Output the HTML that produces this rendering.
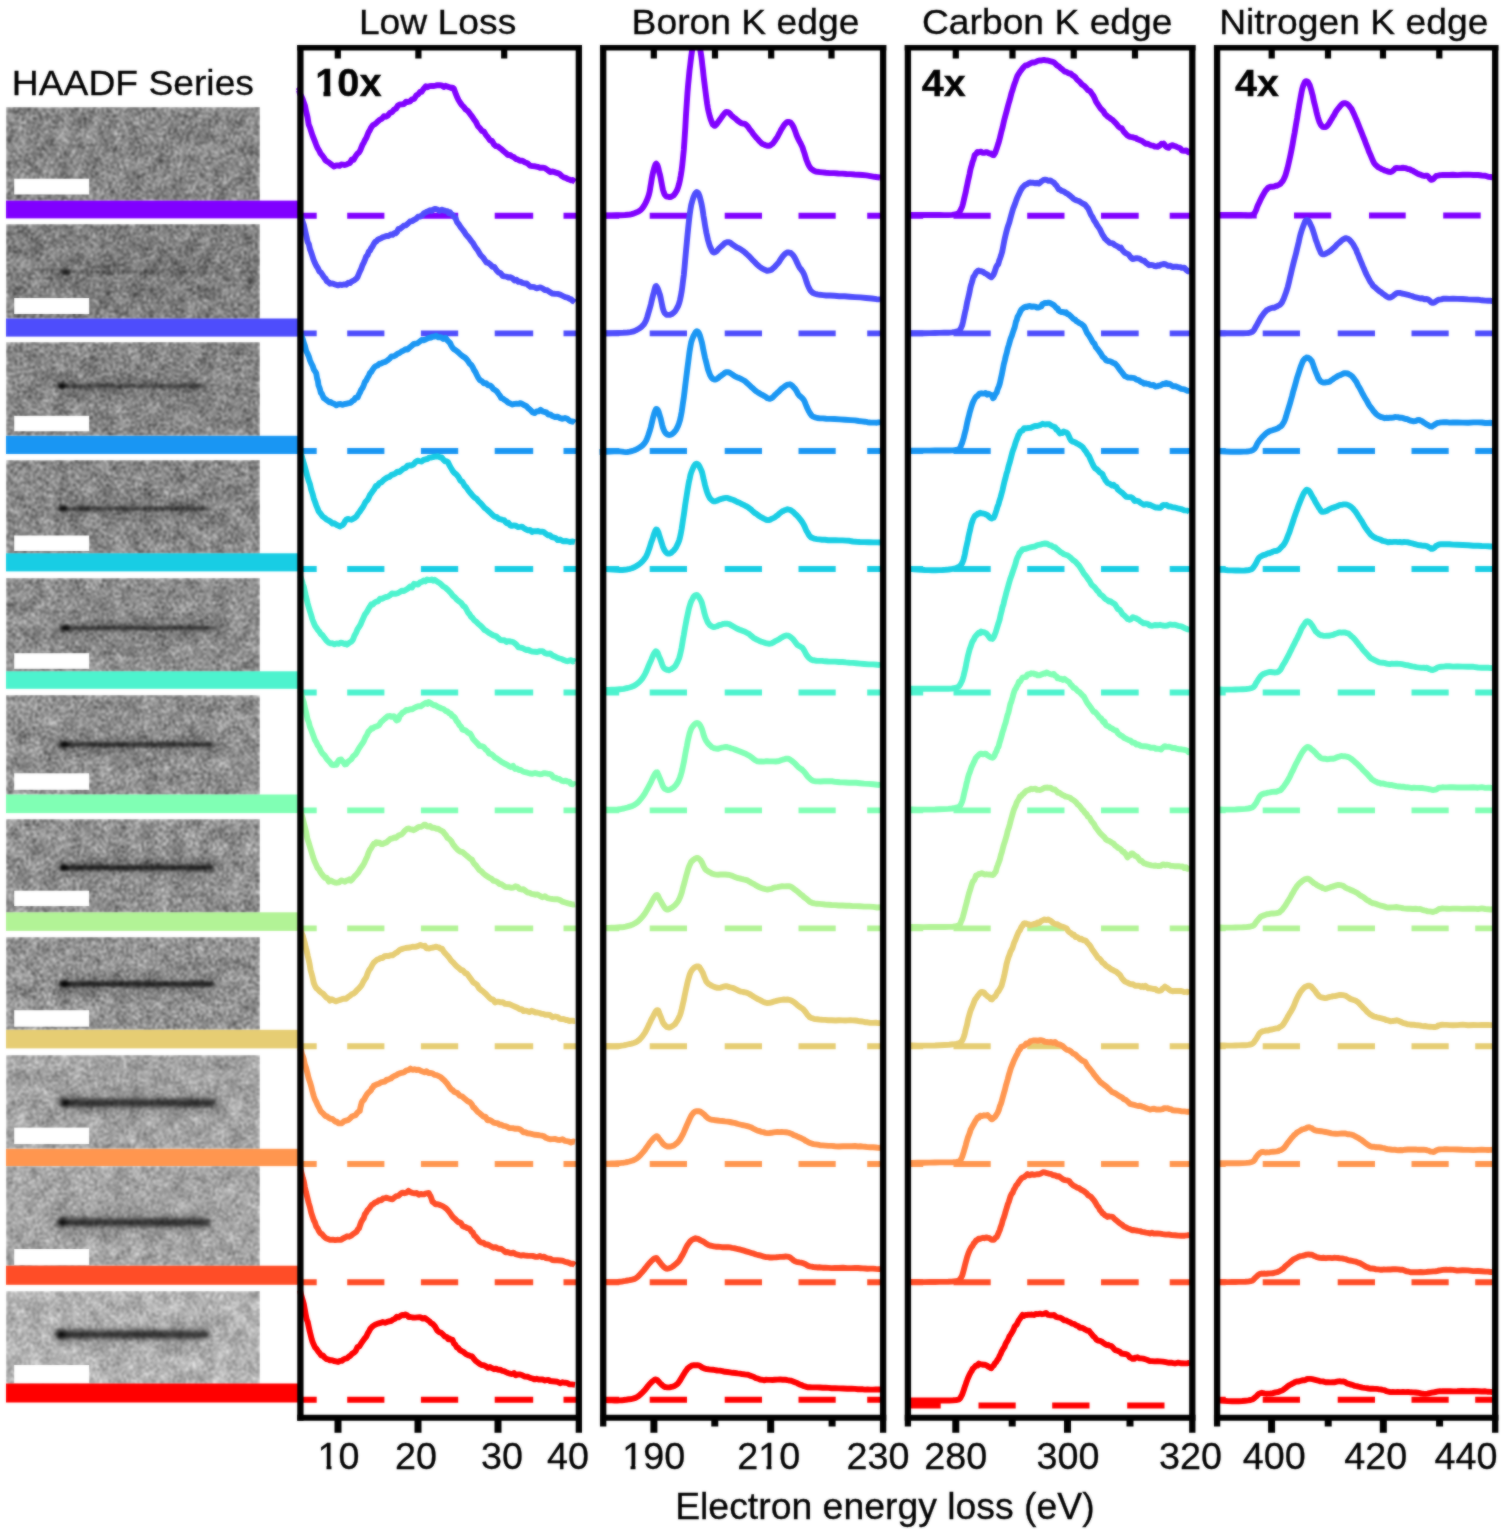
<!DOCTYPE html>
<html lang="en">
<head>
<meta charset="utf-8">
<title>HAADF Series and EELS spectra</title>
<style>
html,body{margin:0;padding:0;background:#fff;}
body{width:1504px;height:1533px;overflow:hidden;}
svg{display:block;}
</style>
</head>
<body>
<svg width="1504" height="1533" viewBox="0 0 1504 1533" role="img" aria-label="HAADF series and EELS spectra: Low Loss, Boron K edge, Carbon K edge, Nitrogen K edge">
<defs>
<filter id="nz0" x="0" y="0" width="100%" height="100%" color-interpolation-filters="sRGB"><feTurbulence type="fractalNoise" baseFrequency="0.45" numOctaves="1" seed="3"/><feColorMatrix type="matrix" values="1 0 0 0 0 1 0 0 0 0 1 0 0 0 0 0 0 0 0 1" result="a"/><feTurbulence type="fractalNoise" baseFrequency="0.07" numOctaves="2" seed="20"/><feColorMatrix type="matrix" values="1 0 0 0 0 1 0 0 0 0 1 0 0 0 0 0 0 0 0 1" result="c"/><feComposite in="a" in2="c" operator="arithmetic" k1="0" k2="1.35" k3="0.3" k4="-0.300"/><feColorMatrix type="matrix" values="1 0 0 0 0 1 0 0 0 0 1 0 0 0 0 0 0 0 0 1"/><feGaussianBlur stdDeviation="1"/></filter>
<filter id="nz1" x="0" y="0" width="100%" height="100%" color-interpolation-filters="sRGB"><feTurbulence type="fractalNoise" baseFrequency="0.45" numOctaves="1" seed="4"/><feColorMatrix type="matrix" values="1 0 0 0 0 1 0 0 0 0 1 0 0 0 0 0 0 0 0 1" result="a"/><feTurbulence type="fractalNoise" baseFrequency="0.07" numOctaves="2" seed="21"/><feColorMatrix type="matrix" values="1 0 0 0 0 1 0 0 0 0 1 0 0 0 0 0 0 0 0 1" result="c"/><feComposite in="a" in2="c" operator="arithmetic" k1="0" k2="1.35" k3="0.3" k4="-0.327"/><feColorMatrix type="matrix" values="1 0 0 0 0 1 0 0 0 0 1 0 0 0 0 0 0 0 0 1"/><feGaussianBlur stdDeviation="1"/></filter>
<filter id="nz2" x="0" y="0" width="100%" height="100%" color-interpolation-filters="sRGB"><feTurbulence type="fractalNoise" baseFrequency="0.45" numOctaves="1" seed="5"/><feColorMatrix type="matrix" values="1 0 0 0 0 1 0 0 0 0 1 0 0 0 0 0 0 0 0 1" result="a"/><feTurbulence type="fractalNoise" baseFrequency="0.07" numOctaves="2" seed="22"/><feColorMatrix type="matrix" values="1 0 0 0 0 1 0 0 0 0 1 0 0 0 0 0 0 0 0 1" result="c"/><feComposite in="a" in2="c" operator="arithmetic" k1="0" k2="1.35" k3="0.3" k4="-0.300"/><feColorMatrix type="matrix" values="1 0 0 0 0 1 0 0 0 0 1 0 0 0 0 0 0 0 0 1"/><feGaussianBlur stdDeviation="1"/></filter>
<filter id="nz3" x="0" y="0" width="100%" height="100%" color-interpolation-filters="sRGB"><feTurbulence type="fractalNoise" baseFrequency="0.45" numOctaves="1" seed="6"/><feColorMatrix type="matrix" values="1 0 0 0 0 1 0 0 0 0 1 0 0 0 0 0 0 0 0 1" result="a"/><feTurbulence type="fractalNoise" baseFrequency="0.07" numOctaves="2" seed="23"/><feColorMatrix type="matrix" values="1 0 0 0 0 1 0 0 0 0 1 0 0 0 0 0 0 0 0 1" result="c"/><feComposite in="a" in2="c" operator="arithmetic" k1="0" k2="1.35" k3="0.3" k4="-0.292"/><feColorMatrix type="matrix" values="1 0 0 0 0 1 0 0 0 0 1 0 0 0 0 0 0 0 0 1"/><feGaussianBlur stdDeviation="1"/></filter>
<filter id="nz4" x="0" y="0" width="100%" height="100%" color-interpolation-filters="sRGB"><feTurbulence type="fractalNoise" baseFrequency="0.45" numOctaves="1" seed="7"/><feColorMatrix type="matrix" values="1 0 0 0 0 1 0 0 0 0 1 0 0 0 0 0 0 0 0 1" result="a"/><feTurbulence type="fractalNoise" baseFrequency="0.07" numOctaves="2" seed="24"/><feColorMatrix type="matrix" values="1 0 0 0 0 1 0 0 0 0 1 0 0 0 0 0 0 0 0 1" result="c"/><feComposite in="a" in2="c" operator="arithmetic" k1="0" k2="1.35" k3="0.3" k4="-0.276"/><feColorMatrix type="matrix" values="1 0 0 0 0 1 0 0 0 0 1 0 0 0 0 0 0 0 0 1"/><feGaussianBlur stdDeviation="1"/></filter>
<filter id="nz5" x="0" y="0" width="100%" height="100%" color-interpolation-filters="sRGB"><feTurbulence type="fractalNoise" baseFrequency="0.45" numOctaves="1" seed="8"/><feColorMatrix type="matrix" values="1 0 0 0 0 1 0 0 0 0 1 0 0 0 0 0 0 0 0 1" result="a"/><feTurbulence type="fractalNoise" baseFrequency="0.07" numOctaves="2" seed="25"/><feColorMatrix type="matrix" values="1 0 0 0 0 1 0 0 0 0 1 0 0 0 0 0 0 0 0 1" result="c"/><feComposite in="a" in2="c" operator="arithmetic" k1="0" k2="1.35" k3="0.3" k4="-0.264"/><feColorMatrix type="matrix" values="1 0 0 0 0 1 0 0 0 0 1 0 0 0 0 0 0 0 0 1"/><feGaussianBlur stdDeviation="1"/></filter>
<filter id="nz6" x="0" y="0" width="100%" height="100%" color-interpolation-filters="sRGB"><feTurbulence type="fractalNoise" baseFrequency="0.45" numOctaves="1" seed="9"/><feColorMatrix type="matrix" values="1 0 0 0 0 1 0 0 0 0 1 0 0 0 0 0 0 0 0 1" result="a"/><feTurbulence type="fractalNoise" baseFrequency="0.07" numOctaves="2" seed="26"/><feColorMatrix type="matrix" values="1 0 0 0 0 1 0 0 0 0 1 0 0 0 0 0 0 0 0 1" result="c"/><feComposite in="a" in2="c" operator="arithmetic" k1="0" k2="1.35" k3="0.3" k4="-0.260"/><feColorMatrix type="matrix" values="1 0 0 0 0 1 0 0 0 0 1 0 0 0 0 0 0 0 0 1"/><feGaussianBlur stdDeviation="1"/></filter>
<filter id="nz7" x="0" y="0" width="100%" height="100%" color-interpolation-filters="sRGB"><feTurbulence type="fractalNoise" baseFrequency="0.45" numOctaves="1" seed="10"/><feColorMatrix type="matrix" values="1 0 0 0 0 1 0 0 0 0 1 0 0 0 0 0 0 0 0 1" result="a"/><feTurbulence type="fractalNoise" baseFrequency="0.07" numOctaves="2" seed="27"/><feColorMatrix type="matrix" values="1 0 0 0 0 1 0 0 0 0 1 0 0 0 0 0 0 0 0 1" result="c"/><feComposite in="a" in2="c" operator="arithmetic" k1="0" k2="1.35" k3="0.3" k4="-0.252"/><feColorMatrix type="matrix" values="1 0 0 0 0 1 0 0 0 0 1 0 0 0 0 0 0 0 0 1"/><feGaussianBlur stdDeviation="1"/></filter>
<filter id="nz8" x="0" y="0" width="100%" height="100%" color-interpolation-filters="sRGB"><feTurbulence type="fractalNoise" baseFrequency="0.45" numOctaves="1" seed="11"/><feColorMatrix type="matrix" values="1 0 0 0 0 1 0 0 0 0 1 0 0 0 0 0 0 0 0 1" result="a"/><feTurbulence type="fractalNoise" baseFrequency="0.07" numOctaves="2" seed="28"/><feColorMatrix type="matrix" values="1 0 0 0 0 1 0 0 0 0 1 0 0 0 0 0 0 0 0 1" result="c"/><feComposite in="a" in2="c" operator="arithmetic" k1="0" k2="1" k3="0.3" k4="-0.015"/><feColorMatrix type="matrix" values="1 0 0 0 0 1 0 0 0 0 1 0 0 0 0 0 0 0 0 1"/><feGaussianBlur stdDeviation="1"/></filter>
<filter id="nz9" x="0" y="0" width="100%" height="100%" color-interpolation-filters="sRGB"><feTurbulence type="fractalNoise" baseFrequency="0.45" numOctaves="1" seed="12"/><feColorMatrix type="matrix" values="1 0 0 0 0 1 0 0 0 0 1 0 0 0 0 0 0 0 0 1" result="a"/><feTurbulence type="fractalNoise" baseFrequency="0.07" numOctaves="2" seed="29"/><feColorMatrix type="matrix" values="1 0 0 0 0 1 0 0 0 0 1 0 0 0 0 0 0 0 0 1" result="c"/><feComposite in="a" in2="c" operator="arithmetic" k1="0" k2="1" k3="0.3" k4="-0.007"/><feColorMatrix type="matrix" values="1 0 0 0 0 1 0 0 0 0 1 0 0 0 0 0 0 0 0 1"/><feGaussianBlur stdDeviation="1"/></filter>
<filter id="nz10" x="0" y="0" width="100%" height="100%" color-interpolation-filters="sRGB"><feTurbulence type="fractalNoise" baseFrequency="0.45" numOctaves="1" seed="13"/><feColorMatrix type="matrix" values="1 0 0 0 0 1 0 0 0 0 1 0 0 0 0 0 0 0 0 1" result="a"/><feTurbulence type="fractalNoise" baseFrequency="0.07" numOctaves="2" seed="30"/><feColorMatrix type="matrix" values="1 0 0 0 0 1 0 0 0 0 1 0 0 0 0 0 0 0 0 1" result="c"/><feComposite in="a" in2="c" operator="arithmetic" k1="0" k2="0.95" k3="0.3" k4="0.073"/><feColorMatrix type="matrix" values="1 0 0 0 0 1 0 0 0 0 1 0 0 0 0 0 0 0 0 1"/><feGaussianBlur stdDeviation="1"/></filter>
<filter id="bl" x="-10%" y="-200%" width="120%" height="500%"><feGaussianBlur stdDeviation="1.7"/></filter>
<filter id="bl2" x="-10%" y="-200%" width="120%" height="500%"><feGaussianBlur stdDeviation="2.1"/></filter>
<filter id="halo" x="-20%" y="-200%" width="140%" height="500%"><feGaussianBlur stdDeviation="7"/></filter>
<clipPath id="ic0"><rect x="6.5" y="107.9" width="253.2" height="92.7"/></clipPath>
<clipPath id="ic1"><rect x="6.5" y="224.9" width="253.2" height="93.6"/></clipPath>
<clipPath id="ic2"><rect x="6.5" y="342.7" width="253.2" height="93.1"/></clipPath>
<clipPath id="ic3"><rect x="6.5" y="460.6" width="253.2" height="92.7"/></clipPath>
<clipPath id="ic4"><rect x="6.5" y="578.1" width="253.2" height="93.2"/></clipPath>
<clipPath id="ic5"><rect x="6.5" y="695.4" width="253.2" height="99.1"/></clipPath>
<clipPath id="ic6"><rect x="6.5" y="819.6" width="253.2" height="92.7"/></clipPath>
<clipPath id="ic7"><rect x="6.5" y="937.1" width="253.2" height="92.7"/></clipPath>
<clipPath id="ic8"><rect x="6.5" y="1055.5" width="253.2" height="93.3"/></clipPath>
<clipPath id="ic9"><rect x="6.5" y="1166.5" width="253.2" height="99.2"/></clipPath>
<clipPath id="ic10"><rect x="6.5" y="1291.6" width="253.2" height="91.9"/></clipPath>
<clipPath id="cp_ll"><rect x="296.2" y="47.8" width="283.7" height="1369.9"/></clipPath>
<clipPath id="cp_bo"><rect x="599.0" y="47.8" width="285.1" height="1369.9"/></clipPath>
<clipPath id="cp_ca"><rect x="903.7" y="47.8" width="289.6" height="1369.9"/></clipPath>
<clipPath id="cp_ni"><rect x="1212.9" y="47.8" width="283.3" height="1369.9"/></clipPath>
<filter id="soft" filterUnits="userSpaceOnUse" x="0" y="0" width="1504" height="1533" color-interpolation-filters="sRGB"><feGaussianBlur in="SourceGraphic" stdDeviation="0.9" result="b"/><feComposite in="SourceGraphic" in2="b" operator="arithmetic" k1="0" k2="0.45" k3="0.55" k4="0"/></filter>
</defs>
<g filter="url(#soft)">
<rect width="1504" height="1533" fill="#fff"/>
<rect x="6.5" y="107.9" width="253.2" height="92.7" fill="#909090" filter="url(#nz0)"/>
<rect x="14.2" y="178.7" width="75" height="15.8" fill="#fff"/>
<rect x="6.0" y="200.6" width="293.0" height="17.8" fill="#8000ff"/>
<rect x="6.5" y="224.9" width="253.2" height="93.6" fill="#909090" filter="url(#nz1)"/>
<rect x="57.0" y="264.0" width="153.0" height="16" fill="#000" opacity="0.08" filter="url(#halo)" clip-path="url(#ic1)"/>
<g filter="url(#bl)"><line x1="64.0" y1="272.0" x2="204.0" y2="272.0" stroke="#000" stroke-width="2.4" stroke-linecap="round" opacity="0.30"/><ellipse cx="65.0" cy="272.0" rx="4.6" ry="3.0" fill="#000" opacity="0.75"/></g>
<rect x="14.2" y="298.0" width="75" height="16.0" fill="#fff"/>
<rect x="6.0" y="318.5" width="293.0" height="18.1" fill="#4e4dfc"/>
<rect x="6.5" y="342.7" width="253.2" height="93.1" fill="#909090" filter="url(#nz2)"/>
<rect x="54.0" y="378.0" width="156.0" height="16" fill="#000" opacity="0.15" filter="url(#halo)" clip-path="url(#ic2)"/>
<g filter="url(#bl)"><line x1="61.0" y1="386.0" x2="204.0" y2="386.0" stroke="#000" stroke-width="3.3" stroke-linecap="round" opacity="0.52"/><ellipse cx="62.0" cy="386.0" rx="4.6" ry="3.0" fill="#000" opacity="0.90"/></g>
<rect x="14.2" y="415.8" width="75" height="15.5" fill="#fff"/>
<rect x="6.0" y="435.8" width="293.0" height="18.2" fill="#1996f3"/>
<rect x="6.5" y="460.6" width="253.2" height="92.7" fill="#909090" filter="url(#nz3)"/>
<rect x="55.0" y="500.6" width="159.0" height="16" fill="#000" opacity="0.16" filter="url(#halo)" clip-path="url(#ic3)"/>
<g filter="url(#bl)"><line x1="62.0" y1="508.6" x2="208.0" y2="508.6" stroke="#000" stroke-width="3.7" stroke-linecap="round" opacity="0.56"/><ellipse cx="63.0" cy="508.6" rx="4.6" ry="3.0" fill="#000" opacity="0.85"/></g>
<rect x="14.2" y="535.5" width="75" height="15.5" fill="#fff"/>
<rect x="6.0" y="553.3" width="293.0" height="18.1" fill="#18cde4"/>
<rect x="6.5" y="578.1" width="253.2" height="93.2" fill="#909090" filter="url(#nz4)"/>
<rect x="57.0" y="620.0" width="160.0" height="16" fill="#000" opacity="0.17" filter="url(#halo)" clip-path="url(#ic4)"/>
<g filter="url(#bl)"><line x1="64.0" y1="628.0" x2="211.0" y2="628.0" stroke="#000" stroke-width="4.0" stroke-linecap="round" opacity="0.60"/><ellipse cx="65.0" cy="628.0" rx="4.6" ry="3.1" fill="#000" opacity="0.85"/></g>
<rect x="14.2" y="653.2" width="75" height="15.6" fill="#fff"/>
<rect x="6.0" y="671.3" width="293.0" height="17.5" fill="#4df3ce"/>
<rect x="6.5" y="695.4" width="253.2" height="99.1" fill="#909090" filter="url(#nz5)"/>
<rect x="56.0" y="736.5" width="161.0" height="16" fill="#000" opacity="0.18" filter="url(#halo)" clip-path="url(#ic5)"/>
<g filter="url(#bl)"><line x1="63.0" y1="744.5" x2="211.0" y2="744.5" stroke="#000" stroke-width="4.6" stroke-linecap="round" opacity="0.66"/><ellipse cx="64.0" cy="744.5" rx="4.6" ry="3.4" fill="#000" opacity="0.78"/></g>
<rect x="14.2" y="773.3" width="75" height="16.5" fill="#fff"/>
<rect x="6.0" y="794.5" width="293.0" height="18.6" fill="#80ffb4"/>
<rect x="6.5" y="819.6" width="253.2" height="92.7" fill="#909090" filter="url(#nz6)"/>
<rect x="56.0" y="859.6" width="161.0" height="16" fill="#000" opacity="0.20" filter="url(#halo)" clip-path="url(#ic6)"/>
<g filter="url(#bl)"><line x1="63.0" y1="867.6" x2="211.0" y2="867.6" stroke="#000" stroke-width="5.1" stroke-linecap="round" opacity="0.70"/><ellipse cx="64.0" cy="867.6" rx="4.6" ry="3.6" fill="#000" opacity="0.82"/></g>
<rect x="14.2" y="890.7" width="75" height="15.4" fill="#fff"/>
<rect x="6.0" y="912.3" width="293.0" height="18.6" fill="#b2f396"/>
<rect x="6.5" y="937.1" width="253.2" height="92.7" fill="#909090" filter="url(#nz7)"/>
<rect x="56.0" y="976.0" width="161.0" height="16" fill="#000" opacity="0.20" filter="url(#halo)" clip-path="url(#ic7)"/>
<g filter="url(#bl)"><line x1="63.0" y1="984.0" x2="211.0" y2="984.0" stroke="#000" stroke-width="5.6" stroke-linecap="round" opacity="0.72"/><ellipse cx="64.0" cy="984.0" rx="4.6" ry="3.9" fill="#000" opacity="0.84"/></g>
<rect x="14.2" y="1010.2" width="75" height="16.5" fill="#fff"/>
<rect x="6.0" y="1029.8" width="293.0" height="18.6" fill="#e6cd73"/>
<rect x="6.5" y="1055.5" width="253.2" height="93.3" fill="#909090" filter="url(#nz8)"/>
<rect x="57.0" y="1094.9" width="161.0" height="16" fill="#000" opacity="0.19" filter="url(#halo)" clip-path="url(#ic8)"/>
<g filter="url(#bl2)"><line x1="64.0" y1="1102.9" x2="212.0" y2="1102.9" stroke="#000" stroke-width="7.4" stroke-linecap="round" opacity="0.68"/><ellipse cx="65.0" cy="1102.9" rx="4.6" ry="4.8" fill="#000" opacity="0.80"/></g>
<rect x="14.2" y="1127.6" width="75" height="16.5" fill="#fff"/>
<rect x="6.0" y="1148.8" width="293.0" height="17.3" fill="#ff964f"/>
<rect x="6.5" y="1166.5" width="253.2" height="99.2" fill="#909090" filter="url(#nz9)"/>
<rect x="54.0" y="1214.4" width="159.0" height="16" fill="#000" opacity="0.19" filter="url(#halo)" clip-path="url(#ic9)"/>
<g filter="url(#bl2)"><line x1="61.0" y1="1222.4" x2="207.0" y2="1222.4" stroke="#000" stroke-width="7.4" stroke-linecap="round" opacity="0.68"/><ellipse cx="62.0" cy="1222.4" rx="4.6" ry="4.8" fill="#000" opacity="0.80"/></g>
<rect x="14.2" y="1249.0" width="75" height="16.0" fill="#fff"/>
<rect x="6.0" y="1265.7" width="293.0" height="19.1" fill="#ff4d27"/>
<rect x="6.5" y="1291.6" width="253.2" height="91.9" fill="#909090" filter="url(#nz10)"/>
<rect x="53.0" y="1326.6" width="159.0" height="16" fill="#000" opacity="0.19" filter="url(#halo)" clip-path="url(#ic10)"/>
<g filter="url(#bl2)"><line x1="60.0" y1="1334.6" x2="206.0" y2="1334.6" stroke="#000" stroke-width="7.6" stroke-linecap="round" opacity="0.68"/><ellipse cx="61.0" cy="1334.6" rx="4.6" ry="4.9" fill="#000" opacity="0.80"/></g>
<rect x="14.2" y="1365.0" width="75" height="18.5" fill="#fff"/>
<rect x="6.0" y="1383.5" width="293.0" height="19.0" fill="#ff0000"/>
<g clip-path="url(#cp_ll)" fill="none" stroke-linejoin="round" stroke-linecap="butt">
<path d="M299.7,215.7H316.7M347.2,215.7H384.4M420.9,215.7H458.2M494.7,215.7H533.2M563.5,215.7H579.7" stroke="#8000ff" stroke-width="5.9"/>
<path d="M299.7,333.4H316.7M347.2,333.4H384.4M420.9,333.4H458.2M494.7,333.4H533.2M563.5,333.4H579.7" stroke="#4e4dfc" stroke-width="5.9"/>
<path d="M299.7,451.0H316.7M347.2,451.0H384.4M420.9,451.0H458.2M494.7,451.0H533.2M563.5,451.0H579.7" stroke="#1996f3" stroke-width="5.9"/>
<path d="M299.7,569.0H316.7M347.2,569.0H384.4M420.9,569.0H458.2M494.7,569.0H533.2M563.5,569.0H579.7" stroke="#18cde4" stroke-width="5.9"/>
<path d="M299.7,692.5H316.7M347.2,692.5H384.4M420.9,692.5H458.2M494.7,692.5H533.2M563.5,692.5H579.7" stroke="#4df3ce" stroke-width="5.9"/>
<path d="M299.7,810.4H316.7M347.2,810.4H384.4M420.9,810.4H458.2M494.7,810.4H533.2M563.5,810.4H579.7" stroke="#80ffb4" stroke-width="5.9"/>
<path d="M299.7,928.4H316.7M347.2,928.4H384.4M420.9,928.4H458.2M494.7,928.4H533.2M563.5,928.4H579.7" stroke="#b2f396" stroke-width="5.9"/>
<path d="M299.7,1046.2H316.7M347.2,1046.2H384.4M420.9,1046.2H458.2M494.7,1046.2H533.2M563.5,1046.2H579.7" stroke="#e6cd73" stroke-width="5.9"/>
<path d="M299.7,1164.0H316.7M347.2,1164.0H384.4M420.9,1164.0H458.2M494.7,1164.0H533.2M563.5,1164.0H579.7" stroke="#ff964f" stroke-width="5.9"/>
<path d="M299.7,1282.2H316.7M347.2,1282.2H384.4M420.9,1282.2H458.2M494.7,1282.2H533.2M563.5,1282.2H579.7" stroke="#ff4d27" stroke-width="5.9"/>
<path d="M299.7,1399.8H316.7M347.2,1399.8H384.4M420.9,1399.8H458.2M494.7,1399.8H533.2M563.5,1399.8H579.7" stroke="#ff0000" stroke-width="5.9"/>
<path d="M298.0,91.1 L298.8,90.1 L299.9,93.7 L301.1,95.7 L302.5,98.8 L303.8,102.4 L305.0,105.7 L306.2,111.8 L307.5,117.0 L308.7,124.6 L310.0,127.6 L311.2,131.4 L312.4,135.1 L313.7,138.4 L314.9,141.4 L316.2,144.8 L317.6,148.2 L319.1,150.5 L320.6,153.6 L322.1,155.3 L323.8,157.5 L325.4,160.3 L327.2,161.5 L328.9,162.5 L330.7,164.0 L332.5,165.3 L334.2,166.6 L336.0,165.5 L337.8,165.4 L339.5,165.8 L341.2,164.5 L343.0,164.6 L344.8,165.0 L346.5,164.5 L348.2,163.6 L350.0,162.9 L351.8,159.5 L353.6,159.7 L355.4,156.5 L357.2,153.9 L358.8,152.7 L360.2,150.5 L361.4,147.4 L362.6,144.5 L363.8,142.6 L365.0,140.0 L366.2,138.2 L367.4,135.2 L368.6,132.2 L369.8,130.3 L371.2,127.4 L372.8,125.2 L374.5,124.4 L376.3,123.0 L378.1,121.2 L380.0,119.6 L381.9,118.8 L383.9,116.2 L385.9,116.7 L388.0,115.4 L390.0,112.8 L392.0,112.1 L394.0,109.7 L396.0,108.7 L398.0,105.4 L400.0,104.5 L402.0,104.4 L404.0,104.0 L406.0,101.7 L408.0,102.0 L410.0,101.4 L412.0,99.4 L414.1,98.9 L416.2,95.4 L418.2,94.4 L420.0,91.9 L421.6,91.8 L423.1,89.5 L424.4,88.0 L425.9,86.2 L427.5,87.2 L429.3,86.1 L431.3,85.9 L433.4,86.0 L435.5,85.6 L437.5,85.1 L439.6,85.2 L441.7,85.4 L443.8,87.0 L445.7,85.8 L447.5,86.7 L449.0,87.1 L450.3,87.5 L451.4,88.0 L452.6,87.6 L453.8,88.5 L454.9,91.5 L456.1,94.7 L457.2,97.3 L458.5,100.0 L460.0,102.3 L461.8,105.0 L463.7,106.9 L465.8,109.6 L467.9,110.9 L470.0,113.8 L472.0,116.3 L474.0,119.4 L476.0,122.1 L478.0,126.2 L480.0,128.3 L482.0,131.0 L484.0,131.6 L486.0,135.1 L488.0,137.4 L490.0,140.3 L492.0,140.8 L494.0,144.5 L496.0,146.2 L498.0,146.5 L500.0,148.2 L502.0,149.7 L504.0,151.5 L506.0,153.1 L508.0,155.0 L510.0,154.9 L512.0,156.5 L513.9,157.1 L515.8,159.0 L517.8,159.4 L520.0,160.8 L522.3,160.6 L524.8,162.3 L527.4,163.2 L530.0,165.6 L532.5,166.1 L535.0,166.3 L537.5,166.8 L540.0,167.8 L542.5,167.7 L545.0,168.2 L547.5,169.9 L550.1,172.0 L552.7,171.5 L555.2,172.4 L557.5,173.1 L559.7,174.0 L561.8,176.1 L563.8,177.4 L565.7,177.9 L567.5,178.9 L569.3,179.6 L571.0,180.3 L572.7,180.0 L574.0,181.1 L575.0,181.8" stroke="#8000ff" stroke-width="5.9"/>
<path d="M300.0,214.6 L300.5,215.9 L301.2,217.3 L302.0,219.6 L302.9,222.7 L303.8,224.8 L304.6,228.3 L305.6,232.8 L306.6,237.1 L307.6,241.9 L308.8,243.9 L309.9,249.2 L311.1,252.2 L312.4,256.1 L313.6,259.8 L315.0,263.1 L316.4,266.0 L317.9,268.2 L319.4,271.5 L321.0,272.7 L322.5,274.9 L324.0,277.3 L325.4,278.3 L326.8,281.3 L328.3,282.0 L330.0,283.7 L331.8,283.4 L333.8,283.9 L335.9,284.7 L338.0,285.3 L340.0,284.7 L342.1,285.0 L344.2,284.4 L346.3,284.7 L348.2,282.8 L350.0,283.1 L351.5,281.6 L352.8,281.0 L353.9,280.6 L355.1,279.5 L356.2,278.8 L357.5,277.2 L358.8,274.0 L360.0,271.2 L361.2,268.7 L362.5,265.1 L363.8,262.5 L365.0,259.6 L366.2,256.4 L367.5,255.2 L368.8,251.5 L370.0,250.6 L371.2,248.1 L372.4,246.6 L373.7,244.1 L375.0,242.0 L376.4,241.3 L377.8,239.7 L379.3,239.0 L380.8,238.3 L382.5,237.4 L384.4,236.8 L386.4,236.0 L388.6,236.0 L390.6,234.5 L392.5,234.9 L394.1,233.3 L395.6,233.4 L396.9,232.1 L398.4,229.0 L400.0,228.8 L401.8,227.4 L403.8,225.7 L405.9,225.3 L408.0,223.5 L410.0,221.5 L412.0,221.1 L414.0,219.9 L416.0,218.8 L418.0,216.8 L420.0,216.6 L422.0,215.4 L424.1,213.1 L426.2,212.1 L428.2,211.3 L430.0,210.2 L431.6,210.9 L433.1,209.7 L434.4,208.9 L435.9,209.0 L437.5,209.5 L439.4,210.9 L441.5,209.7 L443.6,210.3 L445.7,210.9 L447.5,211.2 L448.9,213.2 L450.1,212.3 L451.2,213.9 L452.4,214.7 L453.8,216.6 L455.4,217.9 L457.1,222.3 L459.0,224.4 L460.8,227.4 L462.5,229.5 L464.1,231.6 L465.6,234.1 L467.1,235.9 L468.5,237.3 L470.0,239.4 L471.5,241.3 L473.0,243.1 L474.5,245.9 L476.0,248.1 L477.5,249.9 L479.0,252.5 L480.5,255.0 L482.0,256.5 L483.5,258.1 L485.0,260.4 L486.5,262.5 L487.9,262.5 L489.3,263.7 L490.8,264.8 L492.5,266.9 L494.3,266.9 L496.3,270.0 L498.4,272.4 L500.5,273.1 L502.5,275.8 L504.5,276.4 L506.5,276.6 L508.5,277.6 L510.5,277.2 L512.5,278.4 L514.5,280.5 L516.5,279.7 L518.5,281.9 L520.5,281.6 L522.5,283.0 L524.5,283.5 L526.5,283.4 L528.5,285.4 L530.5,286.8 L532.5,286.9 L534.5,287.2 L536.4,288.3 L538.3,287.8 L540.3,287.4 L542.5,288.4 L544.8,290.0 L547.3,290.3 L549.9,292.2 L552.5,293.6 L555.0,293.8 L557.6,293.9 L560.2,294.6 L562.9,296.0 L565.3,297.2 L567.5,297.6 L569.4,298.8 L571.2,299.4 L572.8,301.0 L574.1,301.5 L575.0,302.3" stroke="#4e4dfc" stroke-width="5.9"/>
<path d="M300.0,331.8 L300.5,332.9 L301.1,335.2 L301.9,336.9 L302.8,339.3 L303.8,342.9 L304.8,345.5 L306.1,350.7 L307.4,353.3 L308.7,356.2 L310.0,360.4 L311.3,363.4 L312.6,365.8 L313.9,369.7 L315.2,371.6 L316.2,373.3 L317.1,378.5 L317.9,381.0 L318.5,385.3 L319.2,387.0 L320.0,389.4 L320.9,393.1 L321.8,393.6 L322.8,396.0 L323.8,398.2 L325.0,398.8 L326.3,399.9 L327.7,401.0 L329.2,402.2 L330.8,402.0 L332.5,403.3 L334.3,403.9 L336.3,405.3 L338.4,404.2 L340.5,404.0 L342.5,404.9 L344.6,404.0 L346.7,403.8 L348.8,403.1 L350.7,402.8 L352.5,400.9 L354.0,400.2 L355.3,397.9 L356.4,397.6 L357.6,397.5 L358.8,394.6 L360.0,392.5 L361.2,389.7 L362.5,388.0 L363.8,385.1 L365.0,381.8 L366.2,380.5 L367.5,377.8 L368.8,375.7 L370.0,372.8 L371.2,372.2 L372.4,369.9 L373.6,368.3 L374.7,366.9 L376.0,366.0 L377.5,365.5 L379.3,363.8 L381.2,363.6 L383.3,362.3 L385.4,361.8 L387.5,360.4 L389.5,358.8 L391.5,356.5 L393.5,356.4 L395.5,355.4 L397.5,353.8 L399.5,353.0 L401.5,351.5 L403.5,350.6 L405.5,349.3 L407.5,349.5 L409.5,347.6 L411.5,346.0 L413.5,344.2 L415.5,343.6 L417.5,343.3 L419.5,341.7 L421.6,340.0 L423.6,340.3 L425.6,339.5 L427.5,338.5 L429.3,337.8 L431.0,337.5 L432.6,336.7 L434.4,336.6 L436.2,335.8 L438.4,337.4 L440.8,337.2 L443.2,339.0 L445.5,337.7 L447.5,340.4 L449.0,342.0 L450.1,343.0 L451.1,345.3 L452.3,347.3 L453.8,349.1 L455.7,350.2 L458.1,352.1 L460.5,354.5 L462.9,356.4 L465.0,357.6 L466.7,359.4 L468.3,361.4 L469.7,363.8 L471.1,364.7 L472.5,366.8 L474.0,370.0 L475.4,372.0 L476.8,375.0 L478.3,377.9 L480.0,380.3 L481.9,381.1 L483.9,383.4 L486.1,383.1 L488.1,385.4 L490.0,385.4 L491.7,386.8 L493.3,389.1 L494.8,389.8 L496.2,390.8 L497.5,392.3 L498.6,394.0 L499.4,395.0 L500.3,396.3 L501.2,398.2 L502.5,398.4 L504.2,399.7 L506.1,400.8 L508.3,402.8 L510.4,403.6 L512.5,404.5 L514.5,403.9 L516.5,403.7 L518.5,403.9 L520.5,403.1 L522.5,404.2 L524.5,405.3 L526.5,406.2 L528.5,408.4 L530.5,410.0 L532.5,412.2 L534.5,413.1 L536.5,411.5 L538.5,411.3 L540.5,409.8 L542.5,411.4 L544.5,412.0 L546.4,412.4 L548.3,414.6 L550.3,414.5 L552.5,416.1 L554.9,417.0 L557.4,416.7 L560.1,418.2 L562.6,418.8 L565.0,418.0 L567.3,418.8 L569.7,420.9 L571.8,421.5 L573.7,421.7 L575.0,422.8" stroke="#1996f3" stroke-width="5.9"/>
<path d="M300.0,449.9 L300.5,451.5 L301.1,454.1 L301.9,456.4 L302.8,460.1 L303.8,463.3 L304.8,466.8 L306.1,471.5 L307.4,476.4 L308.7,480.9 L310.0,484.3 L311.2,489.8 L312.5,493.6 L313.8,498.6 L315.0,501.7 L316.2,505.3 L317.4,508.1 L318.6,511.3 L319.7,512.6 L321.0,514.3 L322.5,516.4 L324.3,517.6 L326.3,519.3 L328.4,520.4 L330.5,521.6 L332.5,523.6 L334.4,523.3 L336.3,524.7 L338.1,525.5 L339.8,526.5 L341.2,525.6 L342.4,525.2 L343.3,524.3 L344.2,523.0 L345.1,521.1 L346.2,519.7 L347.8,518.9 L349.5,519.4 L351.4,519.7 L353.3,518.6 L355.0,517.6 L356.6,516.3 L358.1,513.6 L359.6,511.9 L361.0,509.6 L362.5,507.7 L364.0,505.1 L365.5,501.9 L367.0,500.6 L368.5,498.3 L370.0,494.9 L371.5,493.0 L372.9,490.8 L374.3,489.1 L375.8,486.0 L377.5,485.9 L379.3,483.0 L381.3,482.4 L383.4,480.2 L385.5,478.6 L387.5,477.4 L389.5,476.9 L391.5,474.9 L393.5,474.3 L395.5,473.3 L397.5,471.6 L399.5,472.0 L401.5,470.3 L403.5,468.6 L405.5,468.0 L407.5,465.7 L409.5,465.3 L411.5,465.5 L413.5,464.4 L415.5,462.0 L417.5,460.7 L419.5,461.2 L421.6,461.5 L423.6,459.9 L425.6,459.3 L427.5,459.1 L429.3,457.6 L431.1,457.5 L432.8,457.2 L434.5,456.6 L436.2,456.5 L438.0,456.2 L439.8,457.3 L441.6,457.5 L443.3,459.5 L445.0,461.4 L446.5,461.2 L448.0,462.2 L449.4,465.3 L450.9,467.9 L452.5,470.6 L454.3,472.9 L456.3,474.4 L458.4,476.9 L460.5,480.7 L462.5,481.9 L464.5,485.6 L466.5,487.5 L468.5,490.6 L470.5,493.0 L472.5,495.4 L474.5,497.6 L476.5,498.6 L478.5,501.3 L480.5,503.0 L482.5,505.2 L484.5,507.8 L486.5,509.1 L488.5,511.0 L490.5,512.9 L492.5,514.8 L494.5,516.7 L496.6,516.9 L498.7,518.9 L500.7,519.3 L502.5,519.9 L504.1,520.2 L505.6,522.1 L506.9,523.3 L508.4,522.8 L510.0,525.2 L511.8,525.9 L513.8,525.4 L515.9,525.7 L518.0,527.1 L520.0,526.9 L522.0,526.6 L524.0,528.2 L526.0,529.4 L528.0,530.4 L530.0,529.9 L532.0,531.9 L534.0,531.1 L536.0,531.3 L538.0,531.0 L540.0,531.7 L542.0,531.7 L544.0,532.2 L546.0,533.9 L548.0,535.3 L550.0,535.3 L551.9,537.2 L553.8,537.5 L555.6,538.0 L557.7,540.1 L560.0,539.5 L562.9,541.2 L566.4,541.0 L569.8,542.0 L572.9,541.5 L575.0,542.0" stroke="#18cde4" stroke-width="5.9"/>
<path d="M300.0,575.6 L300.5,576.7 L301.2,578.8 L302.0,581.1 L302.9,584.6 L303.8,586.7 L304.6,590.4 L305.6,595.0 L306.6,598.9 L307.6,603.2 L308.8,607.5 L309.9,611.2 L311.1,614.9 L312.4,619.5 L313.6,622.5 L315.0,625.7 L316.4,627.7 L317.8,629.9 L319.3,631.5 L320.8,634.1 L322.5,635.1 L324.3,637.8 L326.3,640.4 L328.4,642.5 L330.5,643.4 L332.5,643.3 L334.5,644.3 L336.6,643.4 L338.7,643.8 L340.7,642.7 L342.5,643.0 L344.2,644.0 L345.7,643.5 L347.1,644.6 L348.5,643.4 L350.0,642.3 L351.5,641.6 L353.0,639.5 L354.5,635.5 L356.0,632.9 L357.5,629.2 L359.0,627.0 L360.6,624.4 L362.1,620.7 L363.6,617.4 L365.0,614.2 L366.3,612.8 L367.5,610.8 L368.6,608.7 L369.9,606.7 L371.2,604.3 L372.8,604.6 L374.5,602.6 L376.3,601.7 L378.1,601.3 L380.0,598.8 L381.9,598.9 L383.9,597.8 L385.9,597.0 L388.0,596.6 L390.0,595.3 L392.0,593.4 L394.0,593.8 L396.0,593.7 L398.0,593.2 L400.0,591.8 L402.0,590.7 L404.0,591.0 L406.0,589.8 L408.0,588.5 L410.0,586.6 L412.0,587.4 L414.1,583.8 L416.1,584.1 L418.1,584.5 L420.0,582.4 L421.9,581.9 L423.6,580.5 L425.4,581.4 L427.1,579.5 L428.8,580.1 L430.3,580.0 L431.8,579.4 L433.2,580.7 L434.7,579.8 L436.2,580.9 L437.9,582.1 L439.6,583.0 L441.4,584.7 L443.1,586.4 L445.0,587.3 L446.9,589.0 L448.9,590.9 L450.9,593.1 L453.0,595.9 L455.0,597.4 L457.0,599.7 L459.1,601.4 L461.2,602.9 L463.2,605.9 L465.0,606.9 L466.6,609.7 L468.1,612.8 L469.4,613.8 L470.9,616.6 L472.5,617.9 L474.3,620.4 L476.3,621.7 L478.4,624.0 L480.5,625.6 L482.5,627.6 L484.5,630.0 L486.5,630.9 L488.5,632.6 L490.5,633.7 L492.5,634.9 L494.5,635.7 L496.5,636.3 L498.5,638.3 L500.5,640.1 L502.5,640.3 L504.5,640.3 L506.5,641.9 L508.5,641.1 L510.5,641.5 L512.5,641.8 L514.5,643.0 L516.5,644.8 L518.5,647.4 L520.5,647.6 L522.5,648.2 L524.5,649.2 L526.4,650.0 L528.3,649.6 L530.3,651.0 L532.5,651.6 L534.8,651.7 L537.3,652.0 L539.9,651.1 L542.5,651.1 L545.0,653.2 L547.5,653.9 L550.1,653.4 L552.7,655.5 L555.2,656.5 L557.5,657.8 L559.7,658.5 L561.8,659.0 L563.8,660.1 L565.7,660.8 L567.5,661.2 L569.3,660.6 L571.0,660.2 L572.7,661.5 L574.0,661.0 L575.0,662.1" stroke="#4df3ce" stroke-width="5.9"/>
<path d="M300.0,690.4 L300.5,691.7 L301.2,693.5 L302.0,696.4 L302.9,700.0 L303.8,702.1 L304.6,706.6 L305.6,710.5 L306.6,714.5 L307.6,719.3 L308.8,722.1 L309.9,726.8 L311.1,729.4 L312.4,733.1 L313.6,736.3 L315.0,740.2 L316.4,742.3 L317.7,745.4 L319.2,747.1 L320.7,750.7 L322.5,753.5 L324.6,755.4 L327.0,759.2 L329.4,761.6 L331.8,764.8 L333.8,765.1 L335.3,764.1 L336.6,764.7 L337.7,762.1 L338.8,760.2 L340.0,759.6 L341.2,759.5 L342.4,761.4 L343.6,762.1 L344.8,764.5 L346.2,764.1 L347.9,761.9 L349.6,760.5 L351.5,759.1 L353.3,756.1 L355.0,754.9 L356.6,752.7 L358.1,749.8 L359.6,747.4 L361.0,745.3 L362.5,743.3 L364.0,740.7 L365.5,737.1 L367.0,734.8 L368.5,731.5 L370.0,730.2 L371.5,728.2 L372.9,728.5 L374.4,727.0 L375.9,726.6 L377.5,726.2 L379.2,725.0 L381.0,722.0 L382.9,720.4 L384.6,718.9 L386.2,717.6 L387.7,716.2 L389.0,716.3 L390.2,715.9 L391.4,716.8 L392.5,716.6 L393.6,716.1 L394.6,716.7 L395.6,719.1 L396.5,720.5 L397.5,720.1 L398.4,719.6 L399.3,717.4 L400.1,715.0 L401.2,714.4 L402.5,712.6 L404.2,711.9 L406.1,710.0 L408.3,710.2 L410.4,709.1 L412.5,709.2 L414.6,707.7 L416.7,706.8 L418.8,706.1 L420.7,706.3 L422.5,705.0 L423.9,704.0 L425.1,703.3 L426.2,702.8 L427.4,703.8 L428.8,702.0 L430.3,702.8 L432.0,704.2 L433.8,705.2 L435.6,705.3 L437.5,706.7 L439.5,707.5 L441.5,708.5 L443.6,709.0 L445.6,711.0 L447.5,711.4 L449.2,713.4 L450.7,713.4 L452.1,716.0 L453.5,716.4 L455.0,717.9 L456.5,721.0 L458.0,722.4 L459.5,725.3 L461.0,726.5 L462.5,729.7 L464.0,730.0 L465.5,730.3 L467.0,731.7 L468.5,733.0 L470.0,733.4 L471.5,735.8 L472.9,738.7 L474.3,740.2 L475.8,741.9 L477.5,743.5 L479.4,745.8 L481.4,746.2 L483.6,746.8 L485.6,749.5 L487.5,750.7 L489.1,753.6 L490.6,753.9 L491.9,754.5 L493.4,755.7 L495.0,757.8 L496.8,758.4 L498.8,759.8 L500.9,761.4 L503.0,762.7 L505.0,763.8 L507.0,764.7 L509.0,766.1 L511.0,767.0 L513.0,765.9 L515.0,769.0 L517.0,768.5 L518.9,770.1 L520.8,770.0 L522.8,771.5 L525.0,772.2 L527.4,772.7 L529.9,773.5 L532.6,773.7 L535.1,773.0 L537.5,773.7 L539.7,774.2 L541.7,774.1 L543.6,773.3 L545.5,773.3 L547.5,773.7 L549.5,773.9 L551.5,774.8 L553.5,777.6 L555.5,777.7 L557.5,778.8 L559.5,779.0 L561.6,780.6 L563.7,781.3 L565.7,780.6 L567.5,781.6 L569.3,781.6 L571.0,783.9 L572.7,784.3 L574.0,784.0 L575.0,785.7" stroke="#80ffb4" stroke-width="5.9"/>
<path d="M300.0,810.2 L300.5,811.8 L301.1,813.7 L301.9,815.7 L302.8,818.7 L303.8,822.9 L304.8,826.8 L306.0,831.4 L307.3,838.4 L308.6,842.5 L310.0,847.2 L311.4,851.6 L312.9,856.8 L314.4,861.0 L316.0,864.4 L317.5,868.0 L319.0,869.4 L320.4,872.3 L321.8,874.2 L323.3,876.1 L325.0,877.8 L326.8,877.8 L328.8,881.7 L330.9,880.4 L333.0,881.7 L335.0,882.5 L337.0,882.7 L339.1,882.3 L341.2,880.4 L343.2,881.0 L345.0,881.7 L346.6,880.5 L348.1,880.3 L349.4,879.3 L350.9,880.6 L352.5,879.1 L354.4,876.5 L356.4,874.6 L358.6,872.0 L360.6,868.6 L362.5,866.1 L364.2,863.3 L365.7,859.9 L367.2,856.8 L368.6,852.8 L370.0,849.8 L371.3,848.0 L372.6,845.6 L373.8,843.8 L375.0,843.9 L376.2,842.3 L377.4,842.4 L378.6,843.0 L379.7,842.7 L381.0,844.1 L382.5,844.0 L384.3,843.1 L386.4,842.4 L388.5,840.6 L390.6,838.6 L392.5,838.6 L394.2,837.5 L395.7,837.8 L397.1,836.8 L398.5,835.6 L400.0,835.0 L401.5,834.5 L403.0,833.0 L404.5,831.0 L406.0,829.8 L407.5,828.6 L409.0,828.5 L410.5,829.3 L412.0,829.5 L413.5,830.2 L415.0,829.4 L416.5,828.5 L418.0,827.4 L419.5,826.9 L421.0,826.9 L422.5,826.2 L424.0,824.8 L425.4,824.7 L426.8,826.3 L428.3,826.6 L430.0,826.0 L431.9,827.7 L433.9,827.6 L436.1,828.7 L438.1,828.8 L440.0,830.0 L441.6,830.9 L443.1,831.7 L444.4,833.7 L445.9,835.2 L447.5,838.0 L449.3,839.0 L451.2,841.0 L453.2,844.6 L455.3,847.2 L457.5,849.6 L459.9,851.5 L462.6,852.1 L465.2,854.5 L467.8,856.6 L470.0,858.7 L471.8,859.4 L473.2,862.3 L474.6,864.2 L475.9,865.3 L477.5,867.6 L479.3,870.0 L481.3,871.2 L483.4,873.5 L485.5,875.2 L487.5,876.5 L489.5,877.9 L491.5,878.8 L493.5,880.9 L495.5,881.1 L497.5,882.1 L499.5,884.0 L501.5,884.2 L503.5,885.8 L505.5,887.0 L507.5,887.1 L509.5,887.3 L511.5,887.8 L513.5,887.6 L515.5,886.3 L517.5,886.8 L519.5,889.0 L521.5,889.5 L523.5,889.3 L525.5,890.9 L527.5,892.5 L529.5,892.6 L531.4,893.9 L533.3,894.1 L535.3,894.8 L537.5,894.4 L539.8,895.9 L542.3,897.2 L544.9,896.3 L547.5,898.1 L550.0,898.6 L552.5,899.0 L555.0,899.3 L557.5,899.3 L560.0,900.1 L562.5,901.7 L565.2,902.5 L568.1,903.4 L570.9,904.0 L573.3,904.6 L575.0,904.3" stroke="#b2f396" stroke-width="5.9"/>
<path d="M300.0,926.8 L300.5,929.2 L301.2,931.5 L302.0,933.9 L302.9,936.0 L303.8,939.7 L304.7,942.7 L305.7,947.4 L306.7,950.9 L307.7,955.6 L308.8,960.2 L309.7,964.6 L310.6,970.2 L311.6,973.7 L312.6,977.6 L313.8,983.0 L315.1,986.1 L316.5,988.3 L318.0,989.5 L319.6,991.2 L321.2,992.6 L322.9,993.5 L324.6,995.5 L326.4,997.6 L328.1,998.2 L330.0,1000.6 L331.9,999.3 L333.9,1000.4 L335.9,1001.4 L338.0,1000.5 L340.0,999.9 L342.0,999.2 L344.1,998.6 L346.1,998.8 L348.1,997.0 L350.0,995.8 L351.9,994.1 L353.6,993.7 L355.4,992.0 L357.1,990.0 L358.8,988.5 L360.3,986.8 L361.8,984.9 L363.3,981.6 L364.8,979.2 L366.2,977.4 L367.7,973.0 L369.2,969.8 L370.7,968.0 L372.2,965.0 L373.8,962.5 L375.4,961.1 L377.1,959.6 L378.9,959.2 L380.6,958.0 L382.5,958.0 L384.5,956.2 L386.5,956.0 L388.6,956.1 L390.6,955.3 L392.5,955.4 L394.1,954.2 L395.6,953.0 L396.9,952.5 L398.4,951.1 L400.0,949.7 L401.8,949.1 L403.7,948.5 L405.7,948.0 L407.8,947.7 L410.0,947.5 L412.5,946.7 L415.2,946.9 L417.9,946.1 L420.4,945.0 L422.5,945.9 L423.9,946.0 L424.8,945.8 L425.5,947.0 L426.3,948.2 L427.5,948.2 L429.2,948.5 L431.3,947.8 L433.4,947.5 L435.6,946.7 L437.5,947.2 L439.1,947.4 L440.6,948.8 L441.9,948.6 L443.4,951.1 L445.0,953.2 L446.8,955.0 L448.8,957.2 L450.9,960.3 L453.0,962.3 L455.0,964.6 L457.0,966.6 L459.0,968.1 L461.0,970.0 L463.0,970.4 L465.0,973.1 L467.0,973.7 L469.0,976.4 L471.0,979.2 L473.0,982.2 L475.0,983.4 L477.0,984.7 L479.0,988.2 L481.0,990.0 L483.0,991.4 L485.0,993.2 L487.0,995.2 L489.0,997.3 L491.0,999.2 L493.0,999.4 L495.0,1002.5 L497.0,1001.8 L498.9,1001.8 L500.8,1002.4 L502.8,1002.2 L505.0,1003.8 L507.4,1004.0 L509.9,1004.3 L512.6,1005.6 L515.1,1006.7 L517.5,1007.8 L519.7,1009.2 L521.7,1009.2 L523.6,1011.1 L525.5,1010.7 L527.5,1011.2 L529.5,1012.1 L531.5,1010.7 L533.5,1011.5 L535.5,1012.5 L537.5,1012.5 L539.5,1013.0 L541.4,1013.8 L543.3,1013.9 L545.3,1014.8 L547.5,1014.8 L549.9,1015.0 L552.6,1017.3 L555.2,1016.5 L557.8,1017.1 L560.0,1018.8 L561.8,1019.1 L563.4,1018.9 L564.7,1019.4 L566.1,1020.1 L567.5,1020.0 L569.1,1021.0 L570.9,1020.8 L572.5,1020.7 L574.0,1021.0 L575.0,1020.9" stroke="#e6cd73" stroke-width="5.9"/>
<path d="M300.0,1048.5 L300.5,1049.9 L301.1,1050.2 L301.9,1054.2 L302.8,1056.1 L303.8,1059.2 L304.8,1064.3 L306.1,1068.0 L307.4,1073.0 L308.7,1078.6 L310.0,1082.2 L311.2,1086.3 L312.4,1091.3 L313.7,1095.9 L314.9,1099.4 L316.2,1101.7 L317.6,1105.1 L319.1,1107.8 L320.6,1111.1 L322.1,1112.5 L323.8,1114.2 L325.4,1116.0 L327.2,1116.4 L329.0,1117.9 L330.8,1118.9 L332.5,1119.0 L334.0,1120.5 L335.5,1121.8 L336.9,1121.7 L338.4,1123.3 L340.0,1123.4 L341.9,1123.2 L343.9,1121.3 L346.0,1120.6 L348.0,1120.1 L350.0,1118.5 L351.9,1116.4 L353.8,1115.7 L355.7,1115.1 L357.3,1112.8 L358.8,1111.5 L359.8,1110.9 L360.4,1107.5 L361.0,1105.4 L361.6,1102.8 L362.5,1100.9 L363.8,1100.0 L365.4,1097.0 L367.0,1094.3 L368.6,1092.5 L370.0,1091.3 L371.1,1090.2 L371.9,1088.0 L372.8,1087.5 L373.7,1085.8 L375.0,1085.2 L376.7,1084.4 L378.8,1083.7 L380.9,1082.4 L383.1,1081.9 L385.0,1081.5 L386.6,1079.7 L388.1,1079.7 L389.4,1079.0 L390.9,1078.5 L392.5,1077.0 L394.3,1076.0 L396.3,1075.2 L398.4,1073.8 L400.5,1073.2 L402.5,1072.7 L404.5,1071.9 L406.5,1070.4 L408.5,1070.1 L410.5,1068.6 L412.5,1069.9 L414.5,1069.2 L416.5,1070.0 L418.5,1069.7 L420.5,1070.7 L422.5,1071.5 L424.5,1072.2 L426.5,1071.3 L428.5,1073.0 L430.5,1073.0 L432.5,1073.3 L434.5,1074.8 L436.6,1075.2 L438.7,1076.2 L440.7,1077.1 L442.5,1078.9 L444.2,1080.3 L445.7,1082.0 L447.1,1083.5 L448.5,1085.6 L450.0,1087.7 L451.4,1089.6 L452.8,1090.0 L454.1,1092.0 L455.7,1092.4 L457.5,1093.1 L459.8,1095.7 L462.4,1096.5 L465.1,1099.1 L467.7,1101.3 L470.0,1102.3 L471.8,1104.2 L473.2,1107.4 L474.6,1107.9 L475.9,1109.7 L477.5,1111.7 L479.3,1112.9 L481.3,1114.7 L483.4,1116.7 L485.5,1116.8 L487.5,1120.3 L489.5,1120.0 L491.5,1120.9 L493.5,1122.6 L495.5,1123.0 L497.5,1123.1 L499.5,1124.7 L501.5,1124.8 L503.5,1125.8 L505.5,1126.1 L507.5,1127.0 L509.5,1128.1 L511.5,1128.1 L513.5,1128.3 L515.5,1128.8 L517.5,1128.7 L519.5,1129.1 L521.4,1130.2 L523.3,1132.2 L525.3,1132.2 L527.5,1133.2 L529.9,1133.5 L532.4,1134.2 L535.1,1134.8 L537.6,1135.0 L540.0,1135.4 L542.1,1135.7 L544.1,1136.4 L545.9,1137.8 L547.9,1138.6 L550.0,1139.2 L552.3,1139.1 L554.8,1138.9 L557.4,1139.8 L560.0,1140.0 L562.5,1139.2 L565.2,1140.9 L568.1,1141.3 L570.9,1142.5 L573.3,1141.5 L575.0,1141.8" stroke="#ff964f" stroke-width="5.9"/>
<path d="M300.0,1167.9 L300.5,1168.4 L301.1,1171.5 L301.9,1174.5 L302.8,1178.1 L303.8,1181.4 L304.8,1186.8 L306.1,1192.6 L307.4,1197.7 L308.7,1203.0 L310.0,1207.3 L311.2,1212.6 L312.4,1216.2 L313.7,1220.2 L314.9,1222.3 L316.2,1226.4 L317.6,1228.3 L319.0,1231.3 L320.4,1233.2 L322.0,1234.1 L323.8,1236.3 L325.8,1238.2 L328.0,1239.0 L330.4,1239.9 L332.8,1239.7 L335.0,1240.1 L337.1,1239.8 L339.1,1239.9 L341.1,1239.8 L343.0,1238.5 L345.0,1237.5 L347.1,1236.3 L349.2,1236.7 L351.3,1235.7 L353.2,1233.9 L355.0,1232.8 L356.5,1231.8 L357.8,1229.4 L358.9,1228.4 L360.1,1225.0 L361.2,1221.9 L362.5,1219.7 L363.7,1218.2 L364.9,1214.2 L366.2,1212.6 L367.5,1210.2 L368.9,1208.9 L370.3,1206.8 L371.8,1204.8 L373.3,1204.0 L375.0,1202.5 L376.9,1201.9 L378.9,1200.2 L381.1,1200.4 L383.1,1198.5 L385.0,1198.2 L386.6,1197.6 L388.1,1198.3 L389.4,1198.7 L390.9,1199.0 L392.5,1199.2 L394.3,1197.6 L396.3,1196.2 L398.4,1195.8 L400.5,1193.8 L402.5,1192.6 L404.5,1193.2 L406.5,1192.7 L408.5,1190.8 L410.5,1192.2 L412.5,1192.9 L414.6,1193.3 L416.7,1193.0 L418.8,1194.7 L420.7,1193.9 L422.5,1194.4 L424.0,1194.3 L425.3,1193.6 L426.5,1193.4 L427.6,1193.2 L428.8,1193.0 L429.7,1195.0 L430.5,1195.9 L431.4,1198.4 L432.4,1201.7 L433.8,1202.6 L435.6,1204.3 L437.9,1204.3 L440.3,1205.1 L442.7,1206.1 L445.0,1207.6 L447.1,1209.3 L449.2,1211.8 L451.2,1214.7 L453.2,1217.4 L455.0,1218.8 L456.7,1220.7 L458.2,1222.2 L459.6,1222.3 L461.0,1223.1 L462.5,1225.9 L464.0,1226.8 L465.5,1227.0 L467.0,1228.0 L468.5,1228.3 L470.0,1229.3 L471.5,1231.7 L472.9,1232.6 L474.3,1235.8 L475.8,1236.7 L477.5,1238.9 L479.3,1241.3 L481.3,1242.6 L483.4,1242.7 L485.5,1244.6 L487.5,1244.5 L489.5,1245.5 L491.5,1246.6 L493.5,1247.7 L495.5,1247.1 L497.5,1248.3 L499.5,1248.8 L501.5,1249.0 L503.5,1250.5 L505.5,1252.2 L507.5,1252.0 L509.5,1252.8 L511.5,1253.3 L513.5,1252.7 L515.5,1254.1 L517.5,1254.6 L519.5,1255.1 L521.4,1255.5 L523.3,1255.2 L525.3,1255.6 L527.5,1255.8 L529.9,1255.9 L532.4,1255.9 L535.1,1256.7 L537.6,1256.9 L540.0,1255.9 L542.1,1257.2 L544.1,1256.7 L545.9,1258.0 L547.9,1258.4 L550.0,1258.6 L552.3,1260.0 L554.8,1260.3 L557.4,1260.3 L560.0,1260.5 L562.5,1260.7 L565.2,1261.9 L568.1,1262.5 L570.9,1263.8 L573.3,1263.8 L575.0,1265.1" stroke="#ff4d27" stroke-width="5.9"/>
<path d="M300.0,1290.3 L300.5,1292.6 L301.2,1295.1 L302.0,1297.9 L302.9,1300.9 L303.8,1304.0 L304.7,1309.1 L305.7,1314.5 L306.7,1319.4 L307.7,1321.8 L308.8,1327.1 L309.7,1331.3 L310.6,1334.7 L311.6,1338.9 L312.6,1342.1 L313.8,1344.7 L315.1,1347.5 L316.5,1348.9 L318.0,1351.2 L319.6,1353.0 L321.2,1355.5 L322.9,1355.5 L324.6,1357.5 L326.4,1359.0 L328.1,1359.3 L330.0,1360.4 L331.9,1360.1 L334.0,1361.0 L336.0,1361.4 L338.1,1362.0 L340.0,1360.9 L341.8,1360.8 L343.6,1359.4 L345.3,1358.6 L347.0,1358.3 L348.8,1356.6 L350.5,1355.6 L352.2,1353.6 L354.0,1352.6 L355.8,1350.8 L357.5,1347.0 L359.3,1346.4 L361.1,1343.4 L362.8,1341.1 L364.6,1338.5 L366.2,1336.7 L367.8,1333.3 L369.2,1330.9 L370.5,1328.5 L372.0,1326.9 L373.8,1325.5 L375.8,1324.4 L378.0,1323.6 L380.4,1322.9 L382.8,1322.0 L385.0,1322.7 L387.1,1321.9 L389.1,1321.3 L391.1,1321.1 L393.1,1319.4 L395.0,1318.7 L396.8,1316.7 L398.6,1317.3 L400.3,1316.1 L402.0,1315.0 L403.8,1315.2 L405.4,1314.5 L407.1,1315.2 L408.7,1317.1 L410.5,1317.0 L412.5,1317.5 L414.8,1317.6 L417.4,1317.4 L420.0,1317.2 L422.6,1318.5 L425.0,1318.0 L427.2,1319.8 L429.2,1321.1 L431.1,1323.2 L433.0,1324.2 L435.0,1326.5 L437.0,1330.2 L439.1,1332.1 L441.2,1332.8 L443.2,1334.7 L445.0,1336.6 L446.7,1336.9 L448.2,1339.3 L449.6,1338.6 L451.0,1339.7 L452.5,1339.7 L454.0,1343.7 L455.4,1344.7 L456.8,1347.5 L458.3,1347.9 L460.0,1350.2 L461.8,1351.2 L463.8,1352.2 L465.9,1354.1 L468.0,1355.1 L470.0,1355.8 L472.0,1356.4 L474.0,1359.0 L476.0,1361.2 L478.0,1362.6 L480.0,1364.1 L482.0,1365.1 L484.0,1365.2 L486.0,1366.4 L488.0,1367.8 L490.0,1367.0 L492.0,1368.2 L494.0,1369.2 L496.0,1368.6 L498.0,1369.8 L500.0,1369.6 L502.0,1370.8 L504.0,1371.1 L506.0,1372.1 L508.0,1373.0 L510.0,1373.6 L512.0,1374.0 L513.9,1373.0 L515.8,1375.3 L517.8,1374.5 L520.0,1374.4 L522.4,1375.3 L524.9,1376.6 L527.6,1376.8 L530.1,1377.9 L532.5,1378.5 L534.7,1379.4 L536.7,1378.8 L538.6,1379.5 L540.5,1379.5 L542.5,1379.4 L544.5,1380.5 L546.4,1380.2 L548.3,1379.9 L550.3,1381.1 L552.5,1381.3 L554.9,1381.5 L557.4,1381.8 L560.1,1383.2 L562.6,1382.3 L565.0,1382.8 L567.3,1382.9 L569.7,1384.4 L571.8,1384.4 L573.7,1384.6 L575.0,1384.8" stroke="#ff0000" stroke-width="5.9"/>
</g>
<g clip-path="url(#cp_bo)" fill="none" stroke-linejoin="round" stroke-linecap="butt">
<path d="M602.7,215.7H619.2M649.7,215.7H687.0M724.7,215.7H762.0M798.5,215.7H835.7M867.2,215.7H883.7" stroke="#8000ff" stroke-width="5.9"/>
<path d="M602.7,333.4H619.2M649.7,333.4H687.0M724.7,333.4H762.0M798.5,333.4H835.7M867.2,333.4H883.7" stroke="#4e4dfc" stroke-width="5.9"/>
<path d="M602.7,451.0H619.2M649.7,451.0H687.0M724.7,451.0H762.0M798.5,451.0H835.7M867.2,451.0H883.7" stroke="#1996f3" stroke-width="5.9"/>
<path d="M602.7,569.0H619.2M649.7,569.0H687.0M724.7,569.0H762.0M798.5,569.0H835.7M867.2,569.0H883.7" stroke="#18cde4" stroke-width="5.9"/>
<path d="M602.7,692.5H619.2M649.7,692.5H687.0M724.7,692.5H762.0M798.5,692.5H835.7M867.2,692.5H883.7" stroke="#4df3ce" stroke-width="5.9"/>
<path d="M602.7,810.4H619.2M649.7,810.4H687.0M724.7,810.4H762.0M798.5,810.4H835.7M867.2,810.4H883.7" stroke="#80ffb4" stroke-width="5.9"/>
<path d="M602.7,928.4H619.2M649.7,928.4H687.0M724.7,928.4H762.0M798.5,928.4H835.7M867.2,928.4H883.7" stroke="#b2f396" stroke-width="5.9"/>
<path d="M602.7,1046.2H619.2M649.7,1046.2H687.0M724.7,1046.2H762.0M798.5,1046.2H835.7M867.2,1046.2H883.7" stroke="#e6cd73" stroke-width="5.9"/>
<path d="M602.7,1164.0H619.2M649.7,1164.0H687.0M724.7,1164.0H762.0M798.5,1164.0H835.7M867.2,1164.0H883.7" stroke="#ff964f" stroke-width="5.9"/>
<path d="M602.7,1282.2H619.2M649.7,1282.2H687.0M724.7,1282.2H762.0M798.5,1282.2H835.7M867.2,1282.2H883.7" stroke="#ff4d27" stroke-width="5.9"/>
<path d="M602.7,1399.8H619.2M649.7,1399.8H687.0M724.7,1399.8H762.0M798.5,1399.8H835.7M867.2,1399.8H883.7" stroke="#ff0000" stroke-width="5.9"/>
<path d="M603.8,215.5 L606.8,215.5 L611.3,215.4 L616.3,215.3 L621.1,215.2 L625.0,215.0 L627.8,214.7 L629.9,214.5 L631.7,214.1 L633.3,213.6 L635.0,213.0 L636.7,212.3 L638.2,211.6 L639.7,210.7 L641.1,209.6 L642.5,208.0 L643.9,206.0 L645.2,203.8 L646.5,201.1 L647.7,198.2 L648.8,195.0 L649.7,191.4 L650.4,187.0 L651.1,182.9 L651.8,178.5 L652.5,174.9 L653.2,171.7 L654.0,168.7 L654.8,166.2 L655.5,164.4 L656.2,163.7 L657.0,164.5 L657.8,166.4 L658.5,168.9 L659.2,172.1 L660.0,174.9 L660.7,178.2 L661.4,182.1 L662.2,186.2 L662.9,189.6 L663.8,192.4 L664.6,194.5 L665.6,195.8 L666.6,196.5 L667.6,196.7 L668.8,197.0 L669.9,197.1 L671.2,196.8 L672.5,196.0 L673.8,195.2 L675.0,193.6 L676.1,191.8 L677.1,190.0 L678.1,187.2 L679.1,183.8 L680.0,179.8 L680.8,175.5 L681.6,170.4 L682.3,164.8 L683.0,158.0 L683.8,150.0 L684.5,139.9 L685.3,127.7 L686.0,114.8 L686.8,102.7 L687.5,92.4 L688.2,84.1 L688.9,76.9 L689.5,70.5 L690.2,65.0 L690.8,59.9 L691.3,55.9 L691.8,52.5 L692.2,49.5 L692.7,47.1 L693.2,45.1 L693.8,43.3 L694.4,41.8 L695.0,40.8 L695.6,40.1 L696.2,39.9 L696.9,40.3 L697.5,40.9 L698.1,41.7 L698.7,43.2 L699.2,45.0 L699.8,47.1 L700.2,49.6 L700.7,52.6 L701.2,55.8 L701.8,60.0 L702.3,64.7 L703.0,70.4 L703.6,76.2 L704.3,81.9 L705.0,87.5 L705.7,93.0 L706.4,98.4 L707.1,103.5 L707.9,108.3 L708.8,112.4 L709.7,116.1 L710.7,119.4 L711.7,122.0 L712.7,124.4 L713.8,125.3 L714.7,125.8 L715.6,125.3 L716.6,124.2 L717.6,122.9 L718.8,121.1 L720.1,119.4 L721.6,117.3 L723.2,115.0 L724.8,113.0 L726.2,111.9 L727.6,112.1 L728.8,112.5 L730.0,113.7 L731.2,115.2 L732.5,116.4 L733.9,117.5 L735.5,118.7 L737.0,120.1 L738.6,121.4 L740.0,122.4 L741.3,123.1 L742.5,123.5 L743.6,123.6 L744.9,123.9 L746.2,124.9 L747.9,126.6 L749.6,129.2 L751.5,131.4 L753.3,134.1 L755.0,136.1 L756.6,138.0 L758.1,139.6 L759.6,141.4 L761.0,142.7 L762.5,144.0 L764.0,144.5 L765.6,145.2 L767.1,145.7 L768.6,145.8 L770.0,145.5 L771.3,144.6 L772.6,143.8 L773.8,142.2 L775.0,140.6 L776.2,138.7 L777.5,136.8 L778.8,134.2 L780.1,131.8 L781.3,129.4 L782.5,127.6 L783.6,125.8 L784.6,124.4 L785.6,123.4 L786.5,122.5 L787.5,122.0 L788.5,121.9 L789.5,122.2 L790.5,122.6 L791.5,123.7 L792.5,125.2 L793.5,127.0 L794.5,129.4 L795.5,132.1 L796.5,135.0 L797.5,137.4 L798.5,139.4 L799.5,141.4 L800.5,143.1 L801.5,145.3 L802.5,147.3 L803.5,150.5 L804.5,153.4 L805.5,156.8 L806.5,160.0 L807.5,162.5 L808.4,164.6 L809.3,166.2 L810.1,167.5 L811.2,168.9 L812.5,169.8 L814.0,170.8 L815.7,171.5 L817.5,171.8 L819.8,172.1 L822.5,172.4 L825.9,172.8 L829.8,173.1 L834.0,173.1 L838.3,173.5 L842.5,173.6 L846.5,174.0 L850.6,174.1 L854.7,174.5 L858.7,174.7 L862.5,175.0 L866.4,175.4 L870.5,176.1 L874.4,176.8 L877.7,177.2 L880.0,177.5" stroke="#8000ff" stroke-width="5.9"/>
<path d="M603.8,333.2 L607.2,333.2 L612.2,333.1 L617.9,333.0 L623.2,332.8 L627.5,332.5 L630.4,332.1 L632.6,331.7 L634.3,331.1 L635.9,330.4 L637.5,329.5 L639.2,328.5 L640.8,327.4 L642.3,326.1 L643.7,324.6 L645.0,322.5 L646.2,320.0 L647.2,317.1 L648.2,313.7 L649.1,310.7 L650.0,307.5 L650.9,304.2 L651.6,301.2 L652.4,297.8 L653.1,294.8 L653.8,292.6 L654.3,290.5 L654.8,288.6 L655.2,287.2 L655.7,286.3 L656.2,286.1 L656.9,287.0 L657.7,288.4 L658.4,290.3 L659.2,292.6 L660.0,295.0 L660.7,298.0 L661.4,301.5 L662.2,305.5 L662.9,308.6 L663.8,311.3 L664.6,312.9 L665.6,313.9 L666.6,314.8 L667.6,314.9 L668.8,314.9 L669.9,314.9 L671.2,314.3 L672.5,313.7 L673.8,312.5 L675.0,311.3 L676.1,309.7 L677.1,307.8 L678.1,306.0 L679.1,303.3 L680.0,299.9 L680.8,296.2 L681.6,291.8 L682.3,286.9 L683.0,281.1 L683.8,275.1 L684.5,267.8 L685.2,259.7 L686.0,251.0 L686.8,242.6 L687.5,235.1 L688.2,228.0 L688.9,221.3 L689.6,215.3 L690.4,209.7 L691.2,205.0 L692.3,201.0 L693.4,197.4 L694.5,194.8 L695.7,192.8 L696.8,192.0 L697.7,192.5 L698.7,194.0 L699.6,196.3 L700.4,199.3 L701.2,202.4 L702.0,206.3 L702.8,210.9 L703.5,215.9 L704.3,220.6 L705.0,225.1 L705.7,229.1 L706.4,232.9 L707.2,236.3 L707.9,239.7 L708.8,242.6 L709.6,245.3 L710.6,247.8 L711.6,250.0 L712.6,251.7 L713.8,252.5 L714.9,252.4 L716.1,251.6 L717.4,250.3 L718.6,248.9 L720.0,247.5 L721.4,246.4 L722.9,245.0 L724.4,243.4 L726.0,242.5 L727.5,242.1 L729.0,242.2 L730.4,242.8 L731.8,244.0 L733.3,245.1 L735.0,246.2 L736.8,247.5 L738.8,248.3 L740.9,249.6 L743.0,250.9 L745.0,252.5 L747.0,254.4 L749.1,256.3 L751.2,258.6 L753.2,260.7 L755.0,262.4 L756.7,264.2 L758.2,265.5 L759.6,266.7 L761.0,267.8 L762.5,268.7 L764.0,269.5 L765.5,270.1 L767.0,270.8 L768.5,270.5 L770.0,270.3 L771.5,269.7 L773.1,268.3 L774.6,267.0 L776.1,265.3 L777.5,263.8 L778.9,262.1 L780.1,260.2 L781.4,258.2 L782.6,256.5 L783.8,255.1 L784.8,254.1 L785.8,253.3 L786.8,252.7 L787.8,252.4 L788.8,252.4 L789.8,252.8 L790.8,253.0 L791.8,254.0 L792.8,254.9 L793.8,256.3 L794.8,257.9 L795.8,259.8 L796.8,262.1 L797.8,264.1 L798.8,266.3 L799.8,267.9 L800.8,269.0 L801.8,270.5 L802.8,271.9 L803.8,273.8 L804.7,276.1 L805.7,279.2 L806.7,282.3 L807.7,285.1 L808.8,287.4 L809.8,289.4 L810.7,290.9 L811.8,292.0 L813.2,293.0 L815.0,293.7 L817.3,294.4 L819.9,294.8 L822.9,295.1 L826.2,295.5 L830.0,295.5 L834.4,295.8 L839.3,296.2 L844.5,296.2 L849.8,296.7 L855.0,297.1 L860.4,297.4 L866.2,298.0 L871.8,298.5 L876.6,299.2 L880.0,299.4" stroke="#4e4dfc" stroke-width="5.9"/>
<path d="M599.5,452.0 L602.1,451.9 L605.8,451.7 L610.0,451.5 L614.1,451.3 L617.5,451.2 L620.0,451.4 L622.1,451.6 L623.9,451.9 L625.6,452.1 L627.5,452.0 L629.5,451.7 L631.6,451.1 L633.7,450.5 L635.7,449.7 L637.5,448.8 L639.2,447.8 L640.8,446.8 L642.3,445.6 L643.7,444.2 L645.0,442.5 L646.2,440.5 L647.2,438.1 L648.2,435.5 L649.1,432.8 L650.0,430.0 L650.8,427.2 L651.6,423.8 L652.4,420.5 L653.1,417.4 L653.8,415.0 L654.4,412.9 L655.0,411.2 L655.6,409.9 L656.1,409.0 L656.8,408.9 L657.4,409.4 L658.0,410.5 L658.7,412.0 L659.3,414.2 L660.0,416.4 L660.7,418.6 L661.4,421.6 L662.1,424.7 L662.9,427.6 L663.8,430.0 L664.6,431.6 L665.6,433.1 L666.6,433.9 L667.6,434.7 L668.8,435.0 L669.9,434.8 L671.2,434.6 L672.5,433.7 L673.8,432.7 L675.0,431.2 L676.1,429.7 L677.1,427.9 L678.1,425.7 L679.1,422.9 L680.0,420.1 L680.8,416.4 L681.6,412.2 L682.3,407.6 L683.0,402.7 L683.8,397.5 L684.5,391.8 L685.2,385.8 L686.0,379.5 L686.8,373.2 L687.5,367.4 L688.2,362.2 L688.9,356.5 L689.6,351.2 L690.4,346.5 L691.2,342.2 L692.3,338.9 L693.5,336.0 L694.7,333.8 L695.9,331.8 L697.0,331.2 L698.0,331.8 L698.8,333.0 L699.7,335.0 L700.5,337.5 L701.2,340.0 L702.0,342.9 L702.7,346.4 L703.4,350.2 L704.2,353.8 L705.0,357.7 L705.9,361.0 L706.9,365.1 L707.9,369.2 L709.0,372.3 L710.0,375.1 L711.0,376.8 L711.9,378.1 L712.9,378.9 L713.9,379.3 L715.0,379.6 L716.2,379.4 L717.4,378.6 L718.7,377.6 L720.0,376.4 L721.2,375.7 L722.5,374.7 L723.7,373.8 L724.9,372.8 L726.2,372.2 L727.5,372.1 L728.9,372.4 L730.3,373.1 L731.8,374.1 L733.3,375.2 L735.0,376.3 L736.8,377.2 L738.8,377.9 L740.9,378.9 L743.0,380.0 L745.0,381.1 L747.0,383.0 L749.1,384.9 L751.2,386.9 L753.2,388.6 L755.0,390.3 L756.7,391.6 L758.2,392.6 L759.6,393.4 L761.0,394.3 L762.5,395.0 L764.0,395.9 L765.6,396.8 L767.1,398.1 L768.6,398.5 L770.0,398.8 L771.3,398.3 L772.5,397.5 L773.7,396.4 L774.9,395.0 L776.2,393.8 L777.7,392.4 L779.2,391.2 L780.8,389.3 L782.3,388.1 L783.8,387.1 L785.1,386.1 L786.4,385.3 L787.6,384.6 L788.9,384.6 L790.0,384.3 L791.1,384.9 L792.1,385.6 L793.1,386.7 L794.1,387.8 L795.0,388.7 L795.8,389.8 L796.5,391.1 L797.2,392.3 L797.9,393.9 L798.8,395.0 L799.7,396.0 L800.7,396.7 L801.7,397.6 L802.7,398.6 L803.8,400.0 L804.7,401.8 L805.7,404.4 L806.7,406.7 L807.7,409.0 L808.8,411.3 L809.8,412.9 L810.7,414.3 L811.8,415.8 L813.2,416.6 L815.0,417.4 L817.3,418.0 L819.9,418.4 L822.9,418.4 L826.2,418.7 L830.0,418.9 L834.5,419.0 L839.8,419.4 L845.2,419.8 L850.5,420.1 L855.0,420.4 L858.7,421.0 L862.0,421.4 L864.8,421.7 L867.5,422.2 L870.0,422.5 L872.5,422.6 L874.8,422.6 L877.0,422.7 L878.7,422.4 L880.0,422.4" stroke="#1996f3" stroke-width="5.9"/>
<path d="M603.8,568.8 L606.1,569.0 L609.4,569.3 L613.2,569.6 L616.9,569.9 L620.0,570.0 L622.4,570.0 L624.5,569.8 L626.4,569.6 L628.2,569.2 L630.0,568.8 L631.9,568.2 L633.6,567.5 L635.4,566.6 L637.1,565.7 L638.8,564.5 L640.4,563.2 L642.0,561.8 L643.5,560.1 L644.9,558.3 L646.2,556.3 L647.4,553.8 L648.4,551.1 L649.4,548.3 L650.3,545.4 L651.2,542.4 L652.3,539.7 L653.3,536.2 L654.3,533.3 L655.3,530.8 L656.2,529.5 L657.1,529.8 L657.8,531.1 L658.6,533.0 L659.3,535.6 L660.0,537.5 L660.7,539.8 L661.4,542.0 L662.2,544.4 L662.9,546.7 L663.8,548.7 L664.6,550.4 L665.6,551.9 L666.6,552.8 L667.6,553.5 L668.8,553.6 L669.9,553.5 L671.2,552.8 L672.5,551.5 L673.8,550.4 L675.0,548.9 L676.1,547.3 L677.1,545.1 L678.1,543.1 L679.1,540.6 L680.0,537.4 L680.8,533.7 L681.6,529.3 L682.3,524.8 L683.0,519.9 L683.8,515.1 L684.5,510.0 L685.2,504.7 L686.0,499.6 L686.8,494.6 L687.5,490.1 L688.2,486.0 L688.9,482.0 L689.7,478.6 L690.4,475.2 L691.2,472.5 L692.2,470.0 L693.2,467.6 L694.2,465.8 L695.2,464.3 L696.2,463.7 L697.3,463.9 L698.3,464.6 L699.3,466.1 L700.3,468.2 L701.2,470.0 L702.1,472.4 L702.8,475.4 L703.6,479.0 L704.3,481.8 L705.0,485.0 L705.7,487.6 L706.4,490.0 L707.2,492.4 L707.9,494.3 L708.8,496.2 L709.6,497.8 L710.6,499.0 L711.6,500.0 L712.6,500.8 L713.8,501.4 L714.9,501.3 L716.1,501.0 L717.4,500.5 L718.6,499.9 L720.0,499.3 L721.4,498.9 L722.8,498.5 L724.3,498.2 L725.8,497.9 L727.5,497.9 L729.3,498.7 L731.3,499.3 L733.4,500.0 L735.5,501.0 L737.5,502.1 L739.5,502.8 L741.6,504.0 L743.7,504.9 L745.7,506.0 L747.5,506.9 L749.2,508.2 L750.7,509.2 L752.1,510.6 L753.5,511.9 L755.0,513.1 L756.5,513.9 L758.1,515.3 L759.6,516.3 L761.1,517.2 L762.5,517.9 L763.8,518.6 L765.0,519.2 L766.2,519.8 L767.4,520.0 L768.8,520.1 L770.2,519.7 L771.7,518.8 L773.3,518.1 L774.8,517.4 L776.2,516.1 L777.6,515.3 L778.8,514.1 L780.1,513.0 L781.3,512.1 L782.5,511.3 L783.8,510.7 L785.0,510.1 L786.2,509.7 L787.5,509.2 L788.8,509.6 L790.0,509.9 L791.2,510.5 L792.4,511.4 L793.7,512.4 L795.0,513.9 L796.5,515.1 L798.0,516.7 L799.6,518.7 L801.1,520.5 L802.5,522.5 L803.7,524.6 L804.7,526.6 L805.6,528.8 L806.5,531.0 L807.5,532.3 L808.4,534.0 L809.1,535.3 L810.0,536.4 L811.0,537.4 L812.5,537.9 L814.4,538.7 L816.7,539.1 L819.3,539.4 L822.1,539.7 L825.0,539.8 L828.2,540.2 L831.6,540.3 L835.3,540.2 L838.9,540.4 L842.5,540.4 L846.0,540.6 L849.4,540.8 L852.8,541.5 L856.3,541.8 L860.0,542.0 L864.2,542.1 L868.8,542.2 L873.3,542.4 L877.2,542.4 L880.0,542.5" stroke="#18cde4" stroke-width="5.9"/>
<path d="M603.8,690.0 L605.7,689.9 L608.4,689.9 L611.6,689.8 L614.8,689.7 L617.5,689.5 L619.8,689.3 L621.8,689.1 L623.8,688.8 L625.6,688.4 L627.5,688.0 L629.4,687.5 L631.1,687.0 L632.9,686.3 L634.6,685.5 L636.2,684.5 L637.9,683.2 L639.4,681.8 L640.9,680.2 L642.4,678.3 L643.8,676.2 L645.1,673.8 L646.4,671.1 L647.6,668.1 L648.8,665.2 L650.0,662.5 L651.2,659.9 L652.4,656.8 L653.6,654.3 L654.7,652.4 L655.8,651.2 L656.7,651.6 L657.6,652.9 L658.4,655.0 L659.2,657.0 L660.0,658.6 L660.8,660.5 L661.5,662.5 L662.2,664.5 L662.9,666.2 L663.8,667.7 L664.6,668.6 L665.6,669.1 L666.6,669.7 L667.6,669.8 L668.8,670.2 L669.9,669.7 L671.2,669.3 L672.5,668.4 L673.8,667.5 L675.0,666.3 L676.1,664.6 L677.1,662.7 L678.1,660.4 L679.1,658.1 L680.0,654.9 L680.8,651.4 L681.6,647.6 L682.3,643.4 L683.0,639.1 L683.8,635.0 L684.5,630.8 L685.2,626.7 L686.0,622.6 L686.8,618.4 L687.5,615.2 L688.2,611.9 L688.9,608.5 L689.7,605.9 L690.4,603.5 L691.2,601.4 L692.2,599.5 L693.2,597.4 L694.2,596.1 L695.2,595.3 L696.2,595.0 L697.3,595.2 L698.3,596.3 L699.3,597.6 L700.3,599.4 L701.2,601.1 L702.1,603.6 L702.8,606.4 L703.6,609.4 L704.3,612.6 L705.0,615.0 L705.7,617.3 L706.4,619.0 L707.2,621.0 L707.9,622.6 L708.8,623.7 L709.6,624.9 L710.6,625.7 L711.6,626.2 L712.6,626.8 L713.8,627.0 L714.9,626.8 L716.1,626.5 L717.4,626.1 L718.6,625.4 L720.0,624.9 L721.4,624.8 L722.8,624.0 L724.3,623.8 L725.8,623.7 L727.5,623.8 L729.3,624.2 L731.3,625.3 L733.4,626.5 L735.5,627.7 L737.5,628.8 L739.5,629.7 L741.6,630.4 L743.7,631.2 L745.7,632.2 L747.5,633.1 L749.2,633.9 L750.7,635.5 L752.1,636.5 L753.5,637.8 L755.0,638.6 L756.5,639.5 L758.0,640.2 L759.5,641.0 L761.0,641.6 L762.5,642.0 L764.0,642.5 L765.5,643.1 L767.0,643.4 L768.5,643.7 L770.0,643.7 L771.5,643.4 L772.9,642.7 L774.4,641.7 L775.9,640.9 L777.5,640.1 L779.2,639.2 L781.0,637.8 L782.9,636.8 L784.6,636.1 L786.2,635.5 L787.7,635.6 L789.0,636.1 L790.2,636.8 L791.4,637.8 L792.5,638.7 L793.6,639.8 L794.6,641.3 L795.6,642.6 L796.5,643.8 L797.5,645.0 L798.5,645.7 L799.5,646.2 L800.5,646.7 L801.5,647.3 L802.5,647.9 L803.5,649.4 L804.5,651.0 L805.5,653.0 L806.5,654.9 L807.5,656.2 L808.4,657.2 L809.1,658.1 L810.0,658.7 L811.0,659.5 L812.5,660.2 L814.4,660.3 L816.7,660.9 L819.3,660.9 L822.1,660.9 L825.0,661.3 L828.2,661.5 L831.6,661.6 L835.3,661.6 L838.9,662.0 L842.5,662.0 L846.0,662.4 L849.4,662.7 L852.8,662.9 L856.3,663.2 L860.0,663.6 L864.2,664.0 L868.8,664.4 L873.3,664.4 L877.2,664.8 L880.0,665.1" stroke="#4df3ce" stroke-width="5.9"/>
<path d="M603.8,809.5 L605.7,809.5 L608.4,809.6 L611.6,809.6 L614.8,809.6 L617.5,809.5 L619.8,809.3 L621.8,808.9 L623.8,808.5 L625.6,808.0 L627.5,807.5 L629.4,806.9 L631.1,806.4 L632.9,805.7 L634.6,804.8 L636.2,803.8 L637.9,802.4 L639.4,800.7 L640.9,798.9 L642.4,797.0 L643.8,795.1 L645.1,792.9 L646.3,790.7 L647.6,788.3 L648.8,786.1 L650.0,783.8 L651.3,781.3 L652.6,778.4 L653.9,775.7 L655.2,773.6 L656.2,772.5 L657.2,772.3 L657.9,773.8 L658.6,775.2 L659.3,777.0 L660.0,778.8 L660.7,780.4 L661.4,782.2 L662.2,784.3 L662.9,786.2 L663.8,787.6 L664.6,788.6 L665.6,789.2 L666.6,789.7 L667.6,790.1 L668.8,790.1 L669.9,789.7 L671.2,789.1 L672.5,788.2 L673.8,787.6 L675.0,786.1 L676.1,785.0 L677.1,783.5 L678.1,782.0 L679.1,779.7 L680.0,777.5 L680.8,775.0 L681.6,772.2 L682.3,769.3 L683.0,766.0 L683.8,762.4 L684.5,758.5 L685.2,754.6 L686.0,750.2 L686.8,746.3 L687.5,742.4 L688.2,739.2 L688.9,736.1 L689.6,733.3 L690.4,731.1 L691.2,728.8 L692.3,726.9 L693.5,725.5 L694.7,724.1 L695.9,723.3 L697.0,722.9 L698.0,723.3 L698.8,723.8 L699.7,724.8 L700.5,726.1 L701.2,727.5 L702.0,729.4 L702.7,731.6 L703.4,734.3 L704.2,736.7 L705.0,738.7 L705.9,740.6 L706.9,741.8 L707.9,743.3 L708.9,744.3 L710.0,745.4 L711.1,746.4 L712.3,747.4 L713.5,747.9 L714.8,748.4 L716.2,748.6 L717.9,748.9 L719.6,748.3 L721.5,747.7 L723.3,747.4 L725.0,747.0 L726.5,746.9 L728.0,747.3 L729.4,747.6 L730.9,748.4 L732.5,748.6 L734.4,749.4 L736.4,750.1 L738.6,750.9 L740.6,751.7 L742.5,752.5 L744.2,753.2 L745.7,753.8 L747.1,754.6 L748.5,755.3 L750.0,756.2 L751.5,757.3 L752.9,758.4 L754.3,759.6 L755.8,760.5 L757.5,761.4 L759.3,761.5 L761.3,761.5 L763.4,761.6 L765.5,761.3 L767.5,761.3 L769.5,761.4 L771.5,761.4 L773.5,761.4 L775.5,761.5 L777.5,761.3 L779.6,760.8 L781.7,760.0 L783.8,759.4 L785.7,758.7 L787.5,758.7 L789.0,759.0 L790.3,759.8 L791.5,760.7 L792.6,761.5 L793.8,762.5 L794.8,763.3 L795.8,764.3 L796.8,765.5 L797.8,766.6 L798.8,767.5 L799.8,768.3 L800.8,768.9 L801.8,769.3 L802.8,770.5 L803.8,771.4 L804.7,772.5 L805.7,773.8 L806.7,775.2 L807.7,776.6 L808.8,777.5 L809.8,778.6 L810.7,779.4 L811.8,780.2 L813.2,780.8 L815.0,781.2 L817.5,781.4 L820.5,781.5 L823.8,781.3 L827.0,781.1 L830.0,781.2 L832.6,781.3 L834.9,781.9 L837.3,782.0 L839.7,782.3 L842.5,782.4 L845.6,782.5 L849.0,782.8 L852.6,782.7 L856.3,782.8 L860.0,783.2 L864.2,783.6 L868.8,783.9 L873.3,784.3 L877.2,784.7 L880.0,785.0" stroke="#80ffb4" stroke-width="5.9"/>
<path d="M603.8,928.0 L605.7,927.9 L608.4,927.9 L611.6,927.8 L614.8,927.7 L617.5,927.5 L619.8,927.3 L621.8,927.2 L623.8,927.0 L625.6,926.7 L627.5,926.2 L629.4,925.7 L631.1,925.1 L632.9,924.4 L634.6,923.5 L636.2,922.5 L637.9,921.3 L639.4,919.9 L640.9,918.4 L642.4,916.7 L643.8,915.0 L645.1,913.2 L646.3,911.2 L647.6,909.1 L648.8,907.0 L650.0,905.1 L651.3,902.7 L652.6,900.3 L653.9,898.0 L655.2,896.2 L656.2,895.1 L657.2,895.0 L657.9,895.8 L658.6,897.3 L659.3,898.8 L660.0,900.0 L660.8,901.3 L661.5,902.5 L662.2,903.7 L663.0,905.1 L663.8,906.3 L664.4,907.4 L665.1,908.2 L665.7,908.9 L666.5,909.3 L667.5,909.6 L668.8,909.2 L670.3,908.2 L672.0,907.5 L673.6,906.1 L675.0,905.1 L676.2,903.8 L677.2,902.5 L678.2,901.1 L679.1,899.4 L680.0,897.4 L680.8,895.2 L681.6,893.0 L682.3,890.4 L683.0,887.5 L683.8,884.8 L684.5,882.4 L685.2,879.6 L686.0,876.6 L686.8,873.7 L687.5,871.3 L688.2,868.7 L688.9,866.9 L689.6,865.2 L690.4,863.5 L691.2,861.8 L692.3,860.9 L693.5,859.7 L694.7,858.9 L695.9,858.2 L697.0,858.0 L698.0,858.0 L698.8,858.6 L699.7,859.4 L700.5,860.1 L701.2,861.3 L702.0,862.5 L702.7,864.2 L703.4,865.9 L704.2,867.2 L705.0,868.8 L705.9,869.9 L706.9,870.5 L707.9,871.3 L708.9,871.9 L710.0,872.4 L711.1,873.0 L712.2,873.7 L713.3,874.0 L714.7,874.4 L716.2,874.6 L718.2,874.7 L720.4,874.5 L722.9,874.4 L725.2,874.5 L727.5,874.7 L729.6,875.0 L731.6,875.6 L733.6,876.4 L735.5,877.3 L737.5,878.0 L739.5,878.3 L741.5,878.9 L743.5,879.4 L745.5,879.8 L747.5,880.4 L749.5,881.7 L751.5,882.8 L753.5,883.8 L755.5,885.1 L757.5,886.3 L759.5,887.2 L761.5,888.0 L763.5,888.7 L765.5,889.2 L767.5,889.5 L769.5,889.2 L771.4,888.9 L773.4,887.9 L775.4,887.4 L777.5,887.1 L779.8,886.6 L782.2,886.3 L784.6,886.4 L786.9,886.3 L788.8,886.2 L790.1,886.4 L791.1,886.9 L792.0,887.4 L792.8,888.0 L793.8,888.7 L794.9,889.6 L796.2,890.5 L797.4,891.4 L798.7,892.6 L800.0,893.7 L801.2,894.7 L802.5,895.5 L803.8,897.0 L805.0,897.8 L806.2,898.7 L807.4,899.6 L808.5,900.7 L809.5,901.7 L810.9,902.3 L812.5,903.0 L814.5,903.4 L816.8,903.8 L819.3,903.9 L822.1,904.1 L825.0,904.5 L828.2,904.7 L831.6,905.0 L835.3,905.1 L838.9,905.5 L842.5,905.5 L846.0,905.8 L849.4,905.8 L852.8,906.1 L856.3,906.1 L860.0,906.3 L864.2,906.6 L868.8,906.6 L873.3,906.9 L877.2,907.5 L880.0,907.3" stroke="#b2f396" stroke-width="5.9"/>
<path d="M603.8,1046.2 L605.7,1046.3 L608.4,1046.3 L611.6,1046.4 L614.8,1046.4 L617.5,1046.2 L619.7,1046.0 L621.8,1045.7 L623.7,1045.4 L625.6,1045.0 L627.5,1044.5 L629.5,1044.0 L631.6,1043.6 L633.7,1043.0 L635.7,1042.3 L637.5,1041.2 L639.2,1039.9 L640.7,1038.3 L642.2,1036.6 L643.6,1034.6 L645.0,1032.6 L646.3,1030.1 L647.6,1027.7 L648.8,1024.9 L650.1,1022.3 L651.2,1019.8 L652.5,1017.5 L653.7,1015.2 L654.9,1012.9 L656.0,1011.1 L657.0,1010.1 L657.8,1010.1 L658.4,1010.7 L658.9,1012.0 L659.4,1013.6 L660.0,1015.1 L660.7,1016.5 L661.4,1018.4 L662.1,1020.4 L662.9,1022.4 L663.8,1023.8 L664.6,1024.9 L665.6,1025.9 L666.6,1026.8 L667.6,1027.1 L668.8,1027.5 L669.9,1027.3 L671.2,1026.7 L672.5,1026.0 L673.8,1025.0 L675.0,1024.1 L676.1,1022.4 L677.1,1021.0 L678.1,1019.1 L679.1,1017.1 L680.0,1015.1 L680.8,1012.6 L681.6,1009.5 L682.3,1006.5 L683.0,1003.4 L683.8,1000.0 L684.5,996.3 L685.2,993.0 L686.0,989.2 L686.8,985.7 L687.5,982.4 L688.2,979.8 L688.9,977.4 L689.6,974.9 L690.3,973.1 L691.2,971.2 L692.4,969.6 L693.7,968.2 L695.0,967.2 L696.3,966.4 L697.5,966.4 L698.5,966.5 L699.4,967.2 L700.3,968.6 L701.1,969.8 L702.0,971.4 L702.9,973.0 L703.7,975.2 L704.5,977.4 L705.4,979.4 L706.2,981.3 L707.2,982.5 L708.1,983.5 L709.0,984.3 L710.1,984.7 L711.2,985.5 L712.6,986.1 L714.1,986.8 L715.7,987.4 L717.3,987.8 L718.8,987.9 L720.1,987.9 L721.3,987.4 L722.5,987.0 L723.7,986.6 L725.0,986.2 L726.4,986.2 L727.9,986.6 L729.4,987.1 L731.0,987.5 L732.5,987.9 L734.0,988.4 L735.5,989.2 L737.0,989.9 L738.5,990.7 L740.0,991.3 L741.5,991.7 L742.9,991.9 L744.3,992.3 L745.8,992.4 L747.5,993.1 L749.3,993.9 L751.3,995.1 L753.4,996.5 L755.5,997.7 L757.5,998.9 L759.5,999.7 L761.5,1000.9 L763.5,1002.0 L765.5,1002.6 L767.5,1003.0 L769.5,1002.9 L771.5,1002.4 L773.5,1001.7 L775.5,1001.2 L777.5,1000.6 L779.6,1000.2 L781.7,999.8 L783.8,999.5 L785.7,999.7 L787.5,999.5 L789.0,999.8 L790.3,1000.1 L791.5,1000.7 L792.6,1001.3 L793.8,1002.0 L794.8,1002.9 L795.8,1003.5 L796.8,1004.6 L797.8,1005.4 L798.8,1006.3 L799.8,1006.9 L800.8,1007.7 L801.8,1008.2 L802.8,1008.9 L803.8,1009.9 L804.8,1011.1 L805.8,1012.4 L806.8,1013.9 L807.8,1015.3 L808.8,1016.1 L809.6,1017.1 L810.5,1017.6 L811.3,1017.9 L812.4,1018.3 L813.8,1018.8 L815.5,1019.1 L817.5,1019.3 L819.8,1019.6 L822.2,1019.8 L825.0,1019.9 L828.2,1020.2 L831.8,1020.3 L835.6,1020.5 L839.2,1020.3 L842.5,1020.4 L845.3,1020.5 L847.9,1020.4 L850.2,1020.3 L852.6,1020.4 L855.0,1020.5 L857.5,1020.8 L860.0,1021.3 L862.5,1021.5 L865.0,1022.2 L867.5,1022.3 L870.2,1022.9 L873.1,1022.9 L875.9,1022.8 L878.3,1023.1 L880.0,1023.0" stroke="#e6cd73" stroke-width="5.9"/>
<path d="M603.8,1163.8 L605.7,1163.7 L608.4,1163.6 L611.6,1163.5 L614.8,1163.4 L617.5,1163.2 L619.8,1163.1 L621.8,1162.9 L623.8,1162.7 L625.6,1162.4 L627.5,1162.0 L629.4,1161.5 L631.1,1161.0 L632.9,1160.5 L634.6,1159.7 L636.2,1158.8 L637.9,1157.5 L639.4,1156.1 L640.9,1154.6 L642.4,1152.9 L643.8,1151.3 L645.1,1149.6 L646.3,1147.7 L647.6,1145.9 L648.8,1144.2 L650.0,1142.4 L651.3,1141.0 L652.6,1139.5 L653.9,1138.1 L655.2,1137.0 L656.2,1136.2 L657.1,1136.3 L657.9,1136.9 L658.5,1138.0 L659.2,1138.9 L660.0,1139.9 L660.9,1140.9 L661.9,1142.3 L662.9,1143.6 L663.9,1144.6 L665.0,1145.4 L666.2,1146.0 L667.4,1146.5 L668.7,1146.4 L670.0,1146.5 L671.2,1146.3 L672.5,1145.9 L673.8,1145.4 L675.1,1144.6 L676.3,1143.6 L677.5,1142.7 L678.6,1141.4 L679.6,1140.0 L680.6,1138.5 L681.5,1136.7 L682.5,1135.0 L683.5,1132.9 L684.5,1130.6 L685.5,1128.3 L686.5,1125.8 L687.5,1123.7 L688.5,1121.5 L689.5,1119.3 L690.5,1117.1 L691.5,1115.3 L692.5,1113.9 L693.5,1112.8 L694.5,1111.9 L695.5,1111.4 L696.5,1111.3 L697.5,1111.2 L698.5,1111.1 L699.4,1111.3 L700.4,1111.6 L701.4,1112.3 L702.5,1113.1 L703.6,1114.1 L704.8,1115.1 L706.0,1116.5 L707.3,1117.7 L708.8,1118.6 L710.3,1119.3 L711.9,1119.7 L713.6,1119.9 L715.5,1120.3 L717.5,1120.5 L719.8,1120.9 L722.3,1121.0 L725.0,1121.4 L727.6,1121.6 L730.0,1122.0 L732.2,1122.5 L734.2,1122.8 L736.1,1123.4 L738.0,1124.0 L740.0,1124.5 L742.0,1125.0 L744.1,1125.4 L746.2,1125.8 L748.2,1126.4 L750.0,1127.0 L751.6,1127.6 L753.1,1128.5 L754.4,1129.2 L755.9,1129.9 L757.5,1130.6 L759.3,1131.0 L761.3,1131.9 L763.4,1132.2 L765.5,1132.8 L767.5,1133.1 L769.5,1133.0 L771.5,1132.8 L773.5,1132.4 L775.5,1132.1 L777.5,1132.0 L779.5,1132.1 L781.6,1131.9 L783.7,1132.1 L785.7,1132.3 L787.5,1132.5 L789.2,1132.9 L790.7,1133.5 L792.1,1134.0 L793.5,1134.9 L795.0,1135.5 L796.5,1136.1 L798.0,1136.8 L799.5,1137.4 L801.0,1138.0 L802.5,1138.8 L804.0,1139.5 L805.4,1140.7 L806.8,1141.3 L808.3,1142.2 L810.0,1142.9 L811.8,1143.6 L813.6,1144.1 L815.5,1144.4 L817.6,1144.7 L820.0,1145.2 L822.6,1145.4 L825.4,1145.6 L828.4,1145.9 L831.6,1145.9 L835.0,1146.3 L838.8,1146.5 L843.0,1146.2 L847.3,1146.1 L851.4,1146.2 L855.0,1146.0 L858.0,1146.5 L860.5,1146.3 L862.9,1146.6 L865.1,1146.8 L867.5,1147.1 L870.2,1147.2 L873.1,1147.2 L875.9,1147.5 L878.3,1147.9 L880.0,1147.8" stroke="#ff964f" stroke-width="5.9"/>
<path d="M603.8,1282.0 L605.7,1282.0 L608.4,1282.1 L611.6,1282.1 L614.8,1282.1 L617.5,1282.0 L619.8,1281.8 L621.8,1281.6 L623.8,1281.2 L625.6,1280.9 L627.5,1280.5 L629.4,1280.2 L631.1,1279.8 L632.9,1279.4 L634.6,1278.9 L636.2,1278.0 L637.9,1276.7 L639.4,1275.2 L640.9,1273.4 L642.4,1271.7 L643.8,1270.1 L645.1,1268.4 L646.4,1266.8 L647.6,1265.2 L648.8,1263.8 L650.0,1262.5 L651.2,1261.2 L652.4,1260.1 L653.6,1259.0 L654.7,1258.3 L655.8,1258.0 L656.7,1258.2 L657.5,1259.1 L658.3,1260.3 L659.1,1261.3 L660.0,1262.6 L661.0,1263.7 L661.9,1264.9 L663.0,1266.1 L664.0,1267.2 L665.0,1267.9 L666.0,1268.5 L666.9,1268.7 L667.8,1268.6 L668.8,1268.4 L670.0,1268.0 L671.4,1267.4 L672.9,1266.4 L674.6,1265.0 L676.1,1263.8 L677.5,1262.5 L678.7,1261.2 L679.7,1259.9 L680.6,1258.2 L681.5,1256.5 L682.5,1255.0 L683.5,1252.9 L684.5,1251.1 L685.5,1248.7 L686.5,1246.7 L687.5,1245.0 L688.5,1243.6 L689.5,1242.2 L690.5,1241.1 L691.5,1240.3 L692.5,1239.5 L693.5,1239.2 L694.4,1238.7 L695.4,1238.3 L696.4,1238.7 L697.5,1238.6 L698.7,1239.2 L699.9,1240.0 L701.2,1240.6 L702.5,1241.2 L703.8,1241.9 L704.9,1242.7 L706.1,1243.6 L707.2,1244.2 L708.5,1245.0 L710.0,1245.5 L711.8,1245.9 L713.7,1246.3 L715.8,1246.7 L717.9,1246.6 L720.0,1246.9 L722.0,1247.2 L724.0,1247.3 L726.0,1247.1 L728.0,1247.2 L730.0,1247.4 L732.0,1247.8 L734.0,1248.1 L736.0,1248.7 L738.0,1249.1 L740.0,1249.5 L742.0,1250.1 L744.0,1250.7 L746.0,1251.3 L748.0,1251.9 L750.0,1252.5 L752.0,1253.2 L754.0,1253.7 L756.0,1254.5 L758.0,1255.0 L760.0,1255.4 L762.0,1256.0 L764.0,1256.7 L766.0,1257.1 L768.0,1257.1 L770.0,1257.5 L772.0,1257.5 L774.1,1257.4 L776.1,1257.3 L778.1,1257.1 L780.0,1256.9 L781.9,1256.9 L783.7,1256.8 L785.5,1256.5 L787.2,1256.6 L788.8,1256.9 L790.1,1257.5 L791.4,1258.6 L792.5,1259.4 L793.7,1260.5 L795.0,1261.3 L796.4,1261.8 L797.9,1262.1 L799.4,1262.4 L801.0,1262.6 L802.5,1263.0 L804.0,1263.7 L805.4,1264.1 L806.8,1265.1 L808.3,1265.9 L810.0,1266.3 L811.8,1266.6 L813.6,1267.1 L815.5,1267.2 L817.6,1267.5 L820.0,1267.3 L822.6,1267.7 L825.4,1267.7 L828.4,1267.9 L831.6,1268.1 L835.0,1268.0 L838.8,1268.0 L843.0,1267.7 L847.3,1268.1 L851.4,1268.1 L855.0,1268.0 L858.0,1268.0 L860.5,1268.2 L862.9,1268.4 L865.1,1268.5 L867.5,1268.7 L870.2,1268.6 L873.1,1268.6 L875.9,1268.9 L878.3,1269.1 L880.0,1269.0" stroke="#ff4d27" stroke-width="5.9"/>
<path d="M603.8,1400.0 L605.7,1400.1 L608.4,1400.2 L611.6,1400.4 L614.8,1400.5 L617.5,1400.5 L619.8,1400.4 L621.8,1400.3 L623.8,1400.0 L625.6,1399.8 L627.5,1399.5 L629.4,1399.2 L631.1,1399.0 L632.9,1398.7 L634.6,1398.2 L636.2,1397.5 L637.9,1396.5 L639.4,1395.4 L640.9,1394.0 L642.4,1392.6 L643.8,1391.2 L645.1,1389.8 L646.4,1388.2 L647.6,1386.5 L648.8,1385.1 L650.0,1383.8 L651.2,1382.5 L652.4,1381.4 L653.6,1380.5 L654.7,1379.7 L655.8,1379.5 L656.7,1379.8 L657.5,1380.3 L658.3,1381.3 L659.1,1382.0 L660.0,1383.1 L660.9,1383.9 L661.9,1384.9 L662.9,1385.7 L663.9,1386.5 L665.0,1387.0 L666.2,1387.2 L667.4,1387.4 L668.7,1387.4 L670.0,1387.3 L671.2,1386.9 L672.5,1386.6 L673.8,1386.2 L675.1,1385.6 L676.3,1384.8 L677.5,1383.9 L678.6,1382.4 L679.6,1381.0 L680.6,1379.5 L681.5,1377.9 L682.5,1376.3 L683.5,1374.6 L684.5,1373.0 L685.5,1371.3 L686.5,1370.1 L687.5,1368.6 L688.5,1367.8 L689.4,1367.1 L690.4,1366.5 L691.4,1365.7 L692.5,1365.5 L693.7,1365.2 L694.9,1365.1 L696.2,1365.3 L697.5,1365.3 L698.8,1365.4 L699.9,1365.9 L701.1,1366.7 L702.2,1367.5 L703.5,1368.1 L705.0,1368.6 L706.7,1369.1 L708.6,1369.3 L710.6,1369.6 L712.8,1369.7 L715.0,1370.1 L717.3,1370.5 L719.8,1370.6 L722.4,1371.1 L725.0,1371.8 L727.5,1372.0 L730.0,1372.4 L732.6,1372.8 L735.2,1373.0 L737.7,1373.4 L740.0,1373.6 L742.2,1374.1 L744.2,1374.3 L746.1,1374.6 L748.0,1374.7 L750.0,1375.6 L752.0,1376.3 L754.0,1377.0 L756.0,1378.2 L758.0,1378.6 L760.0,1379.5 L762.0,1379.7 L763.9,1380.3 L765.8,1379.8 L767.8,1379.9 L770.0,1379.9 L772.4,1380.0 L774.9,1379.8 L777.6,1379.6 L780.1,1379.4 L782.5,1379.7 L784.7,1379.6 L786.8,1380.0 L788.8,1380.5 L790.7,1380.6 L792.5,1381.2 L794.2,1381.9 L795.7,1382.5 L797.1,1383.0 L798.5,1383.9 L800.0,1384.7 L801.4,1385.0 L802.8,1385.7 L804.1,1386.2 L805.7,1386.6 L807.5,1387.2 L809.6,1387.3 L812.0,1387.4 L814.6,1387.4 L817.3,1387.4 L820.0,1387.5 L822.8,1387.7 L825.6,1387.7 L828.5,1387.9 L831.6,1388.2 L835.0,1388.1 L838.8,1388.4 L843.0,1388.5 L847.3,1388.7 L851.4,1388.7 L855.0,1388.9 L858.0,1389.2 L860.5,1389.2 L862.9,1389.3 L865.1,1389.6 L867.5,1389.4 L870.2,1389.6 L873.1,1389.6 L875.9,1389.4 L878.3,1389.5 L880.0,1389.5" stroke="#ff0000" stroke-width="5.9"/>
</g>
<g clip-path="url(#cp_ca)" fill="none" stroke-linejoin="round" stroke-linecap="butt">
<path d="M907.7,215.7H923.2M953.5,215.7H990.7M1027.2,215.7H1064.5M1101.0,215.7H1138.7M1169.7,215.7H1192.7" stroke="#8000ff" stroke-width="5.9"/>
<path d="M907.7,333.4H923.2M953.5,333.4H990.7M1027.2,333.4H1064.5M1101.0,333.4H1138.7M1169.7,333.4H1192.7" stroke="#4e4dfc" stroke-width="5.9"/>
<path d="M907.7,451.0H923.2M953.5,451.0H990.7M1027.2,451.0H1064.5M1101.0,451.0H1138.7M1169.7,451.0H1192.7" stroke="#1996f3" stroke-width="5.9"/>
<path d="M907.7,569.0H923.2M953.5,569.0H990.7M1027.2,569.0H1064.5M1101.0,569.0H1138.7M1169.7,569.0H1192.7" stroke="#18cde4" stroke-width="5.9"/>
<path d="M907.7,692.5H923.2M953.5,692.5H990.7M1027.2,692.5H1064.5M1101.0,692.5H1138.7M1169.7,692.5H1192.7" stroke="#4df3ce" stroke-width="5.9"/>
<path d="M907.7,810.4H923.2M953.5,810.4H990.7M1027.2,810.4H1064.5M1101.0,810.4H1138.7M1169.7,810.4H1192.7" stroke="#80ffb4" stroke-width="5.9"/>
<path d="M907.7,928.4H923.2M953.5,928.4H990.7M1027.2,928.4H1064.5M1101.0,928.4H1138.7M1169.7,928.4H1192.7" stroke="#b2f396" stroke-width="5.9"/>
<path d="M907.7,1046.2H923.2M953.5,1046.2H990.7M1027.2,1046.2H1064.5M1101.0,1046.2H1138.7M1169.7,1046.2H1192.7" stroke="#e6cd73" stroke-width="5.9"/>
<path d="M907.7,1164.0H923.2M953.5,1164.0H990.7M1027.2,1164.0H1064.5M1101.0,1164.0H1138.7M1169.7,1164.0H1192.7" stroke="#ff964f" stroke-width="5.9"/>
<path d="M907.7,1282.2H923.2M953.5,1282.2H990.7M1027.2,1282.2H1064.5M1101.0,1282.2H1138.7M1169.7,1282.2H1192.7" stroke="#ff4d27" stroke-width="5.9"/>
<path d="M907.7,1405.5H940.7M978.5,1405.5H1015.7M1052.2,1405.5H1089.5M1127.2,1405.5H1164.5" stroke="#ff0000" stroke-width="5.9"/>
<path d="M908.8,215.0 L912.4,215.0 L917.7,215.0 L923.7,215.0 L929.7,215.0 L935.0,215.0 L939.6,215.0 L944.1,215.1 L948.3,215.1 L952.0,214.9 L955.0,214.5 L957.2,213.8 L958.6,213.0 L959.6,211.9 L960.4,210.5 L961.2,208.8 L962.2,206.6 L962.9,204.0 L963.6,201.1 L964.3,198.0 L965.0,195.1 L965.8,191.8 L966.5,188.0 L967.2,184.8 L968.0,180.9 L968.8,177.5 L969.5,174.3 L970.2,170.6 L971.0,167.4 L971.8,164.9 L972.5,162.0 L973.2,160.2 L973.9,158.1 L974.6,155.3 L975.3,154.5 L976.2,153.9 L977.3,152.0 L978.5,152.4 L979.8,151.9 L981.1,151.6 L982.5,152.9 L984.0,152.9 L985.6,152.3 L987.2,152.3 L988.7,153.3 L990.0,153.5 L991.0,153.4 L991.8,154.5 L992.4,154.9 L993.1,155.1 L993.8,155.2 L994.5,153.9 L995.2,152.9 L995.9,150.8 L996.7,148.6 L997.5,146.0 L998.4,143.3 L999.4,139.9 L1000.4,135.7 L1001.5,131.1 L1002.5,127.7 L1003.5,123.1 L1004.5,118.9 L1005.5,115.2 L1006.5,111.6 L1007.5,107.7 L1008.5,104.0 L1009.5,100.7 L1010.5,96.9 L1011.5,93.0 L1012.5,90.3 L1013.5,86.8 L1014.4,84.1 L1015.4,81.4 L1016.4,78.5 L1017.5,75.6 L1018.6,74.0 L1019.8,72.0 L1021.0,70.4 L1022.3,68.7 L1023.8,67.0 L1025.3,65.5 L1027.0,65.4 L1028.7,64.4 L1030.5,63.4 L1032.5,62.4 L1034.6,62.5 L1036.9,61.3 L1039.2,60.5 L1041.5,60.5 L1043.8,59.9 L1045.8,60.4 L1047.9,60.5 L1049.9,61.1 L1051.8,61.6 L1053.8,62.3 L1055.6,63.9 L1057.3,65.7 L1059.0,66.5 L1060.7,68.3 L1062.5,69.5 L1064.5,71.5 L1066.5,71.9 L1068.6,73.3 L1070.6,73.5 L1072.5,75.3 L1074.1,76.1 L1075.6,77.5 L1076.9,79.5 L1078.4,80.7 L1080.0,82.2 L1081.9,84.5 L1083.9,85.7 L1086.1,87.9 L1088.1,90.3 L1090.0,91.0 L1091.7,93.4 L1093.2,95.4 L1094.6,98.2 L1096.0,101.6 L1097.5,103.9 L1099.0,106.1 L1100.5,108.3 L1102.0,109.8 L1103.5,111.3 L1105.0,114.2 L1106.5,115.3 L1108.0,116.9 L1109.5,117.6 L1111.0,119.0 L1112.5,119.8 L1114.0,121.4 L1115.4,122.8 L1116.9,124.5 L1118.4,126.5 L1120.0,127.8 L1121.7,128.1 L1123.4,131.2 L1125.2,133.1 L1127.0,135.2 L1128.8,136.3 L1130.5,136.8 L1132.2,137.2 L1133.9,137.7 L1135.7,137.9 L1137.5,139.3 L1139.4,139.9 L1141.5,140.7 L1143.5,142.1 L1145.6,143.7 L1147.5,143.7 L1149.4,144.6 L1151.2,145.4 L1153.0,145.7 L1154.7,146.5 L1156.2,146.6 L1157.7,146.9 L1159.0,146.0 L1160.2,145.2 L1161.4,143.8 L1162.5,144.2 L1163.6,143.6 L1164.6,144.7 L1165.6,146.3 L1166.5,147.1 L1167.5,147.4 L1168.5,147.8 L1169.4,146.9 L1170.3,145.9 L1171.3,145.5 L1172.5,145.2 L1173.8,145.9 L1175.2,146.1 L1176.7,146.9 L1178.3,147.6 L1180.0,148.0 L1181.9,150.6 L1184.1,150.8 L1186.3,150.4 L1188.2,152.2 L1189.5,152.3" stroke="#8000ff" stroke-width="5.9"/>
<path d="M908.8,333.2 L912.4,333.2 L917.7,333.2 L923.7,333.2 L929.7,333.1 L935.0,333.0 L939.6,332.9 L944.1,332.8 L948.3,332.7 L952.0,332.4 L955.0,332.0 L957.2,331.5 L958.6,331.0 L959.6,330.2 L960.4,329.1 L961.2,327.5 L962.2,325.2 L962.9,322.4 L963.6,319.2 L964.3,315.8 L965.0,312.5 L965.8,309.1 L966.5,305.6 L967.2,301.9 L968.0,298.6 L968.8,295.2 L969.5,292.2 L970.2,288.3 L970.9,285.4 L971.7,282.9 L972.5,280.1 L973.4,276.8 L974.4,275.8 L975.4,273.8 L976.4,272.1 L977.5,271.1 L978.6,270.4 L979.9,271.2 L981.1,271.2 L982.4,271.5 L983.8,272.5 L985.2,273.4 L986.8,274.1 L988.4,275.4 L989.9,276.5 L991.2,277.3 L992.4,276.1 L993.4,274.9 L994.4,272.5 L995.3,269.8 L996.2,267.0 L997.2,265.3 L998.2,264.2 L999.2,260.6 L1000.2,257.9 L1001.2,255.0 L1002.2,251.7 L1003.2,246.5 L1004.2,241.2 L1005.2,236.6 L1006.2,232.5 L1007.2,228.7 L1008.2,225.5 L1009.2,222.7 L1010.2,218.9 L1011.2,215.3 L1012.2,211.8 L1013.2,208.4 L1014.2,206.0 L1015.2,203.4 L1016.2,200.4 L1017.4,197.2 L1018.6,194.8 L1019.9,191.8 L1021.1,189.5 L1022.5,187.4 L1023.9,186.0 L1025.3,184.7 L1026.8,184.2 L1028.4,183.1 L1030.0,182.5 L1031.7,182.8 L1033.5,182.8 L1035.4,183.3 L1037.1,182.8 L1038.8,183.6 L1040.1,182.6 L1041.3,181.4 L1042.4,180.9 L1043.6,179.8 L1045.0,179.6 L1046.6,179.9 L1048.4,180.8 L1050.3,180.4 L1052.1,181.7 L1053.8,182.4 L1055.1,184.4 L1056.4,185.4 L1057.5,187.3 L1058.7,189.3 L1060.0,189.6 L1061.4,190.8 L1062.9,191.1 L1064.4,191.9 L1066.0,193.1 L1067.5,193.7 L1069.0,195.0 L1070.4,196.0 L1071.8,197.2 L1073.3,198.7 L1075.0,199.7 L1076.9,200.5 L1078.9,201.1 L1081.1,202.5 L1083.1,203.7 L1085.0,204.5 L1086.7,206.8 L1088.2,208.5 L1089.6,211.6 L1091.0,214.9 L1092.5,217.0 L1094.0,220.2 L1095.6,222.4 L1097.1,225.3 L1098.6,227.4 L1100.0,229.4 L1101.3,232.2 L1102.5,234.7 L1103.6,236.2 L1104.9,238.5 L1106.2,239.7 L1107.9,241.2 L1109.6,242.8 L1111.5,243.2 L1113.3,243.7 L1115.0,245.2 L1116.5,245.9 L1118.0,246.6 L1119.4,248.0 L1120.9,247.6 L1122.5,250.2 L1124.4,252.3 L1126.4,253.4 L1128.6,254.4 L1130.6,257.3 L1132.5,259.0 L1134.2,258.8 L1135.7,258.2 L1137.1,258.2 L1138.5,258.4 L1140.0,258.8 L1141.5,260.0 L1142.9,260.8 L1144.4,260.8 L1145.9,262.7 L1147.5,263.7 L1149.2,265.2 L1151.0,264.9 L1152.8,265.1 L1154.6,266.0 L1156.2,266.3 L1157.8,265.2 L1159.3,265.8 L1160.8,264.6 L1162.3,264.3 L1163.8,264.0 L1165.2,264.2 L1166.7,265.0 L1168.2,265.8 L1169.7,265.6 L1171.2,266.2 L1172.9,267.0 L1174.6,266.8 L1176.4,266.6 L1178.2,267.1 L1180.0,267.1 L1182.0,267.9 L1184.2,267.6 L1186.3,269.9 L1188.2,271.4 L1189.5,271.5" stroke="#4e4dfc" stroke-width="5.9"/>
<path d="M908.8,450.8 L912.4,450.7 L917.6,450.7 L923.6,450.6 L929.6,450.6 L935.0,450.5 L939.8,450.5 L944.6,450.5 L949.2,450.5 L953.1,450.4 L956.2,450.0 L958.3,449.4 L959.5,448.7 L960.1,447.8 L960.6,446.6 L961.2,445.0 L962.1,443.0 L962.8,440.7 L963.6,438.2 L964.3,435.3 L965.0,432.5 L965.8,429.4 L966.5,426.0 L967.2,422.6 L968.0,419.3 L968.8,416.3 L969.5,413.3 L970.2,410.8 L970.9,408.5 L971.7,405.9 L972.5,403.5 L973.4,401.4 L974.4,399.5 L975.4,397.6 L976.5,396.3 L977.5,396.1 L978.5,394.6 L979.4,393.6 L980.3,393.5 L981.3,393.3 L982.5,393.5 L983.9,393.6 L985.5,392.9 L987.2,394.6 L988.7,393.7 L990.0,394.5 L991.0,394.8 L991.7,395.4 L992.3,396.2 L993.0,398.2 L993.8,397.6 L994.7,395.5 L995.7,393.7 L996.7,392.6 L997.7,388.9 L998.8,386.5 L999.8,383.5 L1000.8,378.8 L1001.8,374.5 L1002.8,369.4 L1003.8,364.3 L1004.8,360.5 L1005.8,356.0 L1006.8,352.7 L1007.8,348.1 L1008.8,345.1 L1009.8,341.4 L1010.8,338.2 L1011.8,335.8 L1012.8,332.6 L1013.8,329.7 L1014.6,327.7 L1015.3,324.6 L1016.0,321.5 L1016.7,320.2 L1017.5,316.9 L1018.4,315.5 L1019.3,313.7 L1020.3,311.5 L1021.3,309.7 L1022.5,308.6 L1023.8,307.6 L1025.3,306.7 L1026.8,307.0 L1028.4,306.2 L1030.0,306.0 L1031.7,306.9 L1033.5,306.5 L1035.4,306.6 L1037.1,307.6 L1038.8,307.5 L1040.1,306.8 L1041.3,306.4 L1042.4,304.0 L1043.6,303.7 L1045.0,302.9 L1046.6,303.1 L1048.4,302.7 L1050.3,303.2 L1052.1,304.1 L1053.8,305.1 L1055.1,306.5 L1056.4,308.1 L1057.5,308.1 L1058.7,310.6 L1060.0,311.4 L1061.4,312.0 L1062.9,311.9 L1064.4,312.8 L1066.0,312.3 L1067.5,314.3 L1069.0,314.4 L1070.5,316.0 L1072.0,317.4 L1073.5,319.0 L1075.0,319.5 L1076.5,321.3 L1078.0,321.9 L1079.5,323.2 L1081.0,323.7 L1082.5,325.0 L1084.0,326.3 L1085.5,329.4 L1087.0,332.9 L1088.5,334.8 L1090.0,337.3 L1091.5,339.8 L1092.9,342.5 L1094.4,343.6 L1095.9,347.3 L1097.5,349.0 L1099.2,351.4 L1100.9,353.6 L1102.7,356.9 L1104.5,358.1 L1106.2,360.4 L1108.0,361.1 L1109.7,361.1 L1111.4,361.9 L1113.2,362.9 L1115.0,363.6 L1117.0,365.7 L1119.0,368.7 L1121.1,371.3 L1123.1,373.9 L1125.0,376.3 L1126.6,376.8 L1128.1,377.6 L1129.4,377.6 L1130.9,377.7 L1132.5,377.9 L1134.4,378.2 L1136.4,379.6 L1138.6,380.1 L1140.6,381.8 L1142.5,382.3 L1144.1,383.7 L1145.6,383.3 L1147.0,383.9 L1148.5,383.9 L1150.0,384.8 L1151.7,385.2 L1153.5,385.0 L1155.3,386.7 L1157.1,386.4 L1158.8,385.7 L1160.3,385.6 L1161.8,384.6 L1163.2,383.8 L1164.7,384.0 L1166.2,382.9 L1167.8,384.1 L1169.4,383.6 L1171.0,384.7 L1172.9,386.2 L1175.0,386.1 L1177.8,387.2 L1181.1,388.8 L1184.5,389.4 L1187.4,390.8 L1189.5,390.9" stroke="#1996f3" stroke-width="5.9"/>
<path d="M908.8,568.8 L910.9,568.9 L914.0,569.2 L917.6,569.5 L921.4,569.8 L925.0,570.0 L928.5,570.1 L932.1,570.2 L935.7,570.2 L939.2,570.1 L942.5,570.0 L945.6,569.8 L948.6,569.5 L951.5,569.1 L954.0,568.7 L956.2,568.0 L958.0,567.3 L959.4,566.5 L960.5,565.6 L961.5,564.3 L962.5,562.5 L963.4,560.2 L964.2,557.3 L964.9,554.1 L965.5,550.9 L966.2,547.4 L967.0,544.0 L967.8,540.4 L968.5,536.6 L969.2,533.4 L970.0,530.3 L970.7,527.0 L971.4,523.9 L972.2,521.8 L972.9,519.5 L973.8,517.7 L974.6,516.1 L975.5,515.1 L976.5,515.1 L977.6,513.8 L978.8,513.7 L980.1,512.8 L981.6,513.4 L983.2,513.5 L984.8,513.9 L986.2,514.7 L987.6,515.1 L988.9,516.8 L990.1,517.8 L991.4,518.6 L992.5,518.0 L993.6,517.7 L994.6,515.9 L995.6,512.8 L996.5,510.1 L997.5,506.7 L998.5,504.3 L999.5,500.6 L1000.5,497.6 L1001.5,493.7 L1002.5,490.2 L1003.5,485.7 L1004.5,481.3 L1005.5,477.9 L1006.5,473.6 L1007.5,470.7 L1008.5,466.4 L1009.5,463.2 L1010.5,459.4 L1011.5,455.6 L1012.5,451.8 L1013.5,449.1 L1014.5,446.2 L1015.5,442.8 L1016.5,440.1 L1017.5,437.6 L1018.4,434.9 L1019.3,433.8 L1020.1,431.9 L1021.2,431.0 L1022.5,430.5 L1024.1,428.2 L1026.0,428.3 L1028.1,428.0 L1030.3,427.9 L1032.5,427.0 L1034.9,426.0 L1037.4,426.0 L1040.1,425.2 L1042.6,423.8 L1045.0,424.5 L1047.2,424.1 L1049.4,424.3 L1051.5,425.8 L1053.4,426.7 L1055.0,427.1 L1056.3,429.6 L1057.3,429.4 L1058.1,431.1 L1059.0,432.1 L1060.0,433.4 L1061.2,432.5 L1062.4,433.1 L1063.7,431.6 L1065.0,432.0 L1066.2,432.3 L1067.5,433.3 L1068.7,435.7 L1069.9,438.5 L1071.2,440.6 L1072.5,441.5 L1073.9,441.8 L1075.4,442.5 L1076.9,443.6 L1078.5,444.2 L1080.0,445.2 L1081.5,446.2 L1083.0,447.5 L1084.5,449.8 L1086.0,451.6 L1087.5,454.3 L1089.0,456.0 L1090.5,459.5 L1092.0,462.8 L1093.5,465.9 L1095.0,468.3 L1096.5,469.0 L1098.1,470.5 L1099.7,472.4 L1101.2,473.2 L1102.5,474.0 L1103.6,477.2 L1104.6,478.4 L1105.4,480.2 L1106.4,481.3 L1107.5,483.0 L1108.8,483.5 L1110.3,484.2 L1111.9,485.5 L1113.5,484.8 L1115.0,486.5 L1116.5,486.9 L1117.9,489.7 L1119.3,490.7 L1120.8,491.8 L1122.5,493.0 L1124.3,494.8 L1126.3,496.8 L1128.4,497.1 L1130.5,497.1 L1132.5,497.9 L1134.5,501.0 L1136.6,500.7 L1138.7,501.4 L1140.7,503.0 L1142.5,504.0 L1144.1,504.9 L1145.6,504.3 L1147.0,504.2 L1148.5,505.0 L1150.0,504.7 L1151.7,505.7 L1153.5,506.4 L1155.4,507.6 L1157.1,507.5 L1158.8,507.7 L1160.1,507.8 L1161.2,507.2 L1162.3,505.5 L1163.5,505.0 L1165.0,505.1 L1166.7,505.0 L1168.5,506.5 L1170.5,506.4 L1172.7,507.4 L1175.0,507.5 L1177.8,508.3 L1181.2,509.1 L1184.5,510.4 L1187.5,510.6 L1189.5,511.9" stroke="#18cde4" stroke-width="5.9"/>
<path d="M908.8,688.8 L912.4,688.8 L917.7,688.8 L923.7,688.8 L929.7,688.8 L935.0,688.8 L939.6,688.7 L944.1,688.7 L948.3,688.7 L952.0,688.5 L955.0,688.0 L957.2,687.3 L958.6,686.5 L959.6,685.4 L960.4,684.1 L961.2,682.5 L962.2,680.5 L962.9,678.2 L963.6,675.7 L964.3,672.8 L965.0,670.0 L965.7,666.9 L966.4,663.0 L967.2,659.3 L967.9,655.9 L968.8,652.4 L969.6,649.4 L970.6,646.8 L971.6,643.7 L972.6,641.2 L973.8,639.5 L974.9,637.0 L976.2,635.6 L977.4,634.1 L978.7,632.8 L980.0,633.2 L981.2,631.6 L982.5,632.3 L983.8,632.1 L985.0,632.8 L986.2,633.2 L987.5,634.7 L988.8,636.5 L990.1,638.4 L991.3,638.0 L992.5,638.8 L993.6,637.3 L994.6,635.0 L995.6,632.5 L996.5,629.5 L997.5,626.2 L998.5,622.9 L999.5,620.1 L1000.5,615.3 L1001.5,611.5 L1002.5,607.0 L1003.5,604.2 L1004.5,599.7 L1005.5,596.0 L1006.5,592.0 L1007.5,588.7 L1008.5,584.9 L1009.5,581.5 L1010.5,578.2 L1011.5,575.5 L1012.5,572.5 L1013.5,569.6 L1014.5,566.8 L1015.5,563.7 L1016.5,559.8 L1017.5,557.2 L1018.4,555.7 L1019.3,553.2 L1020.1,552.4 L1021.2,551.1 L1022.5,549.1 L1024.1,549.0 L1026.0,548.8 L1028.1,548.0 L1030.3,547.4 L1032.5,546.9 L1034.9,546.5 L1037.4,545.1 L1040.1,544.7 L1042.6,543.9 L1045.0,543.5 L1047.2,543.7 L1049.3,545.1 L1051.3,545.5 L1053.2,547.1 L1055.0,547.2 L1056.7,548.9 L1058.2,550.0 L1059.6,551.2 L1061.0,552.4 L1062.5,553.2 L1064.0,554.2 L1065.5,554.7 L1067.0,555.2 L1068.5,556.0 L1070.0,557.2 L1071.5,558.7 L1073.0,560.1 L1074.5,561.0 L1076.0,562.3 L1077.5,564.1 L1079.0,565.6 L1080.5,568.0 L1082.0,570.3 L1083.5,572.9 L1085.0,574.9 L1086.5,576.6 L1088.0,579.0 L1089.5,580.8 L1091.0,583.8 L1092.5,585.6 L1094.0,586.6 L1095.5,588.4 L1097.0,590.5 L1098.5,591.6 L1100.0,594.3 L1101.5,595.2 L1103.0,596.3 L1104.5,598.2 L1106.0,599.4 L1107.5,600.1 L1109.0,601.5 L1110.5,601.2 L1112.0,602.5 L1113.5,603.4 L1115.0,604.3 L1116.5,606.9 L1118.1,609.4 L1119.6,609.7 L1121.1,611.9 L1122.5,614.2 L1123.8,615.1 L1125.2,616.6 L1126.4,617.6 L1127.6,619.0 L1128.8,619.1 L1129.8,619.8 L1130.8,619.2 L1131.7,618.4 L1132.7,617.3 L1133.8,617.4 L1134.9,618.1 L1136.0,618.2 L1137.2,619.1 L1138.5,619.5 L1140.0,621.0 L1141.7,622.0 L1143.6,623.3 L1145.6,623.2 L1147.8,623.9 L1150.0,625.5 L1152.3,625.8 L1154.8,625.0 L1157.4,625.3 L1160.0,624.8 L1162.5,625.5 L1165.0,625.9 L1167.4,625.5 L1169.9,624.4 L1172.4,624.9 L1175.0,624.7 L1178.0,625.8 L1181.4,626.4 L1184.6,628.0 L1187.5,629.3 L1189.5,629.6" stroke="#4df3ce" stroke-width="5.9"/>
<path d="M908.8,809.5 L912.4,809.5 L917.7,809.6 L923.7,809.6 L929.7,809.6 L935.0,809.5 L939.6,809.3 L944.1,809.1 L948.3,808.9 L952.0,808.5 L955.0,808.0 L957.2,807.5 L958.6,807.0 L959.6,806.3 L960.4,805.3 L961.2,803.8 L962.2,801.6 L962.9,799.0 L963.6,796.0 L964.3,792.9 L965.0,789.9 L965.7,787.5 L966.4,783.9 L967.2,781.0 L967.9,777.9 L968.8,774.7 L969.7,772.6 L970.7,769.6 L971.7,766.7 L972.7,764.9 L973.8,762.3 L974.7,760.7 L975.6,758.3 L976.6,757.2 L977.6,756.2 L978.8,754.8 L980.1,753.8 L981.6,753.8 L983.2,754.4 L984.8,753.6 L986.2,753.9 L987.6,755.4 L988.9,756.1 L990.1,757.0 L991.4,757.4 L992.5,757.7 L993.6,757.0 L994.6,755.4 L995.6,752.6 L996.5,751.4 L997.5,748.1 L998.5,746.7 L999.5,742.7 L1000.5,739.7 L1001.5,736.1 L1002.5,732.2 L1003.5,729.5 L1004.6,725.5 L1005.6,722.7 L1006.6,718.6 L1007.5,715.1 L1008.3,713.0 L1009.1,709.7 L1009.8,706.4 L1010.5,703.5 L1011.2,702.1 L1012.0,699.3 L1012.7,697.0 L1013.4,694.1 L1014.2,691.8 L1015.0,689.6 L1015.9,688.5 L1016.9,686.1 L1017.9,684.7 L1018.9,681.8 L1020.0,681.7 L1021.2,679.7 L1022.4,677.7 L1023.7,677.4 L1025.0,677.2 L1026.2,676.9 L1027.5,674.4 L1028.8,674.3 L1030.0,674.4 L1031.2,673.3 L1032.5,673.6 L1033.8,673.5 L1035.0,674.4 L1036.2,674.3 L1037.5,675.2 L1038.8,675.1 L1040.0,675.2 L1041.1,674.5 L1042.3,674.3 L1043.6,673.4 L1045.0,673.7 L1046.6,672.4 L1048.4,673.3 L1050.3,674.2 L1052.1,674.5 L1053.8,673.9 L1055.1,675.8 L1056.4,676.2 L1057.5,678.3 L1058.7,678.0 L1060.0,679.0 L1061.4,678.8 L1062.9,679.9 L1064.4,678.8 L1066.0,680.0 L1067.5,681.1 L1069.0,681.8 L1070.5,684.4 L1072.0,685.6 L1073.5,687.9 L1075.0,688.2 L1076.5,689.7 L1078.1,691.4 L1079.6,692.1 L1081.1,693.9 L1082.5,695.3 L1083.8,696.5 L1085.1,698.9 L1086.3,701.2 L1087.5,703.2 L1088.8,704.9 L1090.0,706.5 L1091.2,708.1 L1092.4,710.0 L1093.7,711.9 L1095.0,711.9 L1096.5,713.6 L1098.0,715.5 L1099.6,717.7 L1101.1,718.2 L1102.5,721.0 L1103.6,722.3 L1104.6,721.7 L1105.4,724.3 L1106.4,725.4 L1107.5,726.1 L1108.8,726.3 L1110.3,727.9 L1111.9,728.3 L1113.5,729.6 L1115.0,730.3 L1116.5,730.7 L1117.9,733.2 L1119.3,734.4 L1120.8,735.6 L1122.5,736.3 L1124.3,738.0 L1126.3,738.9 L1128.4,740.0 L1130.5,740.6 L1132.5,742.6 L1134.5,742.6 L1136.5,744.6 L1138.5,744.5 L1140.5,745.8 L1142.5,746.2 L1144.5,746.2 L1146.6,746.5 L1148.7,746.8 L1150.7,747.9 L1152.5,747.7 L1154.2,747.8 L1155.8,748.9 L1157.3,748.6 L1158.7,748.8 L1160.0,749.1 L1161.1,749.6 L1162.1,748.2 L1162.9,747.5 L1163.9,746.7 L1165.0,746.1 L1166.3,746.8 L1167.7,746.9 L1169.2,746.7 L1170.8,747.2 L1172.5,748.0 L1174.4,747.9 L1176.5,748.6 L1178.6,749.2 L1180.7,749.2 L1182.5,749.6 L1184.2,749.8 L1185.9,750.2 L1187.3,750.7 L1188.6,752.2 L1189.5,751.7" stroke="#80ffb4" stroke-width="5.9"/>
<path d="M908.8,927.0 L912.4,927.0 L917.6,927.0 L923.6,927.1 L929.6,927.0 L935.0,927.0 L939.8,927.0 L944.6,927.0 L949.2,926.9 L953.1,926.7 L956.2,926.2 L958.3,925.6 L959.5,924.9 L960.1,924.0 L960.6,922.8 L961.2,921.2 L962.1,919.3 L962.8,917.1 L963.5,914.5 L964.2,911.9 L965.0,908.8 L965.9,905.2 L966.9,901.6 L967.9,897.4 L969.0,893.3 L970.0,890.3 L971.0,886.9 L972.0,883.6 L973.0,881.3 L974.0,880.4 L975.0,878.5 L976.0,875.4 L976.9,875.5 L977.8,875.0 L978.8,873.9 L980.0,874.0 L981.4,873.2 L982.9,873.6 L984.5,874.5 L986.0,874.3 L987.5,874.4 L988.9,874.6 L990.1,874.5 L991.4,874.9 L992.6,875.0 L993.8,874.4 L994.8,872.6 L995.8,871.6 L996.8,867.5 L997.8,865.0 L998.8,862.2 L999.8,859.6 L1000.8,855.3 L1001.8,852.4 L1002.8,848.2 L1003.8,844.6 L1004.8,841.7 L1005.8,838.3 L1006.8,834.9 L1007.8,830.5 L1008.8,827.9 L1009.8,824.3 L1010.8,820.3 L1011.8,816.7 L1012.8,813.1 L1013.8,809.9 L1014.7,807.6 L1015.7,805.6 L1016.7,802.5 L1017.7,800.8 L1018.8,799.2 L1019.9,796.5 L1021.1,796.3 L1022.4,794.4 L1023.6,793.7 L1025.0,791.9 L1026.4,790.7 L1027.9,790.2 L1029.4,789.7 L1031.0,788.7 L1032.5,789.2 L1034.0,788.9 L1035.5,788.7 L1037.0,789.8 L1038.5,789.9 L1040.0,790.0 L1041.5,789.5 L1043.0,788.7 L1044.5,787.8 L1046.0,787.8 L1047.5,787.5 L1049.0,787.9 L1050.5,787.7 L1052.0,788.8 L1053.5,789.6 L1055.0,789.5 L1056.5,791.0 L1058.0,792.9 L1059.5,792.8 L1061.0,794.0 L1062.5,795.0 L1064.0,795.5 L1065.5,796.6 L1067.0,796.7 L1068.5,797.2 L1070.0,797.7 L1071.5,799.2 L1073.0,799.9 L1074.5,800.9 L1076.0,802.2 L1077.5,804.4 L1079.0,805.3 L1080.5,807.1 L1082.0,809.4 L1083.5,810.6 L1085.0,812.9 L1086.5,814.0 L1088.0,816.7 L1089.5,817.5 L1091.0,820.5 L1092.5,822.3 L1094.0,824.2 L1095.5,827.1 L1097.0,829.0 L1098.5,831.0 L1100.0,833.1 L1101.5,834.4 L1103.0,836.0 L1104.5,837.3 L1106.0,839.5 L1107.5,840.4 L1109.0,840.8 L1110.5,841.7 L1112.0,842.7 L1113.5,843.6 L1115.0,845.6 L1116.5,846.3 L1118.1,847.9 L1119.7,848.5 L1121.2,849.7 L1122.5,851.8 L1123.7,851.6 L1124.7,853.2 L1125.6,853.9 L1126.5,855.5 L1127.5,857.3 L1128.5,855.8 L1129.4,855.8 L1130.3,855.2 L1131.3,853.5 L1132.5,853.4 L1133.8,854.6 L1135.3,856.0 L1136.9,856.5 L1138.5,858.4 L1140.0,860.7 L1141.5,860.7 L1142.9,862.2 L1144.3,863.4 L1145.8,863.7 L1147.5,864.4 L1149.4,864.8 L1151.4,865.3 L1153.6,865.7 L1155.6,865.5 L1157.5,866.0 L1159.2,866.0 L1160.7,865.9 L1162.1,864.9 L1163.5,864.4 L1165.0,865.3 L1166.5,864.6 L1167.9,864.9 L1169.3,865.2 L1170.8,865.9 L1172.5,865.9 L1174.4,866.2 L1176.5,866.2 L1178.6,866.2 L1180.7,866.6 L1182.5,866.4 L1184.2,868.0 L1185.9,867.2 L1187.3,868.9 L1188.6,868.6 L1189.5,869.1" stroke="#b2f396" stroke-width="5.9"/>
<path d="M908.8,1045.5 L912.4,1045.5 L917.6,1045.6 L923.6,1045.6 L929.6,1045.6 L935.0,1045.5 L939.8,1045.3 L944.6,1045.0 L949.1,1044.7 L953.0,1044.3 L956.2,1043.8 L958.5,1043.3 L959.9,1042.8 L960.9,1042.2 L961.7,1041.3 L962.5,1040.0 L963.4,1038.1 L964.2,1035.8 L964.9,1033.2 L965.5,1030.4 L966.2,1027.6 L967.0,1024.9 L967.7,1021.4 L968.4,1018.2 L969.2,1015.4 L970.0,1012.4 L970.9,1009.8 L971.9,1007.5 L972.9,1005.0 L973.9,1002.4 L975.0,999.7 L976.2,998.2 L977.5,996.1 L978.8,994.5 L980.1,992.9 L981.2,991.9 L982.3,992.0 L983.3,992.1 L984.3,992.9 L985.2,994.3 L986.2,995.0 L987.4,996.3 L988.5,997.0 L989.7,997.5 L990.9,999.2 L992.0,999.5 L993.1,997.8 L994.2,996.9 L995.3,996.2 L996.4,994.3 L997.5,991.9 L998.5,991.4 L999.5,989.4 L1000.5,987.7 L1001.5,985.9 L1002.5,982.2 L1003.5,978.4 L1004.5,974.2 L1005.5,969.3 L1006.5,964.1 L1007.5,960.5 L1008.5,957.1 L1009.5,954.8 L1010.5,951.7 L1011.5,949.8 L1012.5,948.0 L1013.5,944.6 L1014.4,942.1 L1015.4,940.0 L1016.4,937.3 L1017.5,934.6 L1018.7,931.8 L1019.9,930.4 L1021.2,927.3 L1022.5,925.8 L1023.8,923.4 L1025.0,923.3 L1026.2,923.5 L1027.4,924.2 L1028.7,924.1 L1030.0,925.5 L1031.4,924.7 L1032.8,924.6 L1034.3,923.7 L1035.9,924.2 L1037.5,922.4 L1039.2,923.1 L1040.9,921.2 L1042.7,920.3 L1044.5,919.4 L1046.2,920.1 L1048.0,919.5 L1049.7,920.3 L1051.4,921.3 L1053.2,923.0 L1055.0,924.0 L1057.0,924.2 L1059.0,925.3 L1061.1,926.4 L1063.1,926.8 L1065.0,927.7 L1066.7,928.4 L1068.2,931.1 L1069.6,932.4 L1071.0,933.1 L1072.5,934.7 L1074.0,934.8 L1075.5,937.0 L1077.0,936.9 L1078.5,937.9 L1080.0,939.3 L1081.5,938.8 L1083.0,940.2 L1084.5,940.3 L1086.0,940.8 L1087.5,943.0 L1089.0,944.5 L1090.5,946.3 L1092.0,949.3 L1093.5,951.3 L1095.0,953.4 L1096.5,955.5 L1098.0,957.9 L1099.5,958.6 L1101.0,960.4 L1102.5,962.8 L1104.0,963.3 L1105.5,965.2 L1107.0,966.4 L1108.5,967.1 L1110.0,968.4 L1111.5,969.5 L1113.0,970.1 L1114.5,971.0 L1116.0,971.5 L1117.5,972.9 L1119.0,974.1 L1120.4,975.6 L1121.8,978.1 L1123.3,979.9 L1125.0,981.6 L1126.9,982.4 L1128.9,983.4 L1131.1,984.2 L1133.1,984.3 L1135.0,985.7 L1136.7,985.6 L1138.2,985.7 L1139.6,985.9 L1141.0,986.9 L1142.5,985.9 L1144.0,987.1 L1145.4,985.9 L1146.9,987.1 L1148.4,988.4 L1150.0,988.1 L1151.7,988.7 L1153.5,989.0 L1155.4,989.0 L1157.1,990.5 L1158.8,990.9 L1160.1,990.6 L1161.4,990.2 L1162.5,988.5 L1163.7,988.0 L1165.0,986.6 L1166.4,987.6 L1167.8,988.4 L1169.3,989.7 L1170.8,990.7 L1172.5,991.2 L1174.4,991.0 L1176.5,990.9 L1178.6,991.0 L1180.7,991.0 L1182.5,991.3 L1184.2,992.1 L1185.9,991.9 L1187.3,991.7 L1188.6,992.2 L1189.5,994.2" stroke="#e6cd73" stroke-width="5.9"/>
<path d="M908.8,1163.0 L912.4,1162.9 L917.6,1162.8 L923.6,1162.7 L929.6,1162.6 L935.0,1162.5 L939.8,1162.4 L944.6,1162.4 L949.2,1162.4 L953.1,1162.3 L956.2,1162.0 L958.3,1161.7 L959.5,1161.3 L960.1,1160.8 L960.6,1160.0 L961.2,1158.8 L962.1,1157.0 L962.8,1154.9 L963.6,1152.4 L964.3,1150.0 L965.0,1147.6 L965.7,1145.3 L966.4,1142.4 L967.2,1139.8 L967.9,1137.4 L968.8,1135.2 L969.7,1132.8 L970.7,1129.4 L971.7,1127.7 L972.7,1125.8 L973.8,1123.9 L974.7,1122.3 L975.6,1120.6 L976.5,1119.5 L977.5,1117.6 L978.8,1117.9 L980.3,1115.7 L982.2,1116.1 L984.1,1115.3 L985.9,1115.6 L987.5,1115.1 L988.7,1116.4 L989.7,1117.1 L990.6,1118.3 L991.5,1119.2 L992.5,1119.2 L993.7,1117.8 L995.0,1116.8 L996.3,1114.8 L997.6,1112.7 L998.8,1110.0 L999.8,1106.2 L1000.8,1104.0 L1001.8,1100.8 L1002.8,1097.1 L1003.8,1093.4 L1004.8,1090.1 L1005.8,1085.9 L1006.8,1082.5 L1007.8,1079.0 L1008.8,1075.0 L1009.7,1072.2 L1010.7,1068.6 L1011.7,1066.0 L1012.7,1063.7 L1013.8,1060.8 L1014.9,1058.5 L1016.2,1055.8 L1017.4,1053.7 L1018.7,1050.5 L1020.0,1049.3 L1021.2,1046.9 L1022.4,1046.3 L1023.7,1046.1 L1024.9,1045.3 L1026.2,1043.5 L1027.6,1043.6 L1029.0,1042.8 L1030.4,1041.1 L1032.0,1040.8 L1033.8,1040.4 L1035.8,1040.5 L1038.0,1040.9 L1040.4,1040.1 L1042.8,1040.6 L1045.0,1041.9 L1047.1,1042.0 L1049.1,1042.4 L1051.1,1042.0 L1053.0,1042.8 L1055.0,1042.0 L1057.0,1043.9 L1059.0,1044.3 L1061.0,1045.1 L1063.0,1046.4 L1065.0,1048.4 L1067.0,1049.8 L1069.0,1050.2 L1071.0,1051.5 L1073.0,1053.5 L1075.0,1054.2 L1077.0,1056.2 L1079.1,1058.0 L1081.2,1059.9 L1083.2,1061.1 L1085.0,1061.8 L1086.7,1064.8 L1088.2,1067.0 L1089.6,1068.5 L1091.0,1070.4 L1092.5,1072.1 L1094.0,1074.5 L1095.4,1076.1 L1096.8,1077.9 L1098.3,1079.5 L1100.0,1081.8 L1101.8,1083.2 L1103.8,1084.8 L1105.9,1086.2 L1108.0,1088.2 L1110.0,1090.0 L1112.0,1092.0 L1114.0,1092.8 L1116.0,1093.7 L1118.0,1095.3 L1120.0,1096.5 L1122.0,1097.4 L1124.0,1099.3 L1126.0,1100.1 L1128.0,1101.9 L1130.0,1103.8 L1132.0,1104.3 L1134.0,1104.8 L1136.0,1105.5 L1138.0,1106.0 L1140.0,1105.8 L1142.0,1106.6 L1144.0,1107.1 L1146.0,1108.1 L1148.0,1108.8 L1150.0,1109.6 L1152.1,1109.0 L1154.2,1108.8 L1156.3,1109.6 L1158.2,1109.5 L1160.0,1109.6 L1161.5,1109.3 L1162.7,1109.1 L1163.8,1108.2 L1164.9,1108.2 L1166.2,1108.4 L1167.7,1108.3 L1169.3,1109.0 L1171.0,1109.1 L1172.8,1110.4 L1175.0,1110.5 L1177.8,1110.6 L1181.1,1111.2 L1184.5,1111.4 L1187.4,1111.8 L1189.5,1111.8" stroke="#ff964f" stroke-width="5.9"/>
<path d="M908.8,1282.0 L912.4,1282.0 L917.7,1282.0 L923.7,1282.1 L929.7,1282.0 L935.0,1282.0 L939.6,1281.9 L944.1,1281.9 L948.3,1281.8 L952.0,1281.6 L955.0,1281.2 L957.2,1280.8 L958.6,1280.4 L959.6,1279.8 L960.4,1278.9 L961.2,1277.5 L962.2,1275.6 L962.9,1273.1 L963.6,1270.4 L964.3,1267.7 L965.0,1264.9 L965.7,1262.3 L966.4,1259.7 L967.2,1256.7 L967.9,1254.8 L968.8,1252.3 L969.6,1250.4 L970.6,1248.5 L971.6,1246.8 L972.6,1245.8 L973.8,1243.4 L974.9,1242.3 L976.1,1240.4 L977.4,1240.0 L978.6,1238.6 L980.0,1239.0 L981.4,1238.2 L983.0,1237.7 L984.5,1238.2 L986.1,1237.4 L987.5,1237.9 L988.9,1238.0 L990.1,1238.6 L991.4,1239.6 L992.6,1239.9 L993.8,1239.9 L994.8,1238.7 L995.8,1237.4 L996.8,1237.0 L997.8,1234.8 L998.8,1232.3 L999.8,1230.1 L1000.8,1226.7 L1001.8,1224.1 L1002.8,1220.1 L1003.8,1217.7 L1004.8,1214.4 L1005.8,1210.8 L1006.8,1207.7 L1007.8,1204.1 L1008.8,1201.9 L1009.7,1198.9 L1010.7,1195.7 L1011.7,1193.7 L1012.7,1192.8 L1013.8,1189.8 L1014.9,1188.0 L1016.1,1185.4 L1017.4,1184.2 L1018.6,1182.1 L1020.0,1180.3 L1021.4,1178.4 L1022.9,1177.3 L1024.4,1177.0 L1026.0,1175.4 L1027.5,1174.1 L1029.0,1175.3 L1030.4,1175.0 L1031.8,1174.1 L1033.3,1174.7 L1035.0,1174.8 L1036.8,1174.2 L1038.8,1174.3 L1040.9,1173.5 L1043.0,1172.3 L1045.0,1172.4 L1047.0,1173.2 L1049.0,1173.7 L1051.0,1173.9 L1053.0,1175.2 L1055.0,1175.2 L1057.0,1176.5 L1059.0,1176.2 L1061.0,1177.9 L1063.0,1179.4 L1065.0,1180.1 L1067.0,1180.4 L1069.0,1180.8 L1071.0,1183.6 L1073.0,1185.3 L1075.0,1186.3 L1077.0,1187.6 L1079.1,1188.2 L1081.2,1189.8 L1083.2,1190.7 L1085.0,1192.0 L1086.7,1193.4 L1088.2,1195.3 L1089.6,1196.0 L1091.0,1196.8 L1092.5,1198.7 L1094.0,1200.4 L1095.6,1202.9 L1097.1,1205.7 L1098.6,1207.3 L1100.0,1210.1 L1101.3,1211.4 L1102.6,1213.5 L1103.8,1213.9 L1105.0,1215.5 L1106.2,1215.9 L1107.5,1216.9 L1108.7,1216.1 L1109.9,1216.6 L1111.2,1216.6 L1112.5,1216.8 L1113.9,1218.3 L1115.3,1219.6 L1116.8,1220.8 L1118.3,1222.1 L1120.0,1223.4 L1121.8,1224.5 L1123.8,1226.4 L1125.9,1227.2 L1128.0,1228.5 L1130.0,1229.1 L1132.0,1230.2 L1134.0,1230.0 L1136.0,1230.5 L1138.0,1230.9 L1140.0,1231.1 L1142.0,1231.9 L1144.0,1232.2 L1146.0,1232.6 L1148.0,1232.9 L1150.0,1233.5 L1151.9,1232.7 L1153.8,1233.6 L1155.6,1233.5 L1157.7,1233.4 L1160.0,1233.6 L1162.7,1234.2 L1165.7,1234.6 L1168.8,1234.5 L1172.0,1235.1 L1175.0,1235.2 L1178.2,1235.6 L1181.5,1235.7 L1184.8,1235.7 L1187.5,1235.3 L1189.5,1235.1" stroke="#ff4d27" stroke-width="5.9"/>
<path d="M908.8,1400.5 L912.4,1400.5 L917.6,1400.5 L923.6,1400.5 L929.6,1400.5 L935.0,1400.5 L939.8,1400.5 L944.6,1400.5 L949.2,1400.5 L953.1,1400.3 L956.2,1400.0 L958.3,1399.6 L959.5,1399.0 L960.1,1398.4 L960.6,1397.5 L961.2,1396.2 L962.1,1394.7 L962.8,1392.7 L963.6,1390.5 L964.3,1388.5 L965.0,1386.2 L965.7,1384.5 L966.4,1382.1 L967.2,1380.1 L967.9,1378.2 L968.8,1376.2 L969.7,1374.3 L970.7,1372.4 L971.7,1371.0 L972.7,1368.7 L973.8,1368.0 L974.7,1366.9 L975.6,1365.8 L976.6,1365.2 L977.6,1365.6 L978.8,1363.5 L980.1,1364.2 L981.7,1364.4 L983.3,1364.8 L984.9,1364.8 L986.2,1365.4 L987.4,1365.8 L988.4,1366.8 L989.3,1366.9 L990.2,1367.9 L991.2,1368.2 L992.4,1366.5 L993.7,1365.5 L995.0,1363.1 L996.3,1362.0 L997.5,1359.7 L998.6,1358.5 L999.6,1355.8 L1000.6,1354.2 L1001.5,1351.7 L1002.5,1350.0 L1003.5,1348.2 L1004.5,1346.9 L1005.5,1344.1 L1006.5,1342.2 L1007.5,1340.8 L1008.5,1338.7 L1009.5,1336.0 L1010.5,1335.0 L1011.5,1333.1 L1012.5,1331.6 L1013.5,1329.7 L1014.5,1326.9 L1015.5,1325.6 L1016.5,1324.9 L1017.5,1322.9 L1018.5,1320.7 L1019.4,1319.4 L1020.3,1318.2 L1021.3,1316.6 L1022.5,1314.9 L1023.8,1315.9 L1025.2,1315.0 L1026.7,1315.0 L1028.3,1314.8 L1030.0,1314.8 L1031.8,1314.5 L1033.8,1315.0 L1035.9,1314.0 L1038.0,1314.1 L1040.0,1313.7 L1042.0,1314.2 L1044.0,1313.8 L1046.0,1313.0 L1048.0,1314.9 L1050.0,1315.2 L1052.0,1315.3 L1054.0,1315.0 L1056.0,1316.9 L1058.0,1317.3 L1060.0,1317.6 L1062.0,1318.6 L1064.0,1320.2 L1066.0,1320.4 L1068.0,1321.5 L1070.0,1322.2 L1072.0,1323.6 L1074.1,1323.9 L1076.1,1325.4 L1078.1,1326.0 L1080.0,1327.8 L1081.8,1327.6 L1083.7,1328.6 L1085.4,1329.7 L1087.1,1330.5 L1088.8,1330.6 L1090.3,1332.6 L1091.8,1334.3 L1093.2,1336.1 L1094.7,1337.3 L1096.2,1339.4 L1097.9,1340.5 L1099.7,1340.8 L1101.5,1341.5 L1103.3,1342.8 L1105.0,1344.0 L1106.6,1345.0 L1108.1,1344.8 L1109.6,1345.7 L1111.0,1345.9 L1112.5,1347.1 L1114.0,1348.9 L1115.5,1350.2 L1117.0,1350.6 L1118.5,1351.2 L1120.0,1351.9 L1121.5,1353.6 L1123.1,1353.8 L1124.7,1354.0 L1126.2,1354.2 L1127.5,1354.7 L1128.7,1355.8 L1129.7,1357.5 L1130.6,1357.5 L1131.5,1358.2 L1132.5,1358.9 L1133.4,1358.7 L1134.3,1358.9 L1135.1,1357.6 L1136.2,1357.7 L1137.5,1357.3 L1139.1,1358.2 L1141.0,1358.4 L1143.1,1358.6 L1145.3,1359.3 L1147.5,1360.0 L1149.8,1361.1 L1152.2,1361.1 L1154.7,1361.4 L1157.3,1361.3 L1160.0,1361.4 L1162.8,1361.6 L1165.8,1362.2 L1168.9,1362.8 L1172.0,1362.8 L1175.0,1363.5 L1178.2,1362.7 L1181.5,1363.3 L1184.8,1363.4 L1187.5,1363.2 L1189.5,1362.8" stroke="#ff0000" stroke-width="5.9"/>
</g>
<g clip-path="url(#cp_ni)" fill="none" stroke-linejoin="round" stroke-linecap="butt">
<path d="M1216.7,215.5H1256.7M1294.0,215.5H1331.2M1369.0,215.5H1405.7M1443.2,215.5H1480.7" stroke="#8000ff" stroke-width="5.9"/>
<path d="M1216.7,333.4H1225.7M1262.7,333.4H1300.0M1337.7,333.4H1375.0M1411.5,333.4H1448.7M1475.2,333.4H1495.7" stroke="#4e4dfc" stroke-width="5.9"/>
<path d="M1216.7,451.0H1225.7M1262.7,451.0H1300.0M1337.7,451.0H1375.0M1411.5,451.0H1448.7M1475.2,451.0H1495.7" stroke="#1996f3" stroke-width="5.9"/>
<path d="M1216.7,569.0H1225.7M1262.7,569.0H1300.0M1337.7,569.0H1375.0M1411.5,569.0H1448.7M1475.2,569.0H1495.7" stroke="#18cde4" stroke-width="5.9"/>
<path d="M1216.7,692.5H1225.7M1262.7,692.5H1300.0M1337.7,692.5H1375.0M1411.5,692.5H1448.7M1475.2,692.5H1495.7" stroke="#4df3ce" stroke-width="5.9"/>
<path d="M1216.7,810.4H1225.7M1262.7,810.4H1300.0M1337.7,810.4H1375.0M1411.5,810.4H1448.7M1475.2,810.4H1495.7" stroke="#80ffb4" stroke-width="5.9"/>
<path d="M1216.7,928.4H1225.7M1262.7,928.4H1300.0M1337.7,928.4H1375.0M1411.5,928.4H1448.7M1475.2,928.4H1495.7" stroke="#b2f396" stroke-width="5.9"/>
<path d="M1216.7,1046.2H1225.7M1262.7,1046.2H1300.0M1337.7,1046.2H1375.0M1411.5,1046.2H1448.7M1475.2,1046.2H1495.7" stroke="#e6cd73" stroke-width="5.9"/>
<path d="M1216.7,1164.0H1225.7M1262.7,1164.0H1300.0M1337.7,1164.0H1375.0M1411.5,1164.0H1448.7M1475.2,1164.0H1495.7" stroke="#ff964f" stroke-width="5.9"/>
<path d="M1216.7,1282.2H1225.7M1262.7,1282.2H1300.0M1337.7,1282.2H1375.0M1411.5,1282.2H1448.7M1475.2,1282.2H1495.7" stroke="#ff4d27" stroke-width="5.9"/>
<path d="M1216.7,1399.8H1225.7M1262.7,1399.8H1300.0M1337.7,1399.8H1375.0M1411.5,1399.8H1448.7M1475.2,1399.8H1495.7" stroke="#ff0000" stroke-width="5.9"/>
<path d="M1218.0,215.0 L1221.2,215.0 L1225.9,215.0 L1231.1,215.0 L1236.3,215.0 L1240.5,215.0 L1243.8,215.1 L1246.6,215.3 L1249.0,215.4 L1251.1,215.2 L1253.0,214.5 L1254.5,213.2 L1255.5,211.4 L1256.4,209.3 L1257.1,207.1 L1258.0,205.0 L1259.0,202.9 L1260.0,200.9 L1261.0,198.7 L1262.0,196.8 L1263.0,195.0 L1264.0,193.3 L1264.9,191.7 L1265.9,190.2 L1266.9,189.3 L1268.0,187.7 L1269.2,187.2 L1270.4,186.7 L1271.7,186.8 L1273.0,186.7 L1274.2,186.5 L1275.5,185.8 L1276.8,185.7 L1278.1,185.1 L1279.3,184.6 L1280.5,183.8 L1281.6,182.3 L1282.6,181.2 L1283.6,179.5 L1284.5,177.6 L1285.5,175.1 L1286.5,171.6 L1287.5,168.1 L1288.5,163.9 L1289.5,159.3 L1290.5,154.8 L1291.5,149.8 L1292.6,144.1 L1293.6,138.3 L1294.6,133.0 L1295.5,127.5 L1296.3,122.8 L1297.1,118.2 L1297.8,113.5 L1298.5,109.6 L1299.2,105.1 L1300.0,100.8 L1300.8,96.4 L1301.5,92.5 L1302.2,89.1 L1303.0,86.3 L1303.8,84.2 L1304.5,82.8 L1305.2,81.6 L1306.0,81.2 L1306.8,81.2 L1307.5,81.6 L1308.2,82.3 L1309.0,83.8 L1309.8,85.4 L1310.5,87.6 L1311.2,89.8 L1312.0,92.9 L1312.8,95.8 L1313.5,99.3 L1314.2,102.6 L1315.0,105.6 L1315.8,108.9 L1316.5,112.0 L1317.2,114.8 L1318.0,117.6 L1318.7,119.8 L1319.4,121.9 L1320.2,123.6 L1320.9,125.1 L1321.8,125.8 L1322.7,126.9 L1323.7,127.1 L1324.7,127.1 L1325.7,127.0 L1326.8,126.3 L1327.7,125.3 L1328.7,123.8 L1329.7,122.3 L1330.7,120.5 L1331.8,118.8 L1332.9,116.8 L1334.2,115.0 L1335.4,112.4 L1336.7,110.5 L1338.0,108.8 L1339.2,107.3 L1340.5,105.7 L1341.8,104.3 L1343.0,103.4 L1344.2,103.2 L1345.5,103.3 L1346.8,103.7 L1348.1,104.8 L1349.3,106.1 L1350.5,107.7 L1351.6,109.0 L1352.6,111.2 L1353.6,113.3 L1354.5,115.2 L1355.5,117.8 L1356.5,119.8 L1357.5,122.3 L1358.5,125.0 L1359.5,127.4 L1360.5,130.0 L1361.5,132.3 L1362.5,134.9 L1363.5,137.5 L1364.5,139.8 L1365.5,142.6 L1366.5,145.1 L1367.5,147.6 L1368.5,150.3 L1369.5,152.8 L1370.5,154.9 L1371.5,157.3 L1372.4,159.5 L1373.3,161.4 L1374.3,163.4 L1375.5,164.8 L1376.8,165.9 L1378.3,167.4 L1379.9,168.1 L1381.5,169.1 L1383.0,169.5 L1384.5,170.4 L1386.1,170.8 L1387.6,171.4 L1389.1,171.9 L1390.5,172.0 L1391.8,171.5 L1392.9,170.8 L1394.0,169.8 L1395.2,168.4 L1396.8,167.9 L1398.7,168.1 L1401.1,168.0 L1403.5,167.8 L1405.9,168.2 L1408.0,169.1 L1409.7,169.2 L1411.3,170.3 L1412.7,170.6 L1414.1,171.7 L1415.5,172.4 L1417.0,173.3 L1418.6,174.1 L1420.2,174.6 L1421.7,175.2 L1423.0,175.7 L1424.2,176.0 L1425.2,175.9 L1426.2,175.6 L1427.1,175.7 L1428.0,176.4 L1428.8,177.1 L1429.5,178.1 L1430.1,178.9 L1430.9,179.7 L1431.8,179.7 L1432.7,179.4 L1433.7,178.6 L1434.8,177.3 L1436.1,176.0 L1438.0,175.7 L1440.3,175.1 L1442.9,175.0 L1445.9,175.0 L1449.2,175.0 L1453.0,174.8 L1457.5,175.1 L1462.8,174.8 L1468.3,174.6 L1473.5,175.0 L1478.0,175.0 L1481.8,175.5 L1485.3,175.7 L1488.2,176.8 L1490.7,177.0 L1492.5,177.3" stroke="#8000ff" stroke-width="5.9"/>
<path d="M1218.0,333.2 L1221.2,333.3 L1225.9,333.3 L1231.2,333.3 L1236.4,333.3 L1240.5,333.2 L1243.6,333.2 L1246.1,333.1 L1248.2,333.0 L1250.1,332.6 L1251.8,332.0 L1253.2,331.0 L1254.2,329.7 L1255.0,328.2 L1255.8,326.6 L1256.8,325.0 L1257.7,323.3 L1258.7,321.6 L1259.7,319.7 L1260.7,317.8 L1261.8,316.3 L1262.9,314.7 L1264.1,313.1 L1265.3,311.8 L1266.7,310.2 L1268.0,309.6 L1269.4,308.8 L1271.0,308.3 L1272.5,307.8 L1274.1,307.8 L1275.5,307.1 L1276.8,306.6 L1278.2,305.6 L1279.4,305.1 L1280.6,304.2 L1281.8,302.7 L1282.8,300.5 L1283.8,298.4 L1284.8,295.8 L1285.8,293.1 L1286.8,290.0 L1287.8,286.8 L1288.8,282.8 L1289.8,278.3 L1290.8,274.3 L1291.8,269.9 L1292.8,265.8 L1293.8,261.7 L1294.8,257.9 L1295.8,254.3 L1296.8,250.0 L1297.8,245.9 L1298.8,241.7 L1299.8,237.0 L1300.8,233.3 L1301.8,230.0 L1302.8,227.3 L1303.8,224.5 L1304.8,222.0 L1305.8,220.5 L1306.8,220.0 L1307.8,220.3 L1308.8,221.2 L1309.8,222.9 L1310.8,225.3 L1311.8,227.3 L1312.8,230.1 L1313.8,233.1 L1314.8,236.4 L1315.8,239.9 L1316.8,242.4 L1317.7,245.0 L1318.7,247.8 L1319.7,250.0 L1320.7,252.5 L1321.8,253.8 L1322.9,254.4 L1324.1,254.4 L1325.3,253.9 L1326.7,253.0 L1328.0,252.5 L1329.4,251.6 L1330.9,250.5 L1332.4,249.1 L1334.0,247.8 L1335.5,246.3 L1337.0,244.5 L1338.6,243.2 L1340.2,241.9 L1341.7,240.4 L1343.0,239.5 L1344.1,239.0 L1345.1,238.2 L1346.0,238.2 L1347.0,238.5 L1348.0,238.8 L1349.2,239.6 L1350.5,241.0 L1351.8,242.5 L1353.1,244.2 L1354.2,246.3 L1355.3,248.2 L1356.3,250.0 L1357.2,252.7 L1358.2,254.8 L1359.2,257.5 L1360.4,260.4 L1361.7,263.4 L1362.9,266.4 L1364.2,269.3 L1365.5,272.4 L1366.8,275.1 L1368.0,277.3 L1369.2,279.7 L1370.5,282.1 L1371.8,283.6 L1373.0,285.9 L1374.2,286.7 L1375.4,287.6 L1376.7,288.9 L1378.0,290.0 L1379.5,291.4 L1381.0,292.2 L1382.6,293.7 L1384.1,294.5 L1385.5,295.6 L1386.6,296.5 L1387.6,296.9 L1388.4,297.5 L1389.4,297.5 L1390.5,297.6 L1391.8,296.8 L1393.2,295.8 L1394.7,294.6 L1396.3,293.4 L1398.0,292.9 L1399.8,292.9 L1401.8,293.5 L1403.9,293.8 L1406.0,294.3 L1408.0,294.8 L1410.0,295.5 L1412.0,296.0 L1414.0,296.9 L1416.0,297.3 L1418.0,297.8 L1420.1,298.5 L1422.2,298.3 L1424.4,299.2 L1426.3,299.0 L1428.0,299.3 L1429.3,300.3 L1430.3,301.3 L1431.1,302.2 L1432.0,302.8 L1433.0,302.9 L1434.1,302.7 L1435.0,302.0 L1436.1,301.2 L1437.5,300.3 L1439.2,299.6 L1441.3,299.3 L1443.7,298.6 L1446.3,298.7 L1449.4,298.9 L1453.0,298.7 L1457.4,298.9 L1462.7,299.0 L1468.2,299.4 L1473.5,299.6 L1478.0,299.7 L1481.8,300.3 L1485.3,300.6 L1488.2,300.7 L1490.7,300.8 L1492.5,301.2" stroke="#4e4dfc" stroke-width="5.9"/>
<path d="M1218.0,451.2 L1221.2,451.4 L1225.9,451.5 L1231.1,451.7 L1236.3,451.8 L1240.5,451.8 L1243.8,451.6 L1246.6,451.5 L1249.0,451.2 L1251.1,450.8 L1253.0,450.0 L1254.5,448.8 L1255.5,447.4 L1256.4,445.7 L1257.1,444.0 L1258.0,442.5 L1259.0,441.1 L1259.9,439.8 L1260.9,438.6 L1261.9,437.4 L1263.0,436.2 L1264.2,435.2 L1265.3,434.0 L1266.6,432.9 L1267.9,432.2 L1269.2,431.3 L1270.7,430.7 L1272.2,430.4 L1273.8,429.7 L1275.3,429.3 L1276.8,428.7 L1278.1,428.2 L1279.4,427.1 L1280.7,426.4 L1281.8,425.5 L1283.0,423.5 L1284.1,421.7 L1285.1,419.3 L1286.1,416.3 L1287.0,413.0 L1288.0,409.9 L1289.0,406.6 L1290.0,403.3 L1291.0,399.8 L1292.0,396.2 L1293.0,392.2 L1294.0,388.8 L1295.0,385.4 L1296.0,381.7 L1297.0,377.9 L1298.0,375.0 L1299.0,371.9 L1300.0,368.7 L1301.0,365.8 L1302.0,363.4 L1303.0,361.0 L1303.9,359.7 L1304.8,358.7 L1305.7,358.5 L1306.6,357.5 L1307.5,357.6 L1308.4,357.9 L1309.2,358.3 L1310.1,359.1 L1310.9,360.2 L1311.8,361.0 L1312.5,362.9 L1313.2,364.7 L1313.9,367.2 L1314.7,369.2 L1315.5,371.3 L1316.4,373.4 L1317.3,375.5 L1318.3,378.1 L1319.3,379.6 L1320.5,381.2 L1321.8,382.0 L1323.3,382.6 L1324.9,382.5 L1326.5,382.2 L1328.0,382.1 L1329.5,381.7 L1331.0,380.4 L1332.5,379.7 L1334.0,378.3 L1335.5,377.5 L1337.0,376.6 L1338.6,375.6 L1340.2,375.2 L1341.7,374.4 L1343.0,373.8 L1344.1,373.2 L1345.1,373.3 L1346.0,373.1 L1347.0,373.6 L1348.0,373.5 L1349.2,374.5 L1350.5,375.0 L1351.8,376.0 L1353.1,377.5 L1354.2,378.9 L1355.3,380.4 L1356.3,381.8 L1357.2,383.6 L1358.2,385.7 L1359.2,387.3 L1360.4,389.4 L1361.7,392.0 L1362.9,394.3 L1364.2,396.6 L1365.5,398.9 L1366.7,400.6 L1367.9,403.0 L1369.2,405.3 L1370.4,406.9 L1371.8,408.6 L1373.2,410.7 L1374.6,412.3 L1376.1,414.0 L1377.7,415.3 L1379.2,416.2 L1380.9,417.0 L1382.7,417.3 L1384.4,418.2 L1386.2,417.8 L1388.0,418.0 L1389.8,417.8 L1391.5,417.7 L1393.2,417.6 L1395.0,417.0 L1396.8,417.1 L1398.5,417.3 L1400.3,417.8 L1402.1,417.8 L1403.8,418.4 L1405.5,419.0 L1407.1,419.0 L1408.7,419.9 L1410.2,420.5 L1411.6,420.8 L1413.0,421.2 L1414.3,421.2 L1415.6,421.0 L1416.8,420.5 L1418.0,419.9 L1419.2,419.9 L1420.5,420.6 L1421.8,421.0 L1423.0,422.0 L1424.2,422.8 L1425.5,423.5 L1426.7,424.5 L1427.9,424.9 L1429.2,425.7 L1430.4,426.4 L1431.8,426.5 L1433.1,425.6 L1434.4,424.9 L1435.7,423.9 L1437.3,422.9 L1439.2,422.7 L1441.4,422.4 L1443.8,422.3 L1446.4,422.2 L1449.4,422.6 L1453.0,422.5 L1457.4,422.5 L1462.7,422.6 L1468.2,422.7 L1473.5,422.4 L1478.0,422.4 L1481.8,422.5 L1485.3,423.0 L1488.2,423.0 L1490.7,422.8 L1492.5,423.3" stroke="#1996f3" stroke-width="5.9"/>
<path d="M1218.0,569.5 L1220.4,569.7 L1223.9,569.9 L1227.9,570.2 L1232.0,570.4 L1235.5,570.5 L1238.6,570.5 L1241.7,570.6 L1244.6,570.5 L1247.1,570.3 L1249.2,570.0 L1250.8,569.5 L1251.9,569.0 L1252.7,568.3 L1253.4,567.4 L1254.2,566.2 L1255.2,564.7 L1256.2,562.8 L1257.2,560.8 L1258.2,558.9 L1259.2,557.5 L1260.4,556.6 L1261.7,556.0 L1262.9,555.2 L1264.2,555.0 L1265.5,554.6 L1266.8,553.9 L1268.0,553.3 L1269.2,553.2 L1270.5,552.6 L1271.8,552.3 L1273.0,551.5 L1274.2,551.2 L1275.5,551.0 L1276.8,550.8 L1278.0,550.2 L1279.3,549.4 L1280.6,547.9 L1281.8,546.6 L1283.1,545.5 L1284.2,543.9 L1285.3,542.0 L1286.3,540.0 L1287.3,537.4 L1288.3,534.8 L1289.2,532.8 L1290.2,529.8 L1291.2,526.7 L1292.2,523.7 L1293.2,520.8 L1294.2,517.5 L1295.2,514.9 L1296.2,511.8 L1297.2,509.3 L1298.2,506.4 L1299.2,503.9 L1300.3,501.2 L1301.3,498.7 L1302.3,496.3 L1303.3,494.1 L1304.2,492.5 L1305.1,491.4 L1305.8,490.4 L1306.5,489.8 L1307.2,489.8 L1308.0,490.2 L1308.9,490.8 L1309.9,492.1 L1310.9,493.8 L1312.0,495.8 L1313.0,497.8 L1314.0,499.1 L1315.0,501.2 L1316.0,502.9 L1317.0,504.6 L1318.0,506.2 L1319.0,507.9 L1319.9,509.1 L1320.8,510.7 L1321.8,511.8 L1323.0,511.9 L1324.3,511.7 L1325.8,511.1 L1327.3,510.6 L1328.9,509.4 L1330.5,508.7 L1332.2,507.9 L1334.0,507.5 L1335.8,506.7 L1337.6,506.1 L1339.2,505.2 L1340.8,504.9 L1342.4,504.7 L1343.9,504.4 L1345.3,504.4 L1346.8,504.7 L1348.1,505.0 L1349.3,505.7 L1350.6,506.5 L1351.8,507.5 L1353.0,508.7 L1354.2,510.2 L1355.5,511.6 L1356.8,513.6 L1358.0,515.6 L1359.2,517.4 L1360.5,519.4 L1361.8,521.2 L1363.0,523.5 L1364.2,525.6 L1365.5,527.7 L1366.7,529.3 L1367.9,531.0 L1369.2,532.6 L1370.4,534.2 L1371.8,535.4 L1373.2,536.7 L1374.6,537.4 L1376.1,538.3 L1377.7,538.8 L1379.2,539.3 L1380.9,539.9 L1382.6,540.9 L1384.3,541.2 L1386.2,541.6 L1388.0,542.4 L1389.9,542.0 L1391.9,542.1 L1393.9,541.9 L1396.0,541.9 L1398.0,542.1 L1400.0,542.0 L1402.0,542.3 L1404.0,542.0 L1406.0,542.1 L1408.0,542.3 L1410.0,542.9 L1412.1,543.3 L1414.1,544.0 L1416.1,544.4 L1418.0,545.1 L1419.9,545.2 L1421.7,545.5 L1423.5,545.7 L1425.2,545.8 L1426.8,546.2 L1428.1,546.8 L1429.2,547.6 L1430.3,547.9 L1431.3,548.9 L1432.5,548.8 L1433.7,548.3 L1434.8,547.4 L1436.0,546.0 L1437.4,545.3 L1439.2,544.5 L1441.4,544.1 L1443.7,544.3 L1446.4,544.2 L1449.4,544.2 L1453.0,544.6 L1457.4,544.8 L1462.7,545.0 L1468.2,545.2 L1473.5,545.8 L1478.0,545.7 L1481.8,546.0 L1485.3,546.1 L1488.2,546.2 L1490.7,546.5 L1492.5,546.4" stroke="#18cde4" stroke-width="5.9"/>
<path d="M1218.0,689.5 L1220.4,689.5 L1223.8,689.6 L1227.8,689.6 L1231.8,689.6 L1235.5,689.5 L1239.0,689.4 L1242.6,689.2 L1246.1,689.0 L1249.2,688.6 L1251.8,688.0 L1253.5,687.1 L1254.6,686.0 L1255.3,684.7 L1255.9,683.3 L1256.8,682.0 L1257.7,680.6 L1258.6,679.1 L1259.6,677.6 L1260.6,676.2 L1261.8,675.1 L1263.1,674.1 L1264.5,673.6 L1266.0,673.0 L1267.6,672.5 L1269.2,672.0 L1271.0,672.0 L1272.8,672.2 L1274.7,672.5 L1276.5,672.4 L1278.0,671.9 L1279.2,670.9 L1280.3,669.8 L1281.2,668.4 L1282.1,666.6 L1283.0,664.9 L1284.0,663.4 L1285.0,661.8 L1286.0,659.9 L1287.0,658.0 L1288.0,656.3 L1289.0,654.4 L1290.0,652.2 L1291.0,650.3 L1292.0,648.3 L1293.0,646.2 L1294.0,644.3 L1295.0,642.4 L1296.0,640.1 L1297.0,638.6 L1298.0,636.3 L1299.0,634.4 L1300.0,632.1 L1301.0,629.6 L1302.0,627.7 L1303.0,626.3 L1303.9,624.9 L1304.8,623.6 L1305.7,622.1 L1306.6,621.5 L1307.5,621.3 L1308.4,621.6 L1309.2,622.0 L1310.0,622.6 L1310.9,623.8 L1311.8,625.0 L1312.7,626.3 L1313.7,628.1 L1314.7,629.8 L1315.7,631.4 L1316.8,632.3 L1317.7,633.2 L1318.6,633.9 L1319.5,634.7 L1320.5,635.2 L1321.8,635.3 L1323.3,635.8 L1325.0,635.9 L1326.9,635.8 L1328.8,635.8 L1330.5,635.4 L1332.1,635.0 L1333.5,634.8 L1335.0,633.9 L1336.4,633.5 L1338.0,632.9 L1339.7,632.4 L1341.5,632.7 L1343.4,632.4 L1345.1,632.5 L1346.8,633.1 L1348.2,633.3 L1349.4,634.3 L1350.6,635.4 L1351.8,636.6 L1353.0,637.4 L1354.2,638.8 L1355.5,640.2 L1356.8,642.0 L1358.0,643.4 L1359.2,645.2 L1360.5,646.3 L1361.8,648.2 L1363.0,649.8 L1364.2,651.2 L1365.5,652.5 L1366.7,653.8 L1367.9,655.0 L1369.2,656.7 L1370.4,657.9 L1371.8,658.8 L1373.2,659.4 L1374.6,660.2 L1376.1,660.9 L1377.7,661.7 L1379.2,662.3 L1380.9,662.6 L1382.6,662.7 L1384.3,662.9 L1386.2,663.5 L1388.0,663.8 L1389.9,664.1 L1391.9,663.7 L1393.9,663.9 L1396.0,663.6 L1398.0,663.8 L1400.0,663.9 L1402.0,664.2 L1404.0,664.6 L1406.0,665.1 L1408.0,665.3 L1410.0,665.8 L1412.1,666.4 L1414.1,666.6 L1416.1,667.1 L1418.0,667.4 L1419.9,667.6 L1421.7,667.9 L1423.5,667.6 L1425.2,668.1 L1426.8,667.7 L1428.1,668.2 L1429.2,669.0 L1430.3,669.1 L1431.3,669.9 L1432.5,670.1 L1433.7,669.5 L1434.8,669.3 L1436.0,668.6 L1437.4,667.5 L1439.2,667.0 L1441.4,666.8 L1443.7,666.6 L1446.4,666.2 L1449.4,666.2 L1453.0,666.6 L1457.4,666.4 L1462.7,666.6 L1468.2,666.8 L1473.5,666.8 L1478.0,667.5 L1481.8,667.7 L1485.3,667.8 L1488.2,667.8 L1490.7,668.1 L1492.5,668.0" stroke="#4df3ce" stroke-width="5.9"/>
<path d="M1218.0,809.5 L1220.4,809.5 L1223.9,809.6 L1227.8,809.6 L1231.9,809.6 L1235.5,809.5 L1238.8,809.3 L1242.2,809.1 L1245.3,808.9 L1248.2,808.5 L1250.5,808.0 L1252.1,807.4 L1253.2,806.7 L1254.0,805.9 L1254.7,804.9 L1255.5,803.8 L1256.5,802.3 L1257.4,800.5 L1258.3,798.7 L1259.3,796.8 L1260.5,795.4 L1261.8,794.4 L1263.2,793.9 L1264.7,793.4 L1266.3,793.2 L1268.0,792.7 L1269.9,792.4 L1272.1,791.9 L1274.2,791.8 L1276.3,791.8 L1278.0,791.1 L1279.3,790.6 L1280.4,790.4 L1281.2,789.7 L1282.1,788.3 L1283.0,787.5 L1284.0,786.1 L1285.0,784.6 L1286.0,783.2 L1287.0,781.8 L1288.0,780.1 L1289.0,778.2 L1290.0,776.4 L1291.0,774.0 L1292.0,772.0 L1293.0,770.2 L1294.0,768.1 L1295.0,765.8 L1296.0,763.7 L1297.0,761.9 L1298.0,760.0 L1299.0,758.1 L1300.0,756.2 L1301.0,754.4 L1302.0,752.6 L1303.0,751.2 L1304.0,749.9 L1305.0,748.7 L1306.0,747.9 L1307.0,747.2 L1308.0,746.9 L1309.0,747.3 L1310.0,747.8 L1311.0,748.9 L1312.0,749.8 L1313.0,750.4 L1314.0,751.4 L1315.0,752.4 L1316.0,753.3 L1317.0,754.8 L1318.0,755.6 L1318.9,756.2 L1319.8,757.3 L1320.6,757.9 L1321.7,758.4 L1323.0,758.7 L1324.7,758.6 L1326.8,759.2 L1328.9,759.0 L1331.1,758.7 L1333.0,758.8 L1334.7,758.4 L1336.2,757.6 L1337.6,757.1 L1339.0,756.7 L1340.5,756.2 L1342.0,756.0 L1343.6,756.4 L1345.1,756.2 L1346.6,756.7 L1348.0,757.0 L1349.3,757.5 L1350.6,758.5 L1351.8,759.1 L1353.0,760.3 L1354.2,761.3 L1355.5,762.5 L1356.8,763.6 L1358.0,764.7 L1359.2,766.0 L1360.5,767.2 L1361.8,768.6 L1363.0,770.0 L1364.2,771.2 L1365.5,772.4 L1366.8,773.7 L1368.0,774.9 L1369.2,776.4 L1370.5,777.7 L1371.8,779.3 L1373.0,780.0 L1374.2,780.8 L1375.4,781.5 L1376.6,781.9 L1377.8,782.7 L1379.2,782.8 L1380.8,783.7 L1382.5,783.4 L1384.3,783.9 L1386.1,784.4 L1388.0,784.6 L1389.9,785.0 L1391.9,785.0 L1393.9,785.7 L1396.0,786.0 L1398.0,786.5 L1400.0,786.5 L1402.0,786.8 L1404.0,786.8 L1406.0,787.4 L1408.0,787.3 L1410.0,787.7 L1412.0,788.0 L1414.0,787.7 L1416.0,787.9 L1418.0,787.9 L1420.1,788.0 L1422.2,788.0 L1424.3,788.3 L1426.2,788.6 L1428.0,788.9 L1429.5,789.3 L1430.8,789.4 L1431.9,789.9 L1433.1,790.0 L1434.2,789.9 L1435.4,789.6 L1436.5,789.3 L1437.5,788.6 L1438.8,787.6 L1440.5,787.6 L1442.4,787.3 L1444.5,787.4 L1446.8,787.4 L1449.6,787.3 L1453.0,787.3 L1457.4,787.5 L1462.6,787.5 L1468.2,787.5 L1473.5,787.3 L1478.0,787.7 L1481.8,787.2 L1485.3,787.9 L1488.2,787.8 L1490.7,787.8 L1492.5,788.3" stroke="#80ffb4" stroke-width="5.9"/>
<path d="M1218.0,927.5 L1220.4,927.5 L1223.8,927.6 L1227.8,927.6 L1231.8,927.6 L1235.5,927.5 L1239.0,927.4 L1242.6,927.3 L1246.1,927.1 L1249.2,926.8 L1251.8,926.2 L1253.5,925.5 L1254.6,924.5 L1255.3,923.4 L1255.9,922.3 L1256.8,921.2 L1257.7,920.2 L1258.6,919.0 L1259.5,918.1 L1260.5,916.9 L1261.8,916.2 L1263.3,915.6 L1265.0,915.0 L1266.9,914.3 L1268.8,914.1 L1270.5,913.7 L1272.1,913.4 L1273.7,913.5 L1275.2,913.4 L1276.7,913.2 L1278.0,912.8 L1279.2,912.5 L1280.2,911.6 L1281.1,910.6 L1282.0,910.0 L1283.0,908.6 L1284.0,907.2 L1285.0,906.1 L1286.0,904.4 L1287.0,902.8 L1288.0,901.1 L1289.0,899.6 L1290.0,897.9 L1291.0,896.1 L1292.0,894.1 L1293.0,892.8 L1294.0,890.8 L1295.0,889.1 L1296.0,887.7 L1297.0,886.0 L1298.0,884.9 L1299.0,883.8 L1300.0,882.9 L1301.0,882.1 L1302.0,881.2 L1303.0,880.4 L1304.0,879.9 L1305.0,879.2 L1306.0,879.1 L1307.0,878.7 L1308.0,878.8 L1309.0,879.1 L1309.9,879.7 L1310.9,880.6 L1311.9,881.5 L1313.0,882.4 L1314.2,883.4 L1315.4,883.9 L1316.7,884.9 L1318.0,885.7 L1319.2,886.3 L1320.5,887.0 L1321.7,887.2 L1322.9,888.2 L1324.2,888.5 L1325.5,889.0 L1326.9,888.6 L1328.4,888.0 L1329.9,887.4 L1331.5,886.8 L1333.0,886.5 L1334.5,885.8 L1336.0,885.5 L1337.5,885.0 L1339.0,885.0 L1340.5,885.1 L1342.0,885.5 L1343.5,886.1 L1345.0,887.3 L1346.5,888.1 L1348.0,888.8 L1349.5,889.3 L1351.0,890.1 L1352.5,890.6 L1354.0,891.4 L1355.5,892.1 L1357.0,892.8 L1358.5,894.0 L1360.0,895.2 L1361.5,896.1 L1363.0,896.8 L1364.5,898.0 L1366.0,899.3 L1367.5,900.4 L1369.0,900.9 L1370.5,902.2 L1372.0,902.9 L1373.4,903.4 L1374.8,903.4 L1376.3,904.0 L1378.0,904.7 L1379.9,905.3 L1381.9,905.8 L1384.0,906.4 L1386.0,907.1 L1388.0,907.6 L1389.8,907.5 L1391.6,907.4 L1393.3,907.4 L1395.0,907.2 L1396.8,907.0 L1398.4,907.5 L1400.1,907.6 L1401.7,908.0 L1403.5,908.4 L1405.5,908.6 L1407.8,908.8 L1410.3,908.7 L1413.0,909.0 L1415.6,908.8 L1418.0,909.1 L1420.2,909.0 L1422.3,909.8 L1424.3,910.3 L1426.2,910.7 L1428.0,911.4 L1429.7,911.4 L1431.3,911.7 L1432.8,912.0 L1434.2,911.5 L1435.5,911.2 L1436.5,910.8 L1437.3,910.1 L1438.1,909.7 L1439.1,909.0 L1440.5,908.8 L1442.3,908.5 L1444.4,908.6 L1446.7,908.7 L1449.6,908.9 L1453.0,908.6 L1457.4,908.6 L1462.6,908.9 L1468.2,908.8 L1473.5,908.6 L1478.0,909.1 L1481.8,908.4 L1485.3,909.0 L1488.2,909.2 L1490.7,909.5 L1492.5,909.3" stroke="#b2f396" stroke-width="5.9"/>
<path d="M1218.0,1045.5 L1220.4,1045.5 L1223.9,1045.5 L1227.8,1045.6 L1231.9,1045.6 L1235.5,1045.5 L1238.8,1045.4 L1242.2,1045.3 L1245.3,1045.2 L1248.2,1044.9 L1250.5,1044.5 L1252.1,1043.9 L1253.2,1043.1 L1254.0,1042.2 L1254.7,1041.1 L1255.5,1040.0 L1256.5,1038.6 L1257.4,1037.0 L1258.3,1035.4 L1259.3,1033.6 L1260.5,1032.5 L1261.8,1031.6 L1263.2,1031.1 L1264.7,1030.8 L1266.3,1030.4 L1268.0,1030.5 L1269.9,1029.7 L1272.1,1029.5 L1274.2,1028.9 L1276.3,1028.4 L1278.0,1028.4 L1279.3,1027.3 L1280.4,1026.7 L1281.2,1026.2 L1282.1,1025.6 L1283.0,1024.7 L1284.0,1023.1 L1285.0,1021.5 L1286.0,1019.9 L1287.0,1018.1 L1288.0,1016.1 L1289.0,1014.6 L1290.0,1012.8 L1291.0,1011.3 L1292.0,1009.5 L1293.0,1007.7 L1294.0,1005.6 L1295.0,1002.9 L1296.0,1000.5 L1297.0,998.3 L1298.0,996.3 L1299.0,994.5 L1299.9,992.9 L1300.9,991.3 L1301.9,990.1 L1303.0,988.8 L1304.2,987.7 L1305.5,986.7 L1306.8,986.2 L1308.1,985.6 L1309.2,985.7 L1310.3,986.0 L1311.3,986.6 L1312.3,987.8 L1313.3,988.9 L1314.2,990.0 L1315.2,991.0 L1316.2,992.6 L1317.2,994.0 L1318.2,995.1 L1319.2,996.3 L1320.4,997.0 L1321.6,997.3 L1322.8,997.6 L1324.2,998.0 L1325.5,998.1 L1326.9,997.9 L1328.3,997.3 L1329.8,996.9 L1331.3,996.7 L1333.0,996.1 L1334.9,996.1 L1336.9,995.6 L1339.1,995.0 L1341.1,995.0 L1343.0,995.1 L1344.7,995.5 L1346.2,996.1 L1347.7,997.1 L1349.1,998.0 L1350.5,999.0 L1351.8,999.4 L1353.1,999.8 L1354.3,1000.1 L1355.5,1000.6 L1356.8,1001.4 L1358.0,1002.2 L1359.2,1003.4 L1360.5,1004.9 L1361.8,1006.1 L1363.0,1007.4 L1364.2,1008.7 L1365.5,1009.9 L1366.8,1011.5 L1368.0,1012.6 L1369.2,1013.6 L1370.5,1014.6 L1371.7,1015.2 L1372.9,1016.0 L1374.2,1016.6 L1375.5,1016.8 L1376.9,1017.4 L1378.4,1017.7 L1379.9,1018.0 L1381.5,1018.4 L1383.0,1018.8 L1384.5,1019.2 L1386.1,1020.0 L1387.6,1020.2 L1389.1,1020.8 L1390.5,1021.4 L1391.8,1021.2 L1393.0,1021.0 L1394.1,1020.8 L1395.4,1020.7 L1396.8,1020.3 L1398.3,1020.8 L1400.0,1021.5 L1401.8,1022.3 L1403.6,1023.2 L1405.5,1023.5 L1407.4,1024.2 L1409.4,1024.4 L1411.4,1024.8 L1413.5,1024.6 L1415.5,1025.1 L1417.5,1025.2 L1419.5,1025.4 L1421.5,1025.9 L1423.5,1026.2 L1425.5,1026.0 L1427.6,1026.6 L1429.7,1026.7 L1431.9,1026.9 L1433.8,1027.0 L1435.5,1027.0 L1436.7,1026.7 L1437.5,1026.3 L1438.2,1025.4 L1439.1,1025.5 L1440.5,1025.0 L1442.3,1024.8 L1444.4,1024.9 L1446.7,1024.9 L1449.6,1025.1 L1453.0,1025.2 L1457.4,1025.1 L1462.6,1024.6 L1468.2,1025.2 L1473.5,1025.0 L1478.0,1025.1 L1481.8,1024.9 L1485.3,1025.0 L1488.2,1025.0 L1490.7,1025.1 L1492.5,1025.1" stroke="#e6cd73" stroke-width="5.9"/>
<path d="M1218.0,1163.2 L1220.4,1163.3 L1223.8,1163.3 L1227.8,1163.3 L1231.8,1163.3 L1235.5,1163.2 L1239.0,1163.2 L1242.6,1163.1 L1246.1,1162.9 L1249.2,1162.6 L1251.8,1162.0 L1253.5,1161.1 L1254.6,1160.0 L1255.3,1158.7 L1255.9,1157.4 L1256.8,1156.3 L1257.7,1155.2 L1258.7,1154.2 L1259.7,1153.2 L1260.7,1152.5 L1261.8,1151.9 L1262.9,1151.9 L1264.0,1152.1 L1265.3,1152.5 L1266.6,1152.3 L1268.0,1152.4 L1269.6,1152.2 L1271.4,1151.9 L1273.3,1151.7 L1275.1,1151.6 L1276.8,1151.4 L1278.2,1151.1 L1279.5,1150.4 L1280.7,1150.2 L1281.9,1149.5 L1283.0,1148.8 L1284.1,1147.9 L1285.0,1146.7 L1286.0,1145.4 L1286.9,1143.9 L1288.0,1142.5 L1289.2,1141.1 L1290.4,1139.5 L1291.7,1137.8 L1293.0,1136.4 L1294.2,1135.0 L1295.5,1134.1 L1296.6,1132.8 L1297.8,1132.0 L1299.1,1131.3 L1300.5,1130.5 L1302.1,1129.4 L1303.9,1129.1 L1305.8,1128.4 L1307.6,1127.4 L1309.2,1127.3 L1310.6,1127.9 L1311.8,1128.1 L1312.8,1129.1 L1314.0,1129.9 L1315.5,1130.4 L1317.3,1130.9 L1319.2,1131.0 L1321.3,1131.2 L1323.4,1131.6 L1325.5,1132.0 L1327.5,1132.4 L1329.5,1132.9 L1331.5,1133.4 L1333.5,1133.6 L1335.5,1133.7 L1337.5,1133.9 L1339.5,1133.6 L1341.5,1133.5 L1343.5,1133.5 L1345.5,1133.5 L1347.5,1134.2 L1349.6,1134.3 L1351.7,1134.7 L1353.7,1135.4 L1355.5,1136.5 L1357.2,1137.3 L1358.7,1138.1 L1360.1,1139.2 L1361.5,1139.9 L1363.0,1141.1 L1364.5,1142.3 L1365.9,1143.3 L1367.3,1144.3 L1368.8,1145.4 L1370.5,1146.3 L1372.3,1146.9 L1374.3,1146.8 L1376.4,1147.3 L1378.5,1147.1 L1380.5,1147.5 L1382.5,1147.9 L1384.5,1148.2 L1386.5,1149.0 L1388.5,1149.3 L1390.5,1149.5 L1392.5,1149.9 L1394.4,1149.7 L1396.3,1150.0 L1398.3,1150.2 L1400.5,1150.0 L1402.8,1150.2 L1405.3,1149.7 L1407.9,1149.5 L1410.5,1149.5 L1413.0,1149.5 L1415.6,1149.4 L1418.2,1149.8 L1420.9,1149.7 L1423.3,1149.6 L1425.5,1149.9 L1427.3,1150.4 L1428.9,1150.7 L1430.3,1151.5 L1431.7,1151.7 L1433.0,1152.0 L1434.2,1151.8 L1435.2,1151.0 L1436.3,1150.5 L1437.5,1149.8 L1439.2,1149.5 L1441.3,1149.4 L1443.7,1149.3 L1446.3,1149.1 L1449.4,1149.4 L1453.0,1149.4 L1457.4,1149.5 L1462.7,1149.8 L1468.2,1149.9 L1473.5,1150.1 L1478.0,1149.9 L1481.8,1149.8 L1485.3,1149.9 L1488.2,1150.0 L1490.7,1149.9 L1492.5,1149.8" stroke="#ff964f" stroke-width="5.9"/>
<path d="M1218.0,1282.0 L1220.4,1282.0 L1223.9,1282.0 L1227.8,1282.1 L1231.9,1282.0 L1235.5,1282.0 L1238.8,1281.9 L1242.2,1281.9 L1245.3,1281.8 L1248.2,1281.6 L1250.5,1281.2 L1252.1,1280.7 L1253.2,1280.0 L1254.0,1279.1 L1254.7,1278.3 L1255.5,1277.5 L1256.5,1276.7 L1257.4,1275.8 L1258.3,1275.0 L1259.3,1274.3 L1260.5,1273.8 L1261.8,1273.5 L1263.1,1273.8 L1264.6,1273.5 L1266.2,1273.9 L1268.0,1273.5 L1270.1,1273.4 L1272.5,1273.3 L1274.9,1272.7 L1277.3,1272.2 L1279.2,1271.2 L1280.8,1270.3 L1282.0,1269.3 L1283.1,1268.9 L1284.2,1267.5 L1285.5,1266.1 L1286.9,1265.0 L1288.4,1263.7 L1289.9,1262.5 L1291.5,1261.0 L1293.0,1259.7 L1294.5,1258.9 L1295.9,1258.3 L1297.3,1257.5 L1298.8,1256.7 L1300.5,1256.1 L1302.4,1255.9 L1304.4,1255.3 L1306.6,1254.6 L1308.6,1254.4 L1310.5,1254.8 L1312.1,1254.8 L1313.6,1255.7 L1314.9,1256.2 L1316.4,1257.0 L1318.0,1257.4 L1319.8,1257.9 L1321.8,1258.0 L1323.9,1257.8 L1326.0,1258.2 L1328.0,1257.9 L1330.0,1257.9 L1332.0,1258.1 L1334.0,1257.8 L1336.0,1257.9 L1338.0,1258.0 L1340.0,1258.4 L1342.0,1258.4 L1344.0,1258.9 L1346.0,1259.2 L1348.0,1260.1 L1350.0,1260.5 L1352.0,1260.9 L1354.0,1261.3 L1356.0,1261.7 L1358.0,1262.6 L1360.0,1263.2 L1362.0,1264.3 L1364.0,1265.5 L1366.0,1266.8 L1368.0,1267.3 L1370.0,1268.6 L1372.0,1268.5 L1374.0,1268.7 L1376.0,1269.3 L1378.0,1269.4 L1380.0,1269.7 L1381.9,1269.8 L1383.8,1269.4 L1385.8,1269.6 L1388.0,1269.4 L1390.4,1269.5 L1392.9,1269.3 L1395.6,1269.3 L1398.1,1269.4 L1400.5,1269.7 L1402.6,1269.8 L1404.6,1270.5 L1406.4,1271.3 L1408.4,1271.5 L1410.5,1272.2 L1412.8,1272.1 L1415.3,1272.3 L1417.9,1272.2 L1420.5,1272.0 L1423.0,1272.2 L1425.6,1272.1 L1428.2,1271.8 L1430.9,1271.6 L1433.3,1271.4 L1435.5,1271.3 L1437.3,1271.1 L1438.7,1270.5 L1440.1,1270.5 L1441.4,1270.2 L1443.0,1269.9 L1444.6,1269.8 L1446.1,1269.6 L1447.8,1269.9 L1450.0,1269.8 L1453.0,1269.9 L1457.2,1270.6 L1462.4,1270.2 L1468.0,1270.4 L1473.4,1271.1 L1478.0,1271.0 L1481.8,1271.3 L1485.3,1271.6 L1488.2,1271.6 L1490.7,1272.1 L1492.5,1272.0" stroke="#ff4d27" stroke-width="5.9"/>
<path d="M1218.0,1400.5 L1220.4,1400.6 L1223.9,1400.8 L1227.8,1401.1 L1231.9,1401.2 L1235.5,1401.2 L1238.8,1401.2 L1242.2,1401.0 L1245.3,1400.7 L1248.2,1400.4 L1250.5,1400.0 L1252.1,1399.5 L1253.2,1399.0 L1254.0,1398.4 L1254.7,1397.7 L1255.5,1397.0 L1256.5,1396.2 L1257.4,1395.2 L1258.3,1394.2 L1259.3,1393.6 L1260.5,1393.1 L1261.8,1392.8 L1263.1,1393.1 L1264.5,1393.4 L1266.1,1393.7 L1268.0,1393.6 L1270.3,1393.5 L1272.9,1393.2 L1275.6,1392.4 L1278.2,1392.0 L1280.5,1391.0 L1282.3,1390.5 L1283.9,1389.3 L1285.2,1388.4 L1286.6,1387.3 L1288.0,1386.0 L1289.5,1385.1 L1291.0,1384.4 L1292.5,1383.5 L1294.0,1382.8 L1295.5,1381.8 L1297.0,1381.5 L1298.5,1381.6 L1300.0,1381.0 L1301.5,1380.6 L1303.0,1380.2 L1304.5,1380.2 L1305.9,1379.7 L1307.3,1379.0 L1308.8,1378.9 L1310.5,1378.9 L1312.3,1379.2 L1314.2,1379.6 L1316.2,1380.1 L1318.3,1380.6 L1320.5,1381.4 L1322.9,1381.4 L1325.5,1382.2 L1328.2,1382.3 L1330.7,1382.4 L1333.0,1382.2 L1335.0,1382.2 L1336.8,1381.7 L1338.4,1381.4 L1340.1,1381.3 L1341.8,1381.6 L1343.5,1381.5 L1345.2,1382.1 L1346.9,1383.3 L1348.7,1383.8 L1350.5,1384.5 L1352.4,1384.9 L1354.4,1385.8 L1356.4,1386.1 L1358.5,1386.7 L1360.5,1387.1 L1362.5,1387.6 L1364.5,1387.9 L1366.5,1388.1 L1368.5,1388.5 L1370.5,1388.7 L1372.5,1388.7 L1374.5,1388.9 L1376.5,1388.9 L1378.5,1389.2 L1380.5,1389.4 L1382.5,1389.9 L1384.4,1390.2 L1386.3,1391.2 L1388.3,1391.6 L1390.5,1392.1 L1392.8,1392.0 L1395.3,1392.1 L1397.9,1392.0 L1400.5,1392.1 L1403.0,1391.9 L1405.5,1392.1 L1408.1,1391.9 L1410.7,1392.3 L1413.2,1392.4 L1415.5,1392.5 L1417.7,1392.7 L1419.7,1393.1 L1421.6,1393.6 L1423.5,1393.8 L1425.5,1393.9 L1427.5,1393.6 L1429.6,1393.1 L1431.7,1392.7 L1433.7,1392.3 L1435.5,1392.0 L1437.1,1391.7 L1438.6,1391.4 L1439.9,1391.3 L1441.4,1391.4 L1443.0,1391.1 L1444.6,1391.2 L1446.1,1391.1 L1447.8,1391.2 L1450.0,1391.2 L1453.0,1391.4 L1457.2,1391.3 L1462.4,1391.0 L1468.0,1391.2 L1473.4,1391.0 L1478.0,1391.2 L1481.8,1391.5 L1485.3,1391.3 L1488.2,1391.8 L1490.7,1391.9 L1492.5,1392.1" stroke="#ff0000" stroke-width="5.9"/>
</g>
<g stroke="#000" fill="none" stroke-linecap="butt">
<path d="M297.25,47.80H582.00" stroke-width="5.60"/>
<path d="M297.25,1417.70H582.00" stroke-width="6.00"/>
<path d="M300.40,45.00V1420.70M578.85,45.00V1432.80" stroke-width="6.30"/>
<path d="M337.8,47.8V58.5M418.4,47.8V58.5M504.2,47.8V58.5" stroke-width="6.20"/>
<path d="M338.0,1417.7V1432.8M418.0,1417.7V1432.8M498.0,1417.7V1432.8" stroke-width="7.00"/>
<path d="M600.05,47.80H886.25" stroke-width="5.60"/>
<path d="M600.05,1417.70H886.25" stroke-width="6.00"/>
<path d="M603.20,45.00V1426.60M883.10,45.00V1432.80" stroke-width="6.30"/>
<path d="M653.8,47.8V58.5M715.0,47.8V58.5M771.2,47.8V58.5M831.5,47.8V58.5" stroke-width="6.20"/>
<path d="M653.9,1417.7V1432.8M770.7,1417.7V1432.8M714.8,1417.7V1426.6M832.1,1417.7V1426.6" stroke-width="7.00"/>
<path d="M904.75,47.80H1195.45" stroke-width="5.60"/>
<path d="M904.75,1417.70H1195.45" stroke-width="6.00"/>
<path d="M907.90,45.00V1426.60M1192.30,45.00V1432.80" stroke-width="6.30"/>
<path d="M955.8,47.8V58.5M1012.5,47.8V58.5M1073.7,47.8V58.5M1135.0,47.8V58.5" stroke-width="6.20"/>
<path d="M955.8,1417.7V1432.8M1067.5,1417.7V1432.8M1012.2,1417.7V1426.6M1130.0,1417.7V1426.6" stroke-width="7.00"/>
<path d="M1213.95,47.80H1498.35" stroke-width="5.60"/>
<path d="M1213.95,1417.70H1498.35" stroke-width="6.00"/>
<path d="M1217.10,45.00V1426.60M1495.20,45.00V1432.80" stroke-width="6.30"/>
<path d="M1271.7,47.8V58.5M1328.0,47.8V58.5M1383.0,47.8V58.5M1439.3,47.8V58.5" stroke-width="6.20"/>
<path d="M1271.6,1417.7V1432.8M1383.3,1417.7V1432.8M1328.2,1417.7V1426.6M1439.6,1417.7V1426.6" stroke-width="7.00"/>
</g>
<g font-family="'Liberation Sans', Arial, Helvetica, sans-serif" fill="#000">
<text transform="translate(11.8,95.4) scale(1.035,1)" text-anchor="start" font-size="36.0px" stroke="#000" stroke-width="0.3">HAADF Series</text>
<text transform="translate(437.6,34.4) scale(1.041,1)" text-anchor="middle" font-size="35.8px" stroke="#000" stroke-width="0.3">Low Loss</text>
<text transform="translate(745.5,34.4) scale(1.041,1)" text-anchor="middle" font-size="35.8px" stroke="#000" stroke-width="0.3">Boron K edge</text>
<text transform="translate(1047.2,34.4) scale(1.041,1)" text-anchor="middle" font-size="35.8px" stroke="#000" stroke-width="0.3">Carbon K edge</text>
<text transform="translate(1353.8,34.4) scale(1.041,1)" text-anchor="middle" font-size="35.8px" stroke="#000" stroke-width="0.3">Nitrogen K edge</text>
<text transform="translate(338.5,1468.9) scale(1.020,1)" text-anchor="middle" font-size="37.0px" stroke="#000" stroke-width="0.3">10</text>
<text transform="translate(416.0,1468.9) scale(1.020,1)" text-anchor="middle" font-size="37.0px" stroke="#000" stroke-width="0.3">20</text>
<text transform="translate(502.0,1468.9) scale(1.020,1)" text-anchor="middle" font-size="37.0px" stroke="#000" stroke-width="0.3">30</text>
<text transform="translate(567.9,1468.9) scale(1.020,1)" text-anchor="middle" font-size="37.0px" stroke="#000" stroke-width="0.3">40</text>
<text transform="translate(653.7,1468.9) scale(1.020,1)" text-anchor="middle" font-size="37.0px" stroke="#000" stroke-width="0.3">190</text>
<text transform="translate(768.8,1468.9) scale(1.020,1)" text-anchor="middle" font-size="37.0px" stroke="#000" stroke-width="0.3">210</text>
<text transform="translate(878.0,1468.9) scale(1.020,1)" text-anchor="middle" font-size="37.0px" stroke="#000" stroke-width="0.3">230</text>
<text transform="translate(955.8,1468.9) scale(1.020,1)" text-anchor="middle" font-size="37.0px" stroke="#000" stroke-width="0.3">280</text>
<text transform="translate(1068.0,1468.9) scale(1.020,1)" text-anchor="middle" font-size="37.0px" stroke="#000" stroke-width="0.3">300</text>
<text transform="translate(1190.4,1468.9) scale(1.020,1)" text-anchor="middle" font-size="37.0px" stroke="#000" stroke-width="0.3">320</text>
<text transform="translate(1274.2,1468.9) scale(1.020,1)" text-anchor="middle" font-size="37.0px" stroke="#000" stroke-width="0.3">400</text>
<text transform="translate(1375.8,1468.9) scale(1.020,1)" text-anchor="middle" font-size="37.0px" stroke="#000" stroke-width="0.3">420</text>
<text transform="translate(1465.9,1468.9) scale(1.020,1)" text-anchor="middle" font-size="37.0px" stroke="#000" stroke-width="0.3">440</text>
<text transform="translate(884.9,1518.5) scale(1.038,1)" text-anchor="middle" font-size="36.0px" stroke="#000" stroke-width="0.3">Electron energy loss (eV)</text>
<text transform="translate(315.2,95.8) scale(1.040,1)" text-anchor="start" font-size="38.3px" font-weight="bold" stroke="#000" stroke-width="0.4">10x</text>
<text transform="translate(921.8,95.6) scale(1.060,1)" text-anchor="start" font-size="37.3px" font-weight="bold" stroke="#000" stroke-width="0.4">4x</text>
<text transform="translate(1235.0,95.6) scale(1.060,1)" text-anchor="start" font-size="37.3px" font-weight="bold" stroke="#000" stroke-width="0.4">4x</text>
</g>
<rect x="317.5" y="1464.7" width="9.0" height="7.1" fill="#fff"/>
<rect x="331.5" y="1464.7" width="7.0" height="7.1" fill="#fff"/>
<rect x="622.5" y="1464.7" width="8.0" height="7.1" fill="#fff"/>
<rect x="635.5" y="1464.7" width="8.0" height="7.1" fill="#fff"/>
<rect x="758.5" y="1464.7" width="8.0" height="7.1" fill="#fff"/>
<rect x="771.5" y="1464.7" width="8.0" height="7.1" fill="#fff"/>
<rect x="314.5" y="89.6" width="9.0" height="8.9" fill="#fff"/>
<rect x="330.5" y="89.6" width="8.2" height="8.9" fill="#fff"/>
</g>
</svg>
</body>
</html>
